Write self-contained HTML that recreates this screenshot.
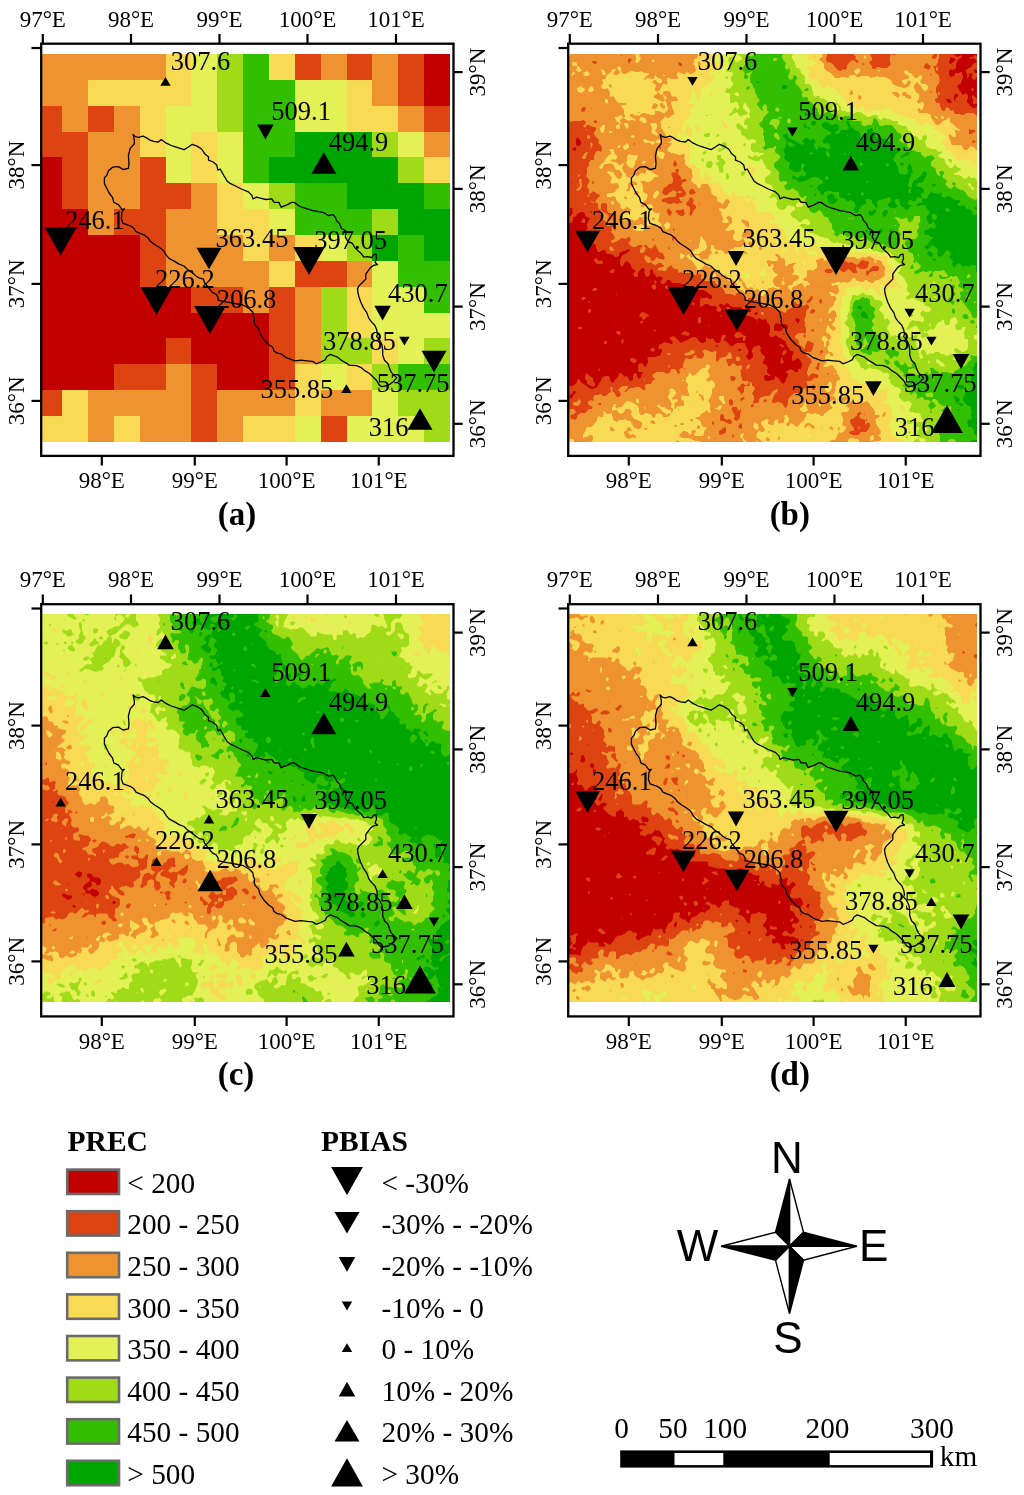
<!DOCTYPE html>
<html><head><meta charset="utf-8"><title>Precipitation maps</title>
<style>
html,body{margin:0;padding:0;background:#fff;}
body{width:1024px;height:1495px;overflow:hidden;position:relative;}
svg{position:absolute;left:0;top:0;display:block;}
.ax{font-family:'Liberation Serif','Times New Roman',serif;font-size:23px;fill:#000;}
.lab{font-family:'Liberation Serif','Times New Roman',serif;font-size:26.5px;fill:#000;}
.pl{font-family:'Liberation Serif','Times New Roman',serif;font-size:33px;font-weight:bold;fill:#000;}
.lh{font-family:'Liberation Serif','Times New Roman',serif;font-size:29.5px;font-weight:bold;fill:#000;}
.lt{font-family:'Liberation Serif','Times New Roman',serif;font-size:29.3px;fill:#000;}
.cp{font-family:'Liberation Sans',Arial,sans-serif;font-size:44px;fill:#000;}
</style></head>
<body>
<svg width="1024" height="1495" viewBox="0 0 1024 1495">
<defs><clipPath id="rclip"><rect x="42" y="54" width="408" height="388"/></clipPath><clipPath id="rcliph"><rect x="42" y="53.5" width="408" height="388"/></clipPath></defs>
<g transform="translate(0,0)">
<g clip-path="url(#rclip)" shape-rendering="crispEdges"><rect x="42.00" y="54.00" width="123.90" height="26.15" fill="#EE9330"/>
<rect x="165.60" y="54.00" width="26.15" height="26.15" fill="#F8DA55"/>
<rect x="191.45" y="54.00" width="26.15" height="26.15" fill="#E3F056"/>
<rect x="217.30" y="54.00" width="26.15" height="26.15" fill="#9FDB17"/>
<rect x="243.15" y="54.00" width="26.15" height="26.15" fill="#31BF00"/>
<rect x="269.00" y="54.00" width="26.15" height="26.15" fill="#F8DA55"/>
<rect x="294.85" y="54.00" width="26.15" height="26.15" fill="#DD4412"/>
<rect x="320.70" y="54.00" width="26.15" height="26.15" fill="#EE9330"/>
<rect x="346.55" y="54.00" width="26.15" height="26.15" fill="#DD4412"/>
<rect x="372.40" y="54.00" width="26.15" height="26.15" fill="#EE9330"/>
<rect x="398.25" y="54.00" width="26.15" height="26.15" fill="#DD4412"/>
<rect x="424.10" y="54.00" width="26.20" height="26.15" fill="#C20000"/>
<rect x="42.00" y="79.85" width="46.35" height="26.15" fill="#EE9330"/>
<rect x="88.05" y="79.85" width="103.70" height="26.15" fill="#F8DA55"/>
<rect x="191.45" y="79.85" width="26.15" height="26.15" fill="#E3F056"/>
<rect x="217.30" y="79.85" width="26.15" height="26.15" fill="#9FDB17"/>
<rect x="243.15" y="79.85" width="52.00" height="26.15" fill="#31BF00"/>
<rect x="294.85" y="79.85" width="52.00" height="26.15" fill="#E3F056"/>
<rect x="346.55" y="79.85" width="26.15" height="26.15" fill="#F8DA55"/>
<rect x="372.40" y="79.85" width="26.15" height="26.15" fill="#EE9330"/>
<rect x="398.25" y="79.85" width="26.15" height="26.15" fill="#DD4412"/>
<rect x="424.10" y="79.85" width="26.20" height="26.15" fill="#C20000"/>
<rect x="42.00" y="105.70" width="20.50" height="26.15" fill="#DD4412"/>
<rect x="62.20" y="105.70" width="26.15" height="26.15" fill="#EE9330"/>
<rect x="88.05" y="105.70" width="26.15" height="26.15" fill="#DD4412"/>
<rect x="113.90" y="105.70" width="26.15" height="26.15" fill="#EE9330"/>
<rect x="139.75" y="105.70" width="26.15" height="26.15" fill="#F8DA55"/>
<rect x="165.60" y="105.70" width="52.00" height="26.15" fill="#E3F056"/>
<rect x="217.30" y="105.70" width="26.15" height="26.15" fill="#9FDB17"/>
<rect x="243.15" y="105.70" width="52.00" height="26.15" fill="#31BF00"/>
<rect x="294.85" y="105.70" width="52.00" height="26.15" fill="#E3F056"/>
<rect x="346.55" y="105.70" width="52.00" height="26.15" fill="#F8DA55"/>
<rect x="398.25" y="105.70" width="26.15" height="26.15" fill="#EE9330"/>
<rect x="424.10" y="105.70" width="26.20" height="26.15" fill="#DD4412"/>
<rect x="42.00" y="131.55" width="46.35" height="26.15" fill="#DD4412"/>
<rect x="88.05" y="131.55" width="52.00" height="26.15" fill="#EE9330"/>
<rect x="139.75" y="131.55" width="26.15" height="26.15" fill="#F8DA55"/>
<rect x="165.60" y="131.55" width="26.15" height="26.15" fill="#E3F056"/>
<rect x="191.45" y="131.55" width="26.15" height="26.15" fill="#F8DA55"/>
<rect x="217.30" y="131.55" width="26.15" height="26.15" fill="#E3F056"/>
<rect x="243.15" y="131.55" width="52.00" height="26.15" fill="#31BF00"/>
<rect x="294.85" y="131.55" width="77.85" height="26.15" fill="#00A600"/>
<rect x="372.40" y="131.55" width="26.15" height="26.15" fill="#9FDB17"/>
<rect x="398.25" y="131.55" width="26.15" height="26.15" fill="#E3F056"/>
<rect x="424.10" y="131.55" width="26.20" height="26.15" fill="#EE9330"/>
<rect x="42.00" y="157.40" width="20.50" height="26.15" fill="#C20000"/>
<rect x="62.20" y="157.40" width="26.15" height="26.15" fill="#DD4412"/>
<rect x="88.05" y="157.40" width="52.00" height="26.15" fill="#EE9330"/>
<rect x="139.75" y="157.40" width="26.15" height="26.15" fill="#DD4412"/>
<rect x="165.60" y="157.40" width="26.15" height="26.15" fill="#E3F056"/>
<rect x="191.45" y="157.40" width="26.15" height="26.15" fill="#F8DA55"/>
<rect x="217.30" y="157.40" width="26.15" height="26.15" fill="#E3F056"/>
<rect x="243.15" y="157.40" width="26.15" height="26.15" fill="#31BF00"/>
<rect x="269.00" y="157.40" width="129.55" height="26.15" fill="#00A600"/>
<rect x="398.25" y="157.40" width="26.15" height="26.15" fill="#9FDB17"/>
<rect x="424.10" y="157.40" width="26.20" height="26.15" fill="#F8DA55"/>
<rect x="42.00" y="183.25" width="20.50" height="26.15" fill="#C20000"/>
<rect x="62.20" y="183.25" width="26.15" height="26.15" fill="#DD4412"/>
<rect x="88.05" y="183.25" width="52.00" height="26.15" fill="#EE9330"/>
<rect x="139.75" y="183.25" width="52.00" height="26.15" fill="#DD4412"/>
<rect x="191.45" y="183.25" width="26.15" height="26.15" fill="#EE9330"/>
<rect x="217.30" y="183.25" width="26.15" height="26.15" fill="#F8DA55"/>
<rect x="243.15" y="183.25" width="26.15" height="26.15" fill="#E3F056"/>
<rect x="269.00" y="183.25" width="26.15" height="26.15" fill="#9FDB17"/>
<rect x="294.85" y="183.25" width="52.00" height="26.15" fill="#31BF00"/>
<rect x="346.55" y="183.25" width="77.85" height="26.15" fill="#00A600"/>
<rect x="424.10" y="183.25" width="26.20" height="26.15" fill="#31BF00"/>
<rect x="42.00" y="209.10" width="46.35" height="26.15" fill="#C20000"/>
<rect x="88.05" y="209.10" width="26.15" height="26.15" fill="#EE9330"/>
<rect x="113.90" y="209.10" width="52.00" height="26.15" fill="#DD4412"/>
<rect x="165.60" y="209.10" width="52.00" height="26.15" fill="#EE9330"/>
<rect x="217.30" y="209.10" width="52.00" height="26.15" fill="#F8DA55"/>
<rect x="269.00" y="209.10" width="26.15" height="26.15" fill="#E3F056"/>
<rect x="294.85" y="209.10" width="77.85" height="26.15" fill="#31BF00"/>
<rect x="372.40" y="209.10" width="26.15" height="26.15" fill="#9FDB17"/>
<rect x="398.25" y="209.10" width="52.05" height="26.15" fill="#00A600"/>
<rect x="42.00" y="234.95" width="98.05" height="26.15" fill="#C20000"/>
<rect x="139.75" y="234.95" width="26.15" height="26.15" fill="#DD4412"/>
<rect x="165.60" y="234.95" width="77.85" height="26.15" fill="#EE9330"/>
<rect x="243.15" y="234.95" width="26.15" height="26.15" fill="#F8DA55"/>
<rect x="269.00" y="234.95" width="26.15" height="26.15" fill="#EE9330"/>
<rect x="294.85" y="234.95" width="26.15" height="26.15" fill="#F8DA55"/>
<rect x="320.70" y="234.95" width="26.15" height="26.15" fill="#E3F056"/>
<rect x="346.55" y="234.95" width="26.15" height="26.15" fill="#9FDB17"/>
<rect x="372.40" y="234.95" width="26.15" height="26.15" fill="#00A600"/>
<rect x="398.25" y="234.95" width="26.15" height="26.15" fill="#31BF00"/>
<rect x="424.10" y="234.95" width="26.20" height="26.15" fill="#00A600"/>
<rect x="42.00" y="260.80" width="98.05" height="26.15" fill="#C20000"/>
<rect x="139.75" y="260.80" width="26.15" height="26.15" fill="#DD4412"/>
<rect x="165.60" y="260.80" width="103.70" height="26.15" fill="#EE9330"/>
<rect x="269.00" y="260.80" width="26.15" height="26.15" fill="#F8DA55"/>
<rect x="294.85" y="260.80" width="52.00" height="26.15" fill="#DD4412"/>
<rect x="346.55" y="260.80" width="26.15" height="26.15" fill="#EE9330"/>
<rect x="372.40" y="260.80" width="26.15" height="26.15" fill="#E3F056"/>
<rect x="398.25" y="260.80" width="52.05" height="26.15" fill="#31BF00"/>
<rect x="42.00" y="286.65" width="149.75" height="26.15" fill="#C20000"/>
<rect x="191.45" y="286.65" width="52.00" height="26.15" fill="#DD4412"/>
<rect x="243.15" y="286.65" width="26.15" height="26.15" fill="#EE9330"/>
<rect x="269.00" y="286.65" width="26.15" height="26.15" fill="#DD4412"/>
<rect x="294.85" y="286.65" width="26.15" height="26.15" fill="#EE9330"/>
<rect x="320.70" y="286.65" width="26.15" height="26.15" fill="#9FDB17"/>
<rect x="346.55" y="286.65" width="26.15" height="26.15" fill="#F8DA55"/>
<rect x="372.40" y="286.65" width="52.00" height="26.15" fill="#E3F056"/>
<rect x="424.10" y="286.65" width="26.20" height="26.15" fill="#31BF00"/>
<rect x="42.00" y="312.50" width="227.30" height="26.15" fill="#C20000"/>
<rect x="269.00" y="312.50" width="26.15" height="26.15" fill="#DD4412"/>
<rect x="294.85" y="312.50" width="26.15" height="26.15" fill="#EE9330"/>
<rect x="320.70" y="312.50" width="26.15" height="26.15" fill="#9FDB17"/>
<rect x="346.55" y="312.50" width="26.15" height="26.15" fill="#F8DA55"/>
<rect x="372.40" y="312.50" width="77.90" height="26.15" fill="#E3F056"/>
<rect x="42.00" y="338.35" width="123.90" height="26.15" fill="#C20000"/>
<rect x="165.60" y="338.35" width="26.15" height="26.15" fill="#DD4412"/>
<rect x="191.45" y="338.35" width="77.85" height="26.15" fill="#C20000"/>
<rect x="269.00" y="338.35" width="26.15" height="26.15" fill="#DD4412"/>
<rect x="294.85" y="338.35" width="26.15" height="26.15" fill="#EE9330"/>
<rect x="320.70" y="338.35" width="52.00" height="26.15" fill="#9FDB17"/>
<rect x="372.40" y="338.35" width="26.15" height="26.15" fill="#F8DA55"/>
<rect x="398.25" y="338.35" width="26.15" height="26.15" fill="#E3F056"/>
<rect x="424.10" y="338.35" width="26.20" height="26.15" fill="#9FDB17"/>
<rect x="42.00" y="364.20" width="72.20" height="26.15" fill="#C20000"/>
<rect x="113.90" y="364.20" width="52.00" height="26.15" fill="#DD4412"/>
<rect x="165.60" y="364.20" width="26.15" height="26.15" fill="#EE9330"/>
<rect x="191.45" y="364.20" width="26.15" height="26.15" fill="#DD4412"/>
<rect x="217.30" y="364.20" width="52.00" height="26.15" fill="#C20000"/>
<rect x="269.00" y="364.20" width="26.15" height="26.15" fill="#DD4412"/>
<rect x="294.85" y="364.20" width="26.15" height="26.15" fill="#F8DA55"/>
<rect x="320.70" y="364.20" width="26.15" height="26.15" fill="#E3F056"/>
<rect x="346.55" y="364.20" width="26.15" height="26.15" fill="#F8DA55"/>
<rect x="372.40" y="364.20" width="26.15" height="26.15" fill="#9FDB17"/>
<rect x="398.25" y="364.20" width="52.05" height="26.15" fill="#31BF00"/>
<rect x="42.00" y="390.05" width="20.50" height="26.15" fill="#DD4412"/>
<rect x="62.20" y="390.05" width="26.15" height="26.15" fill="#F8DA55"/>
<rect x="88.05" y="390.05" width="103.70" height="26.15" fill="#EE9330"/>
<rect x="191.45" y="390.05" width="26.15" height="26.15" fill="#DD4412"/>
<rect x="217.30" y="390.05" width="77.85" height="26.15" fill="#EE9330"/>
<rect x="294.85" y="390.05" width="26.15" height="26.15" fill="#F8DA55"/>
<rect x="320.70" y="390.05" width="52.00" height="26.15" fill="#EE9330"/>
<rect x="372.40" y="390.05" width="26.15" height="26.15" fill="#E3F056"/>
<rect x="398.25" y="390.05" width="52.05" height="26.15" fill="#9FDB17"/>
<rect x="42.00" y="415.90" width="46.35" height="26.15" fill="#F8DA55"/>
<rect x="88.05" y="415.90" width="26.15" height="26.15" fill="#EE9330"/>
<rect x="113.90" y="415.90" width="26.15" height="26.15" fill="#F8DA55"/>
<rect x="139.75" y="415.90" width="52.00" height="26.15" fill="#EE9330"/>
<rect x="191.45" y="415.90" width="26.15" height="26.15" fill="#DD4412"/>
<rect x="217.30" y="415.90" width="26.15" height="26.15" fill="#EE9330"/>
<rect x="243.15" y="415.90" width="52.00" height="26.15" fill="#F8DA55"/>
<rect x="294.85" y="415.90" width="26.15" height="26.15" fill="#E3F056"/>
<rect x="320.70" y="415.90" width="26.15" height="26.15" fill="#DD4412"/>
<rect x="346.55" y="415.90" width="77.85" height="26.15" fill="#E3F056"/>
<rect x="424.10" y="415.90" width="26.20" height="26.15" fill="#9FDB17"/></g>
<path d="M133.1,134.4 L135.4,136.7 L138.4,137.3 L143.0,136.1 L146.6,137.9 L150.1,140.2 L153.6,141.4 L158.3,142.0 L161.2,139.6 L165.3,142.6 L171.2,145.5 L177.0,147.3 L184.1,149.6 L188.8,146.7 L192.3,144.3 L197.0,146.1 L201.6,149.0 L205.2,154.3 L208.5,156.7 L208.5,160.2 L213.2,162.0 L216.7,164.9 L217.9,170.2 L220.2,169.0 L223.8,175.5 L227.3,181.3 L229.6,183.1 L235.5,186.0 L241.3,189.0 L248.4,191.9 L251.9,195.4 L253.0,198.9 L256.6,197.2 L261.3,198.3 L265.9,199.5 L271.8,198.9 L274.1,202.4 L278.8,202.4 L281.2,207.1 L287.0,204.8 L291.7,202.4 L294.1,202.4 L299.9,206.5 L305.8,208.3 L312.8,210.6 L318.9,211.7 L323.8,212.7 L328.7,215.6 L333.1,214.6 L335.5,217.6 L336.5,220.5 L339.4,223.4 L341.4,228.3 L346.3,231.3 L345.3,237.1 L348.2,242.0 L352.1,243.0 L355.0,247.9 L358.0,250.8 L360.9,253.2 L363.8,257.1 L367.7,256.6 L371.6,257.6 L373.6,254.7 L376.0,254.2 L376.5,258.6 L375.1,262.5 L377.5,264.5 L373.6,265.4 L370.7,267.4 L367.7,271.3 L365.8,274.2 L365.8,279.1 L362.9,282.0 L359.0,285.9 L357.5,288.9 L358.1,293.5 L359.0,297.0 L360.8,302.3 L363.4,307.6 L366.9,312.9 L368.7,318.1 L371.3,321.6 L374.8,325.2 L376.6,329.5 L377.5,333.9 L376.6,336.6 L379.2,339.2 L381.9,344.5 L382.7,349.8 L382.7,355.0 L384.5,360.3 L388.0,363.8 L389.8,369.1 L391.5,372.6 L395.0,376.1 L396.8,377.9 L393.0,382.0 L388.0,385.5 L381.9,386.7 L379.2,384.9 L376.6,380.5 L373.1,377.0 L369.5,373.5 L365.2,370.9 L360.8,367.3 L356.4,365.6 L349.3,365.1 L345.8,362.9 L341.4,360.3 L337.0,356.8 L334.8,356.1 L330.2,354.4 L326.6,356.7 L325.5,359.6 L320.8,362.0 L316.1,363.8 L312.6,361.4 L306.7,360.8 L300.9,360.2 L295.0,360.8 L290.3,359.1 L285.6,357.3 L280.9,353.8 L277.4,353.2 L273.9,350.9 L272.7,347.3 L269.2,345.0 L264.5,340.3 L259.8,333.3 L258.7,328.6 L255.2,325.1 L254.0,321.6 L254.6,319.2 L253.4,315.7 L252.8,312.2 L249.3,308.7 L243.4,305.2 L237.6,304.0 L231.7,302.8 L227.0,302.2 L222.0,301.2 L218.1,300.2 L218.1,297.3 L216.2,294.3 L212.3,292.4 L208.4,287.5 L204.5,282.6 L203.5,279.2 L199.6,278.2 L195.7,275.8 L192.7,272.9 L187.9,269.9 L183.9,266.0 L179.1,264.1 L174.2,261.1 L169.3,258.7 L166.4,255.3 L163.4,250.4 L159.5,247.5 L154.6,244.5 L150.7,241.6 L147.8,237.7 L143.9,234.8 L140.0,233.3 L136.0,231.6 L133.7,228.1 L130.2,225.8 L123.1,223.4 L121.4,218.8 L122.0,211.7 L124.3,208.8 L122.0,209.4 L118.4,204.7 L113.8,202.3 L112.6,197.7 L109.1,193.0 L106.7,188.3 L104.4,183.6 L104.4,177.7 L106.7,175.4 L108.5,170.7 L112.6,167.2 L118.4,166.6 L123.1,169.5 L128.4,168.4 L129.0,163.7 L128.4,155.5 L130.2,148.4 L134.3,143.8 L134.3,140.2 Z" fill="none" stroke="#000" stroke-width="1.3" stroke-linejoin="round"/>
<polygon points="165.50,77.00 170.70,85.80 160.30,85.80" fill="#000"/>
<polygon points="257.10,124.60 273.70,124.60 265.40,139.40" fill="#000"/>
<polygon points="323.80,152.25 336.30,173.75 311.30,173.75" fill="#000"/>
<polygon points="44.70,227.40 76.50,227.40 60.60,255.60" fill="#000"/>
<polygon points="196.50,247.75 221.50,247.75 209.00,269.25" fill="#000"/>
<polygon points="293.10,246.90 324.90,246.90 309.00,275.10" fill="#000"/>
<polygon points="140.60,286.90 172.40,286.90 156.50,315.10" fill="#000"/>
<polygon points="194.10,305.90 225.90,305.90 210.00,334.10" fill="#000"/>
<polygon points="374.30,305.80 390.90,305.80 382.60,320.60" fill="#000"/>
<polygon points="399.20,336.80 409.60,336.80 404.40,345.60" fill="#000"/>
<polygon points="421.50,350.75 446.50,350.75 434.00,372.25" fill="#000"/>
<polygon points="346.40,384.30 351.60,393.10 341.20,393.10" fill="#000"/>
<polygon points="420.00,408.25 432.50,429.75 407.50,429.75" fill="#000"/>
<text x="170.7" y="69.5" text-anchor="start" class="lab">307.6</text>
<text x="271.3" y="120.4" text-anchor="start" class="lab">509.1</text>
<text x="328.7" y="150.8" text-anchor="start" class="lab">494.9</text>
<text x="65.1" y="229.3" text-anchor="start" class="lab">246.1</text>
<text x="215.6" y="247.3" text-anchor="start" class="lab">363.45</text>
<text x="314.2" y="248.7" text-anchor="start" class="lab">397.05</text>
<text x="155.0" y="288.4" text-anchor="start" class="lab">226.2</text>
<text x="216.7" y="307.5" text-anchor="start" class="lab">206.8</text>
<text x="388.0" y="301.5" text-anchor="start" class="lab">430.7</text>
<text x="395.8" y="350.3" text-anchor="end" class="lab">378.85</text>
<text x="449.6" y="392.3" text-anchor="end" class="lab">537.75</text>
<text x="333.3" y="398.2" text-anchor="end" class="lab">355.85</text>
<text x="408.5" y="436.3" text-anchor="end" class="lab">316</text>
<rect x="41.2" y="43.7" width="412.3" height="412.2" fill="none" stroke="#000" stroke-width="2.3"/>
<line x1="42.8" y1="34" x2="42.8" y2="43.7" stroke="#000" stroke-width="2.2"/>
<line x1="131" y1="34" x2="131" y2="43.7" stroke="#000" stroke-width="2.2"/>
<line x1="219.5" y1="34" x2="219.5" y2="43.7" stroke="#000" stroke-width="2.2"/>
<line x1="307.5" y1="34" x2="307.5" y2="43.7" stroke="#000" stroke-width="2.2"/>
<line x1="396" y1="34" x2="396" y2="43.7" stroke="#000" stroke-width="2.2"/>
<line x1="101.8" y1="455.9" x2="101.8" y2="465.5" stroke="#000" stroke-width="2.2"/>
<line x1="194.8" y1="455.9" x2="194.8" y2="465.5" stroke="#000" stroke-width="2.2"/>
<line x1="286.6" y1="455.9" x2="286.6" y2="465.5" stroke="#000" stroke-width="2.2"/>
<line x1="378.75" y1="455.9" x2="378.75" y2="465.5" stroke="#000" stroke-width="2.2"/>
<line x1="31.5" y1="48" x2="41.2" y2="48" stroke="#000" stroke-width="2.2"/>
<line x1="31.5" y1="165.1" x2="41.2" y2="165.1" stroke="#000" stroke-width="2.2"/>
<line x1="31.5" y1="283.9" x2="41.2" y2="283.9" stroke="#000" stroke-width="2.2"/>
<line x1="31.5" y1="400.9" x2="41.2" y2="400.9" stroke="#000" stroke-width="2.2"/>
<line x1="453.5" y1="72.1" x2="462.7" y2="72.1" stroke="#000" stroke-width="2.2"/>
<line x1="453.5" y1="188.9" x2="462.7" y2="188.9" stroke="#000" stroke-width="2.2"/>
<line x1="453.5" y1="306.6" x2="462.7" y2="306.6" stroke="#000" stroke-width="2.2"/>
<line x1="453.5" y1="423.8" x2="462.7" y2="423.8" stroke="#000" stroke-width="2.2"/>
<text x="42.8" y="26.9" text-anchor="middle" class="ax">97°E</text>
<text x="131" y="26.9" text-anchor="middle" class="ax">98°E</text>
<text x="219.5" y="26.9" text-anchor="middle" class="ax">99°E</text>
<text x="307.5" y="26.9" text-anchor="middle" class="ax">100°E</text>
<text x="396" y="26.9" text-anchor="middle" class="ax">101°E</text>
<text x="101.8" y="488" text-anchor="middle" class="ax">98°E</text>
<text x="194.8" y="488" text-anchor="middle" class="ax">99°E</text>
<text x="286.6" y="488" text-anchor="middle" class="ax">100°E</text>
<text x="378.75" y="488" text-anchor="middle" class="ax">101°E</text>
<text transform="translate(24.1,165.1) rotate(-90)" text-anchor="middle" class="ax">38°N</text>
<text transform="translate(24.1,283.9) rotate(-90)" text-anchor="middle" class="ax">37°N</text>
<text transform="translate(24.1,400.9) rotate(-90)" text-anchor="middle" class="ax">36°N</text>
<text transform="translate(485.3,72.1) rotate(-90)" text-anchor="middle" class="ax">39°N</text>
<text transform="translate(485.3,188.9) rotate(-90)" text-anchor="middle" class="ax">38°N</text>
<text transform="translate(485.3,306.6) rotate(-90)" text-anchor="middle" class="ax">37°N</text>
<text transform="translate(485.3,423.8) rotate(-90)" text-anchor="middle" class="ax">36°N</text>
<text x="237" y="524.8" text-anchor="middle" class="pl">(a)</text>
</g>
<g transform="translate(527,0)">
<g clip-path="url(#rclip)"><rect x="30" y="42" width="434" height="414" fill="#C20000"/>
<path d="M355 46l0 2 1 1 2 1 0-4 65 0 1 2 2 2 1 2 0 2 3 3 2-1 1 0 1-1 1 1-1 2-2 1-1 1-2 4 0 4-1 1-2 1-2-1-2 2 0 4 2 2 2-1 1 0 1-2 0-1 4 0 2-1 1 0 0 2 1 2 0 2-2 4 0 2-2 0-2 2 1 2 1 1 0 1 2 2 0 1 2 2 1-1 1 0 2-1 0 1 1 2 0 2-1 2 0 2 2 2 1 2 1 0 2 2 2 0 2-1 1-1 1-2-2-1-2 1-2 0 0-4-1-2 0-2 1-1 6 6 2 1 1 2 1 1 2 1 0 344-424 0 0-69 1 1 0 2 1 1 6 0 2 1 2 0 2-2 1 0 1-2 0-2 2-1 1 1 1 2 2 2 4 2 2 2 2 1 2 0 2-1 1 0 2-2 2-4 1-1 0-1 1-2 1-1 2-1 4 0 1 2 0 2 1 2 2 1 1-1 1-2 2-2 2-4 0-1 2 0 4 4 1-1 1 0 1 2 1 1 0 1 2 1 2-1 0-4 1-2 1-1 2 1 0 2 1 2 1 1 2-2 0-1 2-4-4 0-1-2 0-4 1-2 2-1 2 1 1 2 1 1 1-1 2-4 0-2-1-2 2-1 6 0 2-1 2 0 2-2 0-1 1-1 0-2-1-1-2 0-1-1 1-2 0-1 6-3 2 1 2 0 1 1 2 0 1-2-4-4 4-2 2 1 6 6 6-3 1 0 1-1 4-2 2 0 2 1 1 2 3 3 2 0 2-1 1 0 0-4 1-1 0 1 2 1 2 0 2-1 2 4 2 1 2 0 1-1 1-2 0-2 1-2 1-1 2 0 1 1-1 2-2 2 4 2 2 2 1 2 3 0 2-2 2-1 8 0 0 1 2 4 0 1 1 1 0 4-2 2 1 2 2 2 2-1 2-2 0-3-1-2 0-2 1-2 0-1 2 0 1-1 1 0 2-1 1 1 1 2-1 2 2 4 1 1 2 1 0 2-1 2-1 1 0 3 2 0 2 2 0 1 1 1-1 2 0 2 4 4-2 0-2-1-2 0-1 1 0 2 1 2 2 1 2 0 2-1 2 0 2-2 0-2 2 1 3 3 1 2 2 2 2-2 1-2 0-2 2-2 0-2-1-1-2-1 6-3 1 1 1 0 2 2 3 0 0-2 1-1 2 0 0-1 1-2 0-2-2-4-1-1-2-1-2 2-2 1-1-1 0-4 2-4-1-1-2 0-2-2 0-1-2-2 0-1-1-1 0-2-1-1-2-1-2-2-2 0-2-2-2-1-2 2-2 0-1-1-1-2 1-2 0-6-1-2-2-2 0-2-2-1-2 1-4-2-2 2 1 2-1 1 0-3-2-1-2-2-2 0-1-1-6 0-2-2 0-2 1-2-1-2-1-1-8 0-2-1-1 0-1-2-2-1-2 2-2 0-1-1-2 0-2 2 1 0 2 2 0 3-2 1-2-1-1-1 1-2 0-1-1-1-5 0-2-1-1-1-3 0-2 2-2 1-1-1 0-6 1-2 4 0 2-1 2 2 2 0 1-1 0-2-2-2-1 0-2-2-4-2-6 0-2-2-4-2-4 0-4-2-2 0-2-1-6 0-2-1-1-2-3 0-1 2-2 2-2 0-2-2 2-2 1-2-4-2-2 2-1-2-2-2-1-2 0-2-2-1-1 1 0 4-1 2-2 1-2-2 0-1-1-2 1-2-1-2-2 0-4 4 0 4-1 1-2 0-1-1-1-2 2-2 0-2-2-1-1-1-1-2 0-2-2-1-2-2-2 1-2 4-2 0-1-2 0-4 2-4 1-1 4-2 3-3-1-1-2 1-1 0-1 1-2 0-1 1-1 0-2 2 0 2-2 1-2 0-2-2-2-1-4 0-2-4-2 0-2 1-1 1-2 0-1-1 0-1-1-2 0-2-1-2-2 0-4 4-2-1-1-1-1-2 2-2 1 0 1-1 2-1 0-2-1-2-1 0-2-1-1-1-1-2 1-2 2-2-1-1 0-3 3-6-1 0-4-2 0-2-2-2-2 0-4 2-1 2-1 1-2 0 0 3-1 2-1 1-2 0-1-1-1-2 2-4 1 0 2-2 1-2-1-2 1-2-3 0 0 4-1 2-1-2-1-1-2-1-2 4 1 2-1 2-2 2 0-174zM423 58l0 2-1 2 0 1 2 1 2-2 2-1 1-1-2-2-1 0-2-1zM428 94l-1 2 0 4 1 1 0-1 1-2 2-2 0-2zM419 100l1 1 0 1 2 1 2 0 1-1-1-1 0-1-2-1-2 0zM429 102l1 0 0-1zM50 138l-1 2 0 4 1 2 2 0 2-2 0-2-1-2-3-3zM46 148l-1 2 1 0 2 1 1-1 0-2-1-1zM35 164l0 2 1 1 2-1 0-2zM44 182l2 1 0-1zM36 204l-1 2 1 1 2 1 2-2-1-2zM63 212l1 1 1-1-1-1zM219 308l0 2 1 1 2 1 2 0 0-3-1-1-1-2-2 1zM229 312l-2 2 1 1 2 0 1-1-1-2zM270 318l-2 2 2 2 0 1 2 0 0-1 1-2-1-1zM248 324l-1 2 0 4 1 1 6 0 1-1 1-2 2 0 2 1 1-1 0-2-1-1-2-1-6 0-2-1zM256 335l2-1-2-1zM188 346l2 1 1-1-1-1zM211 350l1 1 2 0 0-2-2 0zM46 392l-1 2-1 0-2 2 1 2 1 1 2-2 0-1 1-2 1 0 1-2-1-1-2 0zM434 46l15 0 2 2 0 2-3 3-2-1-2-4-2-1-1 1-3 6-1-2-1-1-2-1-1 0 0-2zM448 55l2 1 4 0 2 2 1 2 0 2-1 0-2 4 2 2 0 1 1 1-1 2 1 2-3 3-4 0-1 1-1 2-1 0-2-2 0-2 1-2-2-1-2 1-1 0 1 1 0 2-2 1 0-4-1-2 0-2 1-1 2-1 1 0 2-2 1-2 4-2-1-2-1-1-2-1-2 1-2-1 2-1 2 0zM447 70l0 2 1 1 2 0 1-1-1-1 0-1-2-1zM446 88l1 2-1 1-2-1 1-2zM456 88l2 0 0 7-2-1 0-2-1-2zM56 218l2 1 0 4-2 0-2-1zM36 226l4 2 2 2-2 4-4-2-1-2 0-2zM54 233l2 1-2 1-1-1zM68 258l2 1 2 2 2-1 2 2 0 1-1 1-5 0-2-2-1-2zM35 266l0 2-1 2 0 1 0-6zM84 270l2-1 2 1-1 2-1 1-2 0-2-1zM128 280l2 2-2 2 1 2 0 2-1 2-2-1-1-1-1-2 4-2-1-2zM138 285l6 3-2 1-2 0-2-1zM70 288l0 2-2 1-2 0-1-1 2-2zM90 293l0 2-1-1zM174 296l0 1-1-1zM56 297l2 0 1 1-1 1-2 1-2 0 1-2zM62 301l1 1-1 1-1-1zM166 302l2 2-2 2-1-2zM200 307l2 0 1 1 0 4-1 1-2 0-1-1 0-4zM62 309l2 0 0 3-2 1-1-1 0-2zM114 313l2-1 6 3 0 1-2 1-2 2-2 1-1-2-1-1-2-1 1-2zM184 315l1 1-1 0zM194 315l1 1-1 1-1-1zM172 317l2 0 0 5-2 2-1-2 0-4zM114 321l2 0 0 1-2 2-1-2zM182 325l1 1-2 0zM52 327l2 0 2 1-2 1-2 0-1-1zM126 330l3 0-1 2zM90 331l2 0 2 1-1 2-1 1-2-1-1-2zM158 331l2 1 1 0 2 2-1 1-2 1-2-1-2 0-2-1 2-2zM212 332l2 1 2 2 2 1 1 0 0 2-1 2 0 1-2 0 0-4-2 0-2 1-3 0-2-2 1-2 2-2zM96 339l1 1-1 2 0 2-2-2 1-2zM78 341l2 0 0 2-1 1-2 0 0-2zM254 344l2 1 1 1-1 2-2-2-2 0 1-2zM127 348l1 2-2 2-2-1-1-1 2-2zM258 349l1 1 1 2-4 4-1-2 1-2 0-1 2-1zM104 358l2 0 4 2-1 2-1 1-2 0-3-3zM256 357l0 2-1 1 1 0 1 2-1 1-2 1-1-2 1-2 0-1zM72 368l1 2-1 1-1-1zM60 373l4 4 2 1 0 2 2 4 0 2-2 1-1-1-1 0-4-2 0-3-1-1-1-2 0-2 1-2z" fill="#DD4412" fill-rule="evenodd"/>
<path d="M83 46l1 1 1-1 61 0 1 2 1 1 2-1 2 0 2-2 150 0-2 1-2 0-2 1-2 2 4 4 0 2-1 2 0 2 1 2 2 0 4 2 1 2 5 5 2 0 2-2 2 1 2-2 0-3 4-4 2-1 2 1 2 2 2-1-4-4 1-2-1 0-2-2-1-2-1-1-2-1-4-4-1 0 9 0 1 2 1 1 4 0 2-1-1-2 12 0 1 1 0 3-2 2-1 2 2 4 0 2-1 1-2 1 1 2 2 2 0 2 1 1 2 0 2-2 2 0 2 1 6 0 4-4-1-2 0-6 1-2 2 1 2 0 2-1 0-1 2-1-4-2-5 0-1-1 0-3 32 0 0 2-2 2-1 0 3 0 4 2 1 0 0 2 1 0 0-2-1-2 1-2 2 0 2 2 2 1 1 1 0 2-2 2 0 2 1 1 2 0 1-1 1-2 0-3 2-2 0 7-1 2 0 2-1 2 0 1-2 1-4 0-2-1-2-2-2 1-1 2 0 2 1 0 4 2 2-4 2 0 2 4 0 2 4 4 0 2 1 2-1 2 0 2-2 1 0 1-1 2 0 4 1 2 0 1 1 1-1 2-2 1 0 1 1 2 1 1 2 0 1 1 0 2 1 2 0 1 2 2 2 0 0-1 1-2 1-1 1 1 1 0 1 2 1 1 2-1 2 4 5 0 1 1 2 0 4-2 6 0 2 1 2 2 4 0 2 1 2 2 0 331-257 0-1-1-4 0-2-1-2-2-1 0-1-1-1 1 0 2 1 2 1 0-157 0 0-32 2-4 7 0-1-2 0-2 2-1 2 0 2 1 0 1 1 1-2 2-1 0-2 1-1 1 1 2 0 1 2 0 2 1 2-2 0-2 2-2 2-1 4 0 4-4 2 0 2-1-2-2-2-1-1-1 0-2 1-1 2-1 2 1 1-1-1-2 1-2 1-1 4 0 1-1 1 0 2 2 2 0 2-1 2-2 2-1 0-2-1-2 1-1 2 1-1 2 1 2 2 1 0 1 1 2 1 1 2 0 1-1 1-2-1-2-2-2 3-3 2-1 5 0 0 2-4 4 2 0 3-3 2-1 2 0 2-1 4 0 2 1 2 2 3 0-1-1 0-4 2-1 4 0 2-4 2 0 0-1-3-3 1-2 4-2 7 0 1 1 2 1 0 1 0-1 2-1 1-1 1-2 0-1 4 0 1 1 2 4 1 0 1-2-1-2 2-2 2 0 0-4 2-4 0-1 2-1 2 1 2 0 2-1 1-2 1-1 2 1-1 2 3 0 2 1 3-3 0-2-1-2-1 0 3-3 0 1 2 0 4 2 2 0 2-1 2 1-1 2 0 6 1 2 2-2 1-2 1 0 2-1 2 0 3-3 1-2 2 1 0 1 1 2 0 2-1 1-4 0-1 1 1 2 0 1 1 1 0 2 2 0 3-3 2 1 2 2 2 0 2-1 1 1 0 2-1 2-1 0 1 2 0 4 1 2 0 2 1 1 4 0 2 1 2 0 1 2 0 2 1 0 2 2 0 1-1 1-2 4 2 2 0 4-1 2 0 2-2 1 0 2 2 0 1-1-1-2 2-1 2 0 2-1 0-2 1-2 1-1 2 0 1-1 5 0 2-2 1-2 1-1 4-2 1 1-1 2-2 2-2 4 0 1-1 1 0 2 1 1 2 0 2-1 2 0 4 2 0 1 1 1 1 2 2-1 0-1 1-2 0-4 1-2 4-4 2-1 2 0 2 1 1 0 2-2 0-2 1-1 2-1 1 0 2-2-1-2 0-1-1-1 1-1 4 0 2-2 2-1 2 0 2-2-2-2-2 0-2-1-2 1-2 2 0 1-1-1-1-2 0-3 1-1 0-2 2-4 2-2-1-2 0-1-1-1-1 0-2-2-1-2 0-2 5 0 2-4 0-2 1-2-1-1-4-2-2 0 0 1-2 4 0 3-2-1-1-2-1 0-2-2 0-2-1-2-1-1-2-1 0-2 2-2 2-1 4 0 2 1-2 2 2 2 1-2-1-2 1-2 0-4-1-2 0-4-1-2 1-2 0-1 1-1 0-4 1-2 2-2 0-2-2-2-4 2-2-1-1-1-3 0-2-2-1 0 0-2-1-2-2 0 2 4 0 4-1 2-1 0-4 2-1 2-1 1-8-4-2 0-4-2-4 0-2-1-1 0-1-1-2 0-2-1-2-4-3 0-2-2-4 0 0 4-2 0-1-2 1-2-1 0-6-6-2 1-1 1-1 2-4-2-5 0-1-1 0-1-1-2-4-4-1 0-2-1-1-1-1-2 0-1-2 0-2 1-2-1-4 0-2-2-2 0 0-2 1-1-1-2-4 0-2 1-2 0-2-2-8 0-2-1-2 1-1-1 0-2-1-1-2 0-2-1-1-2-1-1-2 2-2 1 0 2-2 1-2 0-2-1-2 1-1-1 0-2 1 0 2-1 2 0 1-1-3-3-2 0-4 2-2-1-2-2-2 1-2 0 0-1-2-2 0-1-1-1 1-2 0-1 4 2 1 1 1 2 0 1 2 0 1-1 1 0 1-2 1-1 2 2 2 0 2 1 2-2-2-4 0-1-2 0-1-1-1 0-4-8-1 2-3 3-1-1-1 0-2-2 0-1-2 0-2 1-2-1-2 0-4 2-2 0-1-1-1 0-2-2-1 0 1-1 0-1 2-2-2-4-2 2-2 1-2-1-2 0-2 2-6 3-2-1 0-1 1-1 1 0 2-2-2-4-2-2 1-2-1-2 4-2-2-2-4 2-2 0-1-2 0-2-1-1-2-1 0-2-1-2-2-2 0-2 1-2-2-1-1-1 0-4-1-1-2-1-2 1-2-1 0-1 2 1 2 0 1-2 4-4-1-2-2 0-2-2-1 0-1-1-2 2-2 1 0-4-2-4 3-6-1 0-1-2-2-2 1-2 0-6 2-2 0-4 2-2 3 0 0-4 2-4 1-1 2 0 2 1 1-2 0-2-1-2 0-1-2-1 0-1-1-1 1-1 0-1-4-4-1-2 0-2 2-2 0-2-1-1-2 0-2-1-1 0-1-1-2 0-1 1-1 2-2-2-1 0 1 0 2-2 1-2-1-1-2-1-2 1-8 0-2 1-2-1-2-2-2 2-1-1-1 0 0-2-1-2 0-2 1-2-1-2 0-2-1-1 0-61zM94 54l0 2 1 0zM101 60l0 2 1 2 1-2 2-2-1-1-2-1zM65 62l1 1 2 1 2-1 0-1-2-1-2 0zM152 62l-1 2 2 2 2 0 0-2-1-1zM335 64l1 1 2-1-2-1zM403 74l1 2 1-2zM403 92l1 1 1-1-1-1zM55 108l-1 2 0 1 2 1 2-1 0-1 1-2-1-1-2 0zM64 108l0 1 2-1zM66 122l2 1 2 0 0-2-2-1zM442 134l2 0 4-2 0-2-4 0-2-1zM452 139l-2 1-1 0 1 1 2 0 2-1 1-2-1-1zM446 140l-1 2 1 1 2-1 1 0-1-1zM106 144l2 1 0-2zM132 148l2 1 0-2-2-1zM148 160l-2 4 1 2 1 1 2-2 0-1zM148 170l1 2-1 1-2-1-2 2 2 4 0 4-2 2-2 0-2 2 0 1-2 0-1 1-2 4 1 2 2 1 2 0 3-3 1 0 2-2 4 2 2-1 2 0 1 1-1 1-2 0-2-1-1 2 0 2-1 1-6 0-2 1-2 0-4 2 2 2 2 0 4 2 2 0 2-1 2 0 1 1 2 0 1-1 2 0 2-1-2-1-1-1-1-2 2-1 2 0 2-1 1-2 0-2-3-3 0-1-2-2 2-4 2 0 2-2-2-1-2 0-2 1 0-2-1-2-2-2 0-2 1-1 0-2-2 0zM65 182l1 2 1 0 0-2-1-1zM163 190l-1 2 0 1 2 2 2-1 1 0 1-1 2-1-2 0-1-2-1-1-2 0zM162 199l0 1-2 2-1 2 1 2 2 0 1 2 0 4-1 2 2 2 3-6 2-2 0-2-1-1-2-1 0-2 1-2-3-3zM74 204l0 6 2 2 4 2 2 2-2 4 2 1 2-1 2-4 0-2-2-1-2 0-1-1-1-2 0-6-2-1-2 0zM172 205l1-1-1-2zM140 210l0 2 2 4 2-1 0-1 1-2-2-2-1-2zM149 210l0 2 3 3 2 1 2 0 2-2 0-1-1-1 0-2-1-1-2 1zM146 228l0 3 2-1zM87 230l1 1 1-1-1-1zM145 238l0 2 1 1 1-1 1-2-2-2zM125 240l1 1 1-1-1-2zM141 248l1 2 1-2-1-1zM312 262l2 2-2 1-1 1-1 2 2 1 2 2 2 1 2 0 2-2 2-1 4 4 4 0 0-2-1-1 0-2 1-2 2 2 2 1 4 0 2-1 2-4 0-2-2-1-2 0-2-1-2 1-1 1-1 2-1 0-1 1-6-3-2 1-4-2-2 0-2-2-2 0zM346 266l-4 4 0 1-2-1-1 2 0 2 1 2 2-2 0-1 4-2 4 0 2-1 0-3-2-1zM297 270l1 1 0 1 2 1 4 0 2-1-1-2-1-1-4 0-2 1zM291 288l1 0 0-1zM284 296l-1 2-4 4 1 1 2 0 3-3 1-2-1-2zM292 300l0 2 2 2 1-2 0-2-1-1zM284 310l-1 2 1 2 4-2 0-2-2-1zM284 330l2 2 1-2-1-1zM293 352l1 2 2-2 0-1-2-1zM292 354l0 1 2-1zM292 362l-2 2 0 2-2 2 2 2 2 0 0-4 1-2-1-2 0-1zM156 368l2 1 0-1zM300 374l2 1 0-2zM203 378l1 2 0 1 2 0 2-1 1-2-1-1-2-1-2 0zM215 384l-1 0-1 2-1 1-2 1 1 2 2 2 1 2 0 1 3-3 0-4 1-2 4 0 1-2-1-2-1 2-1 1-2 0-2-2zM285 386l0 4 2 0 1-1 0-3-2-2zM214 398l-1 2 1 1 2-1 2-2-2-1zM286 398l0 1 1 1 1 0 0-2zM202 400l0 4 2 2 2-2 0-3-2-2zM237 400l0 2 2 0 1-2-2-1zM266 402l0 2 1-2zM71 404l1 1 2 0 0-2-2 0zM205 408l0 2 3 6-1 2 0 2 1 0 2 1 3-3 0-4 1-2 0-3-2 2-1-1-1-2 0-1-4 0zM332 412l-2 2 0 2-2 1-2 2-2 0-1 1 0 2 2 4 2 2 0 2-1 1-2 0-2 1 1 2 1 0 2 1 6 0 0-1 2-2 5 0 2-2 2-4 0-2-1-1-2 0-2 2 0-5 2 1 0-2-2 1-2-1-2 0-1-1-1-2 2-2 2 0 2 1 0-1-2 0-2-1-1-1zM193 416l0 4 1 1 2 0 6 3 2 0 1-2-1-2-2-1-2 1-2-1-1-1 0-2-1-2-2 0zM185 422l0 2 1 1 1-1 0-2-1-1zM211 426l1 2 2 1 1-1 0-4-1-1zM196 428l-2 2-2 1 0 3 2 1 2-1 1 0 2-2 0-4-1-1zM206 434l-1 2 1 2 1-2zM187 438l1 1 1-1zM410 46l5 0-1 2-2 2-2-2zM302 51l2 0 1 1-1 1-2 0zM410 66l1 2 0 2-1 1-1-1 0-2zM412 92l1 2-1 1-1-1 0-2zM40 122l2 1 1 1-1 2-2 1-1-1-1-2zM35 124l1 2-2 0 0-3zM60 129l0 2-1-1zM62 135l1 1 0 2-1 1-2-1 0-2zM35 142l0 2-1 2 0-6zM64 142l2 2-2 4 0 1-1-1 1-2-1-2zM60 152l1 0-1 2 0 1-1 1 0 2-1 1-2 0-1-1 2-4 1-1zM35 172l-1 1 0-2zM52 174l1 2-1 1-1-1zM52 179l2 0 1 1-1 2 1 2 0 2-2 4-1 0-2 1-1-1 4-4 0-2-1-1zM60 196l2-2 0 3-2-1-1 0zM58 203l1 1-1 1-1-1zM84 246l2 2 1 2-1 1-2 0-1-1-1-2zM116 246l2 1 1 1-1 2 0 1-2 2-2 0-1-1 0-2 1-2zM234 312l2 0 1 2-1 1-2-1zM167 350l1 2-1 2-1 0-2 1-2 0-2 1-2-1-1-1 1-1 2 0 1-1 1 0 2-2zM142 353l2 1-2 1-2-1zM210 356l2 1 1 1 0 2-1 1-2 0-1-1 0-2zM142 365l1 1-1 2-1-2zM222 364l1 2-1 2-2 1-1-1 1-2zM118 379l0 2-1-1zM52 399l2 2 0 1-1 2-2 2-3 0-2-2 0-1 1-1 3 0 1-2zM38 401l1 1-1 1zM36 408l1 2-1 2-2-1 0-3zM332 426l1 2-1 1-1-1z" fill="#EE9330" fill-rule="evenodd"/>
<path d="M52 46l5 0-2 2-1 2-2 1-1-1 1-2zM117 46l-3 0-1 2 2 2 0 2-2 2-1 2 2 2-2 4-2 1-2-1 1-2 0-4-1-1 0-1-1-2 2-4 0-2zM126 46l-2 2-4-2zM292 46l0 3-1 1 0 2 1 0 2 2 1 0 1 2-2 2-1 0-1 2 2 1 3 3 0 4 3 3 4 2 1 1 1 2 1 0 1 2 5 0 1-1 4 0 2 1 2-1 0-1 2-1 4 0 2 2 2 0 2-1 8 0 2 2 2-1 2 0 2-1 2 1 6 0 6 3 1 2 0 2 1 0 2 1 1 1 1 0 2 1 2 0 2 1 2 0 4-2 2-4-2-2-2 2 0 1-2 2-3-3 0-2 1 0 2-1 2 0 2-1 0-2-4-2-1-2 1-2 0-2 0 2 4 2 0 1 2 0 1 1 1 2 2 2 2 0 2-2 2-1 1 1 0 2-1 2 0 1-1 1 1 1 2 1 2 0 2 1 1 1 0 2-1 2-2 1-2-1-2-4-4-4-2 2-1 2 0 2 2 4 1 1 2 1 0 5-2 2 0 1 2 2 2-2 2 0 1 2 0 2-1 2 0 1-2 1-2-2-2 2 2 2 0 1 8 0 2 1 1 0 1 2 0 2 2 2 2 4 2 1 2 0 4-4 2-1 1 0 3-3 1 1 0 4 1 1 2 1 4 4 2 1 1 1-1 1-2-1-2 0 0 2 1 2 0 2-1 1-2 0-2-2-2-1 0-1 0 5 2 4 0 2 2 1 8 0 1 1 1 2 0 1 2 1 2 0 4-4 4 2 0 1 4 4 2-1 2-2 1-2 1-1 0 7-1 2 1 1 0 293-109 0 1-2-2-2-1 0-1 2 2 2-7 0-1-2 1-2 3-3 4-2 4 0 2-1 0-2-2-2-2 0 2-1 1-1 1-2-2-4-2-2 0-1-1-1 0-2-1-2 2-2 2-1 1-1-1-1-4 0 0-3-2-4-2-2-1 0 0-2-3-3-2 1-1 0-1 1-2-1-4 0-2 2-1-2-1 0-2-1-4 4-2 1 4 2 0 2-2 2-5 0-1 2 2 4 0 4-1 2 1 2 2 0 1 2-1 2-2 2-1 0-1 1-2-1-4 8-4 0-2 2 0 4 2 1 4-2 1 1 0 4-52 0-1-1-2 1-23 0-1-2-2 2-2-2-2 2-4 0-2-2 0-1 0 3-10 0 1-2 1 0 4-2 3 0 1-2-1-2-1-1 0-1-1-2-1 0-1-2 1-2 2-1 1 1-1 2 0 2 4 4 2 0 4 2 1-2 1 0 2-1 2 1 1 2 2 0 1-1 0-1-2-1 0-1-4-2-1-2 1-2 0-1 1-1 1-2 2 2 2 0 2-2-2-4-2-2 0-2 2-1 1-1 1 0 2-1 2 1-1 2 0 2 1 0 2 1 2 0 1-1 0-2 1-2 1 0 1-1 1 1 0 2 1 2 2-1 2 0 1-1 0-2 1-2-1-2 1-1 2 0 0 1 2 2 0 3-3 3 1 2 2 0 1-2 1-1 1 1 1 0 2 2 2 1 3-3 1-2 2-1 1-1 2-4 0-2 1-1 2 0 2 1 2 0 2-1 2 1 2 0 2 2 2 0 1-2 1-1 2-1 2-2 4-2-2-2-1-2 0-2 1-1 2-1 2 1 1-1 0-2-1-1-2-1-3 0 1-1 2 0 0-1 2-2 1-2-1-2 1-2 0-4 1-1 2-1 1 0 0-2-1-2-2-2 0-2-1-2-2-2-1-2-2-1-4 2-2 0-2-1 4-4-2-2 0-4 2-2 2-1 1 1 0 2 3 0 0-2-2-2-2 0-2-4 1-2 2-2-1-2 0-2 2-2 0-2-2-2-2-1-1-1 0-2 1-2 0-3 2 1 1 2 3 3 2-1 1-2-1-1-2-1-1-2 2-2 1-2 0-2 2-2-1-2 0-2-1-1-2-1-4 4-1-2 1-2 0-1 2-2 2-1 1-2 0-2 2-2 0-2-1-2-4 0-1-2-1-1 0-1 2 0 4 2 0 1 2-1 2-2 0-2-1-2 0-2-1-1-2 0-2 1-1 0-1-2 2-1 2 0 1-1 4 0 1 1 2-1 2 0 2 1 4-2 0-1 2-2 2 0 1 2 1 1 2 0 2 1 2 0 2-2 2 0 1 2 1 0 2 1 2 0 3-3 3 0 2-2 2-1 1-1 1-2-1-2 1-2 0-3-3-3 0-2-1-1-2-1-4 0-2-2-4-2-4 2-2-1-2 1-1 0-1 1-2 0-2-2-8 0-6-3-4 2-1 2-1 1-4 0-2-1-2 0 0 2-2 1-1-1-1-2-2 0-4 2-1 0 0 2 1 1 0 5-2 1-2 2-2-1-2 0-2 1 0 5-2 2-1 0-1 2 2 1 2 0 3 3-1 1-2 0-1 1-1 2-1-2-1-1 0-1-2-1-4 2-1 1-1 0-2 1-1 1 0 2-1 1-3-3 0-2 1-1 2 0 2-1 0-2 4-2 2-2 0-1-2-2-4 0-1-1 2-2 0-2-1-2 0-2 2-2 1 0-1-1-2 0-2 1-2 0-2 2-2 0 0-6-2-2-2 0-1-2-2-2-3 0 1 2 2 2 0 2-1 1-6 0-2-1-2 1 0 2 1 1 0 2 1 1 2-1 0-2 2 0 1 2-1 2-1 0 2 4 1 1 2 1 4 0-2 0-2 1 0 1-2 1-1 1-1 2 0 2 2 4 1 0 1 1 2 0 1 1-1 1-2 0-4-2-2 1-2 0-2 2-1 2 0 2-1 0-2 2-2 0-2-2 1-2 0-2-1 0-2-1-2 1-2 0 0-2-2-1-2 1-2 0-2-4 0-1-2-1 0-1-1-1-1-2-2 0 0 3 2 1 1 0 0 2 2 4 1 1 0 4-2-2-4-2-1-1-1-2 0-2-4-4-1 0-1-2-1 2-1 1-2-1 1-2-1-1 0-1-2-1-4 0-2-1-2-2 0-1-2 1-1-2-1-1 0-1-2-1-2 0-2-1-2-2-1 2-3 3-2 1-3 0 1-2-1-2-2-2-1-2-2-2-1 0-4-4 1-1 2-1 2 4 2-1 2-2 4 0 0 1 1 2 1 1 2 1 2-1 2 0 2-1 0-3 2-1 1-2-2-2 1-2 0-3 2 0 1 1 0 2 1 1 2 1 4 0 2 1 1 1 1 2 2 0 2-1 0-1 1-2 1-1 2 0 2-2 6 0 2-2 2 0 2-1-2-2-2-4-2 2-2 1-2 0-2-1-1 0-1-1 0-4 1-1 1-2-1-2-3 0-2 1-2 0-2-1 4-4 0-1 1-1 1 0 1-2 0-4-1-1-2-1 0-1-3 3 2 2 1 2-2 1-4 0-1-1 1-2 0-2-2-4 1-2-1 0-2-2 0-1 1-1 1 0 2 1 2 0 3-3 0-2 2-2-1-2-2-1-2 1 0 1-1 1-1 2-4-2-1 0-1-2 0-3-4-2-1-1-1-2 0-2-2-4 0-1-2-1-5 0-1 1 0 1-1 2-2 0-2-4-1 0-2-1-1-1-1-2 2-4-1-2 0-4-2-2-1 0-4-4 0-4-1-2 1-2-1-2-1 0-2 1-2 0-2-1-2 0-2-1-2 0-1-1-1 0-2-2 1-2 4-4-1-1-2 0-1-1 1 0 2-1 0-3-2 0-2-1-1-1-2-4-1-1 0-1-2-2 0-4-1-2 4-4 1-2 2 2 2 0 2-2 2-1 1-1 0-2-1-2 0-1-1-1 0-2-1-2 0-2 2-1 4 0 1-1-1-2-2-2-2 1-2-2 0-1-1-2-1-1-4 0-2 1 0 2-2 1-2-2-2-1 0 2-2 1-1 1 0 2 1 0 8 4 2-2-2-4 0-2 4 4-2 2 2 4 0 2 1 2 0 2-1 1-2 1 0 1-2 0-4-2-4 0 0 3-2 1-2 0-2-1-2 0-2-1-2 0-2 1-2 2-2-1-2 1-2-2-3 0 0 2 1 1 4 2 1 1-1 1-2-1-2 0-2 1-6-3-2 1-1 1 0 2 2 2-2 0-2-2-1 0-2-4 0-1 2 0 4-2 1 1 1 2 2-1 0-2-1-1 0-4-2-2-1-2 2-1 2 0 2-1-2-1-6 0-2-1-1-2-1-1 0-1-2-2-2 1-1-1 0-4-1-1 0-1-2-2-2 1-2 0-1-1-1-2 2-2 0-2-1-2 1-1 2 0 1-1 0-2 1-1 2-1 2-2 1-2 1-1 2 0 1 1-2 2-1 2 2 1 2 0 2-1 1-2-1-2-1 0-1-2 2-2 2 2 0 4 2 2 2 0 6-3 2 0 2 1 4 0 2-1 1 1 1 0 2 1 4 0 0 1-2 2-2 1 0 1-1 2 1 0 2-2 2 0 2 1 2 0 1-1 1-2 0-2 1 2 2 2 1 0 2 1 1 1 0 2-1 1-2 0-2-1 0-1-2-1-2 1-1 1 1 1 2 1 1 2-1 2 0 2 2 2 2-1 1-1 3-6 2 0 2 1 0-1 1-2-1-1 0-3 3 0 1 1 6 0 2-1-2-2 0-3 2-1 4 2 2 0 2-2 2 1 1 1 1 0 4-2 1-2-1-2 0-2-2-2 1-2 0-2 1-1 2-1 1-2 0-2 2-2 0-2-1-1 0-1-1-2zM288 48l0 3 1-1zM287 56l1 2 0-3zM171 62l0 4 1 1 1-1 1-2-1-2-1-1zM174 74l0 2 1-2zM164 80l-1 2 2 0zM82 84l0 2 2 2 1-2-1-1zM324 90l-2 4 2 1 2-1 0-2-1-2zM364 92l2 1 0 1 2 2 4 2 0-2 1-2-1 0-2-2zM376 92l-1 2 1 2 2 0 1 2 1 0 2 1 2-1 0-2-4-2 0-1-1-1zM331 96l0 2 1 2 2-1 1-1-1-2-2-1zM126 104l0 1-1 1 0 2 1 1 2 0 3-3 0-2-1 0-2-1zM133 104l0 2 3 3 2-1 0-2-2-2 0-1-2 0zM110 112l2 1 1-1zM141 128l3 0-2-1zM214 220l1 2 5 5 2 0 0-5-4-2-1 0-1-1zM221 230l-1 0-2 1-1 1-1 0-1 2 0 2 1 2 2 0 2-1 2 1 2 0 2-4-2-4-1 0-1-1zM227 240l0 2 1 0 1-2-1-1zM222 242l-1 2 2 2 1 2 1 0 1-2-1-2 0-2-1 0-2-1zM232 249l1 1 1 0 2-2-2-1-2 0zM187 252l2 2 2 0 0-2-1-1-2 1zM208 254l2 2 2-2-1-2-1-1-2 0zM216 252l2 2 3 0-3-3zM204 256l0 3 1-1zM203 276l1 1 1-1-1-1zM235 282l1 2 1-2-1-1zM228 284l-1 2 1 0zM311 392l1 1 2 0 0-1-2-1zM314 398l-1 2 0 2 1 1 1-1 1 0 2-1 3-3-1-1-2-1-2 1-2 0zM357 412l-2 4 1 1 2-1 1-2-1-2zM277 426l1 2 2-2 2-1 4 4 2-1-1-2-1-1-4-2-2 0zM294 428l1 0-1-2zM302 428l2 2 2 0 0-2-2-2zM311 428l0 2 1 1 0-1 1-2-1-1zM241 432l1 1 1-1-1-1zM252 436l-1 2 0 2 1 0 1-2zM239 438l0 2 1 1 2 0 1-1-1-2-2-1zM384 46l2 0 0 1zM42 49l1 1-1 2 1 2 0 2-2 2-3 0 0-2 1-2 1-1 2-1zM338 55l1 1 0 2-1 1-1-1 0-2zM126 59l1 1 1 2-3 0 0-2zM49 62l1 2 0 2 2 1 3 3-1 1-2 1-2-1-1-1 1-2 0-2-4 0-1-2 1-2zM74 69l4 2 0 1 1 2-1 1-2 0-1-1 0-2-1-2zM328 70l4-2 1 2 0 2-1 1-2 1 0 1-3-3zM353 70l-1 2-1-2zM46 72l1 0 1 1 0 1-4 2zM58 72l2-1 3 3-2 2-3 0-2-2 1-2zM136 74l2 1 1 1-2 0-1-1zM64 86l2 1 0 1 1 2-2 2-3 0-1-2 1-2zM54 86l2 2 1 0 1 2-2 2-2 1-2-1-1 0-1-2 0-2zM35 100l0 2-1 1 0-4zM78 99l2 0 1 1 0 2-1 2 0 1 0-1-2-2zM409 116l2 2-1 1-3-3zM416 116l1 2-1 1-2-1 0-1 1-1zM114 117l2 0 1 1 1 0 2 4-2 1-2 0-2-2-2-1 1-2zM98 123l2 0 1 1 1 2-1 2-1 1-1-1-2-4zM124 123l4 0 2 1 0 4-2 2 1 2 2 2-1 2-4-2-2-2 1-2 0-2-2-4zM76 125l2 0 0 3-1 2 0 2-1 1-2-1-1-2 0-2zM90 125l2-1 1 2 0 2-1 1-2 0-1-1 0-2zM458 125l0 4-1-1 0-2zM82 131l2 0 2 1-2 1-2 0zM94 136l0 1-1-1zM104 136l2-1 2 1-1 2-2 0-1-1zM116 140l2-1 2 1 1 0 1 1 4 0 2 1 2-2 2-1 2 1 0 2-2 1-2 0-2-1-1 2-1 1-2-1-2-2-2 1-2 0-1-1zM100 143l2 2 0 3-1 0-1 1-2 1-2-2 0-2 2-1zM138 144l1 0-1 1zM92 145l2 1 1 0-1 0-2 2-2 0 1-2zM82 150l2-1 2 0 1 1 0 2 1 2 2 2 0 2-2 2-2-1-2 1-1 0 1 1 2 1 2 0 2 1 2 2 2 0 2-2 1 1-2 4 2 4 2 2 0 2 1 1 2 1 2-2 2-1 2 0 2 1 2-1 2-2 2 0 2 1 1-2 0-2 1 0 2 1 2 0 2 2 6 3-2 1-2 0-4 4-2 1-2 0-2-1-4 0-1 1 1 0 2 4 0 6 4 2 1 2-1 1 0 1-1 2-1 1-2 1-1 2-1 1 0 2 2 0 2-1 1 0 1-1 2-1 2 0 2 2 0 2-2 2 2 1 2 2 4 0 1 1-1 2 0 2-1 2 1 2 2 2 1 2-3 0-4-2-2 0-4 2-2 0-2-2 0-4-2 0 0-2-2-1-2 0 0 1-2 2-1 0-1 1-4-2-4 0-2 2-2 0-1-1 1-2-1-2 1-2 4-2 3 0 1-2-2-2-2-1-2 1-2 2-2-2-1 0 1-2-1-2-4-4 0-2-1-1-2-1-2 1-4 0 0-3 2-1 4 0 1-1 1 0 1-2 1-1 2-1 0-2-1-2-1-1-2 0-2 1-2-1-1-1 2-4-1-1 0-1-2-2-1 0-1-2 2-1 2 1 2 0 1 2 2 2 1 2 2 1 2-1 1-2 0-2-1-2-2-2-3 0-1-1 0-1-2-4-1 0-1-1-2 1-4 0-2 2 0 2-2 1-2-1 2-4 2-1 1-1 2-4 3-3 2-1 0-2zM103 182l-2 2 0 4-2 2 1 1 2 0 1-1 0-2 3-3 4 0 0-2-1-1-1 0-2-1-2 1zM107 192l0 2 1 1 2 0 1-1 1-2-2-1-2 0zM97 198l1 1 2 0 0-1-2-2zM117 214l0 2-1 2 2 2 1-2 0-4-1-1zM125 218l0 2 2 0 1-2-2-1zM130 151l2 0 2 1 2 0 2 2-1 2 0 2-1 1-2 0-3-3-1-2 0-1-1-1zM100 156l2-2 2 1 6 0 1 1-1 2 0 1-1 1-1 2 0 2-2 4-2 0-2-1-1-1-1-2-1 0 0-2 1-1zM124 156l0 2-1-2zM116 161l2 0 1 1-1 1-2 1-1-2zM128 162l2 2-1 2-1 1-1-1 0-2zM130 190l2 2 0 2-2 2-1 2-1 1-2-2 0-2 1-1 1-2zM84 201l2 0 1 1 0 2-1 1-2-2zM114 224l4 2 0 2-1 2-1 1-6 0-4-2 0-2 2-2 4 0zM138 224l2-2 2 1 1 1 0 2-1 2-2 2-2-2 0-1-1-1 0-2zM174 236l2 2 1 2 2 2 0 2 1 2 0 2-2 2-4 2-2 2-6 0-1-2 3-3 2 0 2-2 0-3 1-2 0-4zM162 240l2 0 0 1zM154 253l1 1 1 0 2 2-2 2-2 1-1-1 0-4zM348 260l2 2-2 1-1-1zM188 272l1 2 0 2-1 1-2 0-1-1 2-2zM349 274l-1 1-1-1zM256 277l1 1-1 2 2 4-2 1-2-1 2-4zM248 291l1 1-1 2-1-2zM302 318l2 1 1 1-1 1-2 0zM294 319l1 1-1 1-1-1zM296 336l2 0 2 2 0 1 2 1-2 1-1 1 0 4-1 1-1-1 0-4-2-2 0-2zM180 364l2 1 1 1 0 2-2 2 0 2 2 4-4 4 1 1 2 1 2-2 2 1 1 1 1 2 0 3-2 1-1 2 0 4-1 1 0 1-1 2-2 2 2 4 0 6 1 2-2 1-1-1-1-2-2 1 0 1-4 2-1 2-1 1-2 0-2 1 4 2 2 2 0 2 1 2 1 1 2 0 2 1-2 2-1 2 0 2-1 2-8 0-1-2 2-2-1-2-2 0-2 2 1 2-1 0-2 1 0-1-1-2-1 0-2-1-2 0-3 3-1 2 4 2 6 0 4 2 1 0 1 1 4 0 2 1 1 2-1 1-2 1-2-1-2 0-2 1 2 4-94 0-2-1-2-2-4 0-2 1-2 2-3 0 1-1 2-1-1-2 0-4 3 0 2-2 0-4-2-1-2 0 0 1-2 1-2 0-2 2 0-5 2-2 1-2 0-2 1-1 4 0 5-5 1-2 0-2 2-2 2 1 2 0 0-1 1-2-1-1 0-2 2 1 2 2 3 0 1-1 1 1 0 2 1 2 0 2 4 2 2-2 4 0 2-1 1 1 1 0 2 1 2 0 0 1 2 4 2 2 1 0 1 1 2 0 2-1 1-2 0-4-1 0-2-1-1-1-1 0-4-2 0-1-1-1-1-2 0-1 1-1-1-2-2-1-4 0 0 1-1 2-1 1-2 1-2-1-1-1-1-2-2 0-2 1-1-1 0-2 2-4 5 0-2 0-2 2 1 2 1 1 0-1 2-1 2 0 2-1 1-2 3-3 2 0 8 4 1 1 1 2 0 4 1 2 1 1 2 0 2-2 2 0 2 1 2 0 2 4 2-1 0-1 1-2 1 0 2-1 2 1 2 2 0 1 4 0 2-1 2-2-2-1-2 2-2-2-2-1-2-2 0-1-2-1-2-2-2 0 2 0 2-2 0-1 0 1 1 2 1 1 4 0 0 1 4 2 2 0 0 3 2-2 0-2-2-2 0-2 1-1-1-1 0-1-1-2-2-2 0-2 1-1 0-1 1-2-1-2 2-2 4 2 1 2 0 2-4 4 1 2 2-1 2 0 1 1-1 2-1 0-2 2 1 2-1 2 1 1 1-1 1-2 7 0 0-4-1-2-1 0-1-1 0-2 2-2 2 1 4 0 0-2-1-2 0-2-1-2 1-2 0-2-2-2 0-4 2-2 1-2 0-2 4 4 2-1 6-6 2-1 2 0zM169 392l1 1 1-1-1-1zM172 396l2 1 0 1 1 2 1 1 1-1 0-2-1-2 0-1-2 0-2-2zM165 406l1 0 0-1zM150 410l2 0 0-1zM163 420l1 1 2 0 0-2-2 0zM123 422l1 1 2 1 2 0 0-2-2-2-2 1zM153 424l1 1 2 0 1-1-1-1-2 0zM147 426l1 1 2-1 0-1-2 0zM170 426l0 3 2 0 1-1 0-2-1-1zM83 428l0 2 1 1 2 0 2-1-4-4zM100 428l0 2-2 1-1 1 0 2 1 1 0 1 2 2 2 1 2-1 1 0 1-1 1 1 2 0 0-2-1-1-2-1-2 1-2-1-1-2 1-1 2 0 1-1-1-1 0-1-2-1zM117 428l1 2 1 0 1-1 0-1zM150 440l-1 2 1 1 2 1 1-2-1-1zM154 444l2 1 0 1 1 2 1 1 2 1 2-1 0-1 1-2 0-2-1-1-4 0-2 1zM308 373l1 1-2 0zM154 380l3 0-1 1zM304 382l1 2 0 4-1 2-2 2-2 0-2-2-1 0 1-1 0-1 2-2 2-4zM197 396l0 4 1 1 0 3-2 0-1-2-3-3 0-2 1-1zM110 398l2 2 0 3-2 0-1-1 0-2zM298 398l0 2-1-2zM278 402l3 0-2 4 2 4-1 1-2 1-2 0-2-1-1-1 0-2 1 0 2-2 0-1 1-1zM292 403l2 0 0 3-2 1 0-1-1-2zM192 406l2-1 1 1-1 2 0 1-2 1-2-1-2 0 0-1 2 0zM118 407l1 1-1 1-1-1zM36 424l1 2 0 2-1 0-2 1 0-5zM228 422l2 2 1 0 0 2 1 2-2 2-2-1-1-1-1-2zM182 436l1 2-1 2-1-2 0-2zM346 435l1 1 0 2-1 2-2 1-1-1 0-2 1-2zM40 437l4 2 2 0 1 1 0 2-1 2 4 2 2 2 0 2-2-1-2 1-4-2 0-2 1-2-1 0-2-2 0-2-2-2zM326 438l2 1 2 0 2 1 0 3-6 0-2 1-2-1-1-1 0-2 1-1 2-1zM314 442l2 1 2 2 2 1-1 2-1 0-1 2-6 0 1 0 1-2 0-2-1-1-2 0-1-1 1 0 2-1 1-1zM334 444l2 2-2 1-1-1zM178 447l2 0 2 1 1 2-8 0zM36 449l1 1-2 0z" fill="#F8DA55" fill-rule="evenodd"/>
<path d="M180 46l0 2-2 2-2-1-1-1-1-2zM196 46l83 0-1 2 2 4-1 2 1 1 0 1 1 2-1 2 2 1 2-1 4 2 1 0 0 2-1 0-4 2-2-1-2 2 0 1 2 1 0 1 1 2-2 2 0 2 1 2 4 2 2-1 2 0 1 1 0 2 1 2 2 2 0 1 2 2 2-1 2-2 2 0 2 2 3 0 3 3 0 1 2 2 4 2 5 10 1 1 2 0 2-1 2 1 2 2 2 0 2-1 0-2 2 0 1 2 0 2 3 3 6-3 11 0 1-1 2-1 2 0 2 1 0 1 2 2 6 3 2 0 2 1 2 0 2 2 2 1 2-1 2 0 2 1 1 1 0 2 1 1 6 3 2-2 2-1 2 1 1 0-1 1 0 2 2-1 2 0 1 2 3 3 6 3 2 2 1 2-1 2-2 0-1 2 1 2 2 2 0 2 1 2 1 1 4 0 1 1 0 2 1 0 2 1 1 1 0 4 1 1 2-1 1 0 1-2 2 2 2 1 2-2 2 0 2 1 1 0-1 0-1 2 1 1 4 0 2 2 2 0 2-2 2-1 2 0 0 288-81 0-1-2 0-2-1-2 1-2-1-2-1 0-4-2-2 0-4-4 0-2 1-2-2-2-1-2 0-2 4-8-1-2 0-4-1-2-1 0 0-2-1-1-2-1-4 0 0-2 2-1 1-1 1-2-1-2 1-2 0-3 1-1 0-2-1 0-2 1-2 0-4 2-2 0-2-1 0-2 1-2 1-1 0-1 1-2 0-2-1-2-1 0 0 2-1 1 0 1-2 2-6 0-2-1-2 0-2 1-2-1-1-1-2-4-3 0-2 1-1-1 1-2 0-3-3-3-1-2-2-1-2 0 0-3 2 0 2-1 0-1 1-2-1-2-4-2-1-2 1-2 0-4-2-4-2-2 0-3 2-1 0-16-1-2 0-12 2-2 0-4-1-2 0-2 1-2 1-1 2 0 2-1-1-2-1-1 0-3 4 0 2-1 4 0 4-2 1 1 1 0 4 4 2 1 1-1 1-2 2-1 1 1 1 0 2 2 1 2 3 3 2 0 2 2 2-1-2-2-2-1-1-1-1-2 0-4 2-1 2 0 1 1 0 2 1 2 0 1 2 1 1-2 1-1 2-1 1 0 1-1 2 0 2-1 1 2 1 0 2 1 1-1 0-2-1 0-2-1-1-1-3-6 0-2-1-2 1-2-1-2-1-1-2-1 0-2-4-4 0-2 1-2-1-2-8 0-2-2-6 0-2-1-20 0-2-2 0-1-2-2-2 1-2 2-2 1-2 0-2-2-2-1-2 0-1 1-1 2-2 2-1 0-2-2 0-2-1-1 0-1-2-1-2 0-2-1-2-2-2-1-1 1 0 2-1 0-2 1-1 1-1 2 2 1 4 0 2-1-1-2 1-1 1 1-1 2 1 2 1 1 0 2-8 0-2-1 0-4-4-2-2-4-2 1-1 1-1 2 1 2 1 1 0 2-2 0-1-1 0-2-1-2 0-5 0 1-5 0-1-2-2-2-1-2 0-2-2-4 0-2-1-2-2-1-2 0-1-1-1-2-2-1-2 0-1 1-2 0-1-1 0-3 2-1 2 2 3-3-5-5-2-1-2 0-2-1-4 2-2 0-2-1-1-2 0-4-2-2-1-2 1-2 1-1 2 0 0-2-2 0-2 1 0 1-1 1-1 0-1 2-1 1-2-1-2-2-2-4-6 0-1-2-3-3-1 1 0 2-1 2-3 0-1-2-2-1-1-1-3-6 0-1-2-2-2-1-2 1-2 2-2-2 0-3 1-2-1-1-4-2-2-2-2 1 2 2 0 2-3 0-2-2 0-6-1-1-2-1-1-2-1-1-2-1-4 0 0-7 1-1 0-2-1-2 2-2-2-4 2-2 0-2-2-1-2 1-1 0 0 2-1 0-2-2-2-1 0-1-4-4 0-2 2-1 2 1 1 0 1 1 2-1 2 2 2 1 2 0 1-1 0-6-2-2-1-2-1 0-1-1-1 1-1 2 0 6-2-1 0-1-1-2 0-2 1-2 0-4 2-2 2-1 2-2 2-1 0-2-2-2 0-1-1-1 1-1 2 0 2-2 2-1-2-2-4 0-1-2 2-4 2-2 0-8 2 0-1 2 1 2 2 2 1 2 0 3 2 0 1-1 0-2 1-2 0-2-1-2 3-3 2-1 2-2 1 0 1-1 2 0 1-1 3-6-2-2 0-2 2 0 1-2 3-3 2 0 2 1 1-2 0-2-1-1-2 0-2-1-2 2-2 0-2-2 2-2 0-2 3-6 4-4zM197 48l1 0 0-1zM189 90l0 2 1 0 1-2-1-1zM183 94l0 2 1 1 1-1 0-2-1-2zM194 123l3 3 1 2 2 1 2-1 0-1-2-2-2-1-1-2-1-1-2-1zM167 126l5 5 2-1-4-4-2-1zM393 132l1 1 2-1-2-2zM405 136l1 1 2 0 2-1-2-1-2 0zM220 166l1 2 1 1 0 1 2 4 2 0 2-2 0-4-4-2-1 0-1-1-2 0zM218 196l0 2 2 1 2 0 2-1 1 0-1 0-1-2-1-1-2 0zM264 239l1-1-1-1zM383 308l1 1 0-1zM373 406l2 4 1 1 1-1 0-2-1-2-2-1zM372 422l1 2 1 1 1-1 0-2-1-2zM184 51l0 1-1 0zM184 70l2 2 0 2-2 1-2-1zM98 78l2-1 1 1-3 3-2-1 1-2zM176 79l2 0 1 1-1 1-2 0-1-1zM154 87l1 1-1 2-1-2zM116 92l0 3-1-1zM366 102l2 0-2 1zM440 156l0 1-1-1zM250 239l4 0 2 1 1 0-1 1-2 1-2 2-2-1-1-1 0-2zM242 243l1 1 1 2 0 1-2-1-1-2zM260 247l1 1-1 2-2 2-2 1-1-1 1-2 2-1zM276 261l2 1 1 2-1 1-3-3zM196 265l1 1-1 1-1-1zM230 267l2 1 1 0-1 1-2 0zM236 269l2 0 0 3 2 4-2 1-2-1-2 0-2-1 0-1 2-2 0-2zM216 272l4 2 2 0 2 2-2 2-2 1-2-2-2-1-1-2zM326 386l2 0 1 2-1 1-2 0-1-1zM308 418l2-1 0 1zM146 430l2 2-2 2-2-2zM280 435l2-1 2 2-1 2-1 1-2-1zM368 447l1 1 1 2-4 0 2-2zM134 448l2 0 2 2-5 0z" fill="#E3F056" fill-rule="evenodd"/>
<path d="M266 46l0 4-1 2 1 2-1 2 0 2 1 2 2 2 0 2 1 2 0 2 3 0 2 4 0 1 2 2 2 1 0 8 4 0 2 1 0 1 1 2 0 2 1 2 0 2 1 2 1 1 2-1 2 0 1 2 1 1 2-1 2 1 2 2 2 1 6 0 2 1 3 3 1 2 0 2 2 1 2 0 2 1 2 0 4 2 4-2 4 0 2 2 2 1 2 2 2 0 2-1 1 0 1-1 4 0 1 1 0 2 1 1 2 1 2-2 2 0 2 1 2 0 4 2 4 0 1 1 0 2 1 1 2 0 1 1 3 0 2 1 0 1 1 2 1 1 2 1 1 2 2 2 1 0 2 1 1 1 1 2 3 0 0-2 1-2 2-1 2 1 0 3-2 2 0 2 1 1 0 2 1 1 4 2 4 0 2 1 0 1 2 1 2-1 1 1-1 2-2 0-1 2 1 1 2 1 2 0 2 2 0 2 1 2 4 4 2 0 2-2 1-2 1 2 1 1 2 1 1 0 1 2-8 4 2 1 4 0 1 1 1 0 2 2 2 1 2-1 2-2 2 2 3 0 1-1 0 1 4 4 2-1 2 1 2 2 0 266-60 0-2-2-2-1-2 0 0-1-2-1-1-1-1 0-1-2 0-2 1 0 4-2 0 2 2 2 2 1 2 0 0-1 1-2-1-1-2-1-4 0-1-2-1-1 0-3 1-2 1-1 0-2-2 0-2-1 2-4 6 0 0-2-2-2 0-2-1-2-1-1-4 0-2-1-3 0-1-2 3-6-3-3-2 0-2 1-2-1-4-4 0-3 2-2 0-2-2-2-2-1-2 0-2-2-2-1-1-2 0-2-2-2 1-1 0-1 1-2-1 0-2-1-4 0-2-2-2-1-1 0-1-1-4 0-4-2 0 1-4 2-2-2-2 0-1-2 0-2-4-4-1-2-1 0-2-2-1 0-1-2-1-1 0-3-3-6 0-4 1-2 2-1 0-1 1-2-1-2 0-4-4-4 0-2 2-2 1-2-1-2 3-6-1-2 1-2 0-4 1-2 0-1 1-1 0-2 1-1 2 0 2 1 4-2 0-1 2 0 4 2 4 0 3 3 1 2 4 0 2 1 2 2 0 2-2 1-2 4 4 4 1 2 0 2 1 2 2-2 2 2 1 2-3 6 0 1 2 2 0 1 1 2 0 2 1 1 1-1 1 0 2-1 2 1 5 0 1 1 8 0 6-3 1 2-1 2 0 2-1 2 0 4 2 2 0 2 1 2 0 1 1 1-1 2 1 2 1 1 2-1 0-2-2-2 0-2 1-2 3 0 1 2 0 2 1 1 4-2 2 1 2-2 4 0 2 2 3 0 1 1 2 1 4-2 2 0 1 2 0 2-1 1 0 1 10 0 1-2-1-1-6-3-2-2-1-2 1-2 2 0 2 2 2 1 1 1 1 0 4-2 0-1 1-1 0-8-1-1-2 0-1-1 1-2-1-2 0-2 1-2 0-1 1-1-1-1-2 0-1 1-1 2-4 0-2-2 0-2 1-2 2-2-2-4-1-1-2 1-1 0-2 2 0 2-1 2 0 1-4 0 0-1-1-2 0-2-1-1 0 1-2 1-1 1-1 0-2 2-2 4-2 2-2-1-2 1-2 2-2-1-2 1 2 1 2-1 2 4-2 0-2 1-1 1-2 0-1-2 0-2 1-2-1 0-2-1 0-1-2-4-3 0-1 1-6 3-1-2 1 0 2-4 0-1 2-2 2-1 2 1 6 0 2 2 0-1 1-2 0-2-1-1-2-1 0-1-1-1 1-2 2-2 2 2 4 0 2-2 0-2-4-2-2 0 0-1-1-1-1-2-2 0-8-4-2 0-4 2-1-2 1-2 2-1 1-1-1-2-1 0-1-1 0-4 1-1-4-8-3-3-2-1-1 0 0-2 1 0 4-8-2 0-4-2-2-2-1-2 0-2-1-1-2-1 0-1-1-1-5 0-2 1-2 0-1-1-1 0-2-1-4 0-1-1-1-2-2 0-2 1-4 0-2-1-2 1-2 0-2-2-4-2-4 0-1-1-3 0-2-1-2 0-2-1-2 1-2 0-2-2-2-1 0-1-2-1-2 0-2-1-2 0-8-4-2 0-2-1-1 0-3-3-6-3 2-2 4 0 2 1 2 0 1-1 0-2-3-3-2 0-2 1-2 2-2 0-4-4-2 0-1-2-2-2 3-3 2-1 0-3-2-1-2 0-2-1-2 1-1 2-1 1-2 1-2 0-2-1-2-2 0-1-1-2 1-2 0-2-1-2-1-1-2 0-1 1-3 0 1-2 4-4 0-2-1-1 0-1-1-2-1-1-2-1-2 0-2-2 0-4 2-2 2-1 1-1 1-2-1-2-1 0-2-1-1-1 0-2-2-2-1-2 0-2-2-1-2 2-4 0-2-1-1 0-1-1-2 0 0-1-1-2 1-1 2 2 2 0 2-2 4 2 2-2 2 0 1-1-1-1-4 0-1-1-2 0-1 1-1-1-1 0-2-2 0-6 2-1 2 0 1-1 0-2-1 0-2-1-2 0-2 1-2-1-3-3-1 0-2-2 0-2-1-2-1 0-2-2-1-2 1-2 2-1 6 6 2 0 0-1 1-2-1-1-2 0-1-1 0-2 1-2 2-2 3 0 0-2-1-2 1-2 0-2-1-2-2-2-2-4-1 2-1 1 0 3 2 2 0 1 2 1 1 0-1 2-2 1-2 0-2 2-3-3-1-2 0-2 2-2 0-2-2-4-3 0-1 1-2 0-1-1 0-8-1-1-2 0-2-1 2-4 2 1 5-5-2-2-1-2 0-2 2-4-1-2-5 0-1-2 1-1 2-1 0-6-1-2 1-2 0-1 4 0 1 1 1 2 0 1 1 1 1 0 4-2 1 0 0-2-3-3-2 0-5-5 0-4zM211 70l1 1 0-2zM207 94l1 1 2 1 2 0 0-2-2-2-2 1zM306 106l-1 2 2 2 1 2 2 0 2-2 0-2-1-2-1-1-2 0zM441 184l1 2 2 2 1 2 2 0 0-2-1-1-2-1 0-2-2-1zM451 194l1 0 0-1zM253 198l1 1 0-1zM272 202l-2 1-1 1 0 2 1 1 4 0 2-1 0-2-2-2zM406 283l0 2 2 0 0-4zM398 292l2 1 0-3zM408 296l-1 2 3 0-1-2zM402 324l0 1 2 2 0-2-1-1zM441 336l1 1 1-1zM447 336l0 2 1 2 2-1 1-1 0-2-1-1-2 0zM369 338l1 2 0-3zM409 360l0 2 1 1 2 1 1 2 1 0 2 1 2-1-1-2-1-1-2-1-2-2-2-1zM340 362l-1 2 1 0 2 1 2-2 0-1-2-1zM401 362l1 2 1-2-1-2zM397 428l0 2 1 1 2 0 1-1-1-2-2-1zM200 76l1 2-1 1-2-1zM208 107l1 1 1 2 0 2-4 2-2 2-1 0-1-2 2-1 1-1 2-4zM185 114l-1 1-1-1zM178 116l2-1 2 1zM178 134l2-1 2 0 1 1 0 2-1 1-4 0-1-1 0-2zM192 134l0 2-2 1-1-1 2-2zM196 142l2 0 2 2-1 2 0 2-1 1-6 3-1-2 1-2 2 1 1-1 0-4zM182 143l2 1-2 1-1-1zM216 144l2-1 1 1-1 2 0 1-1-1zM178 151l2 1-2 2-2 1 0-3zM190 155l4 0 0 3 2 1 3 3-1 1 0 1-2 2 0 3 1 1-1 2-2 1-2-2 0-3-1-2-2-2 1-2 2 0 0-2-1 0-1-1zM176 158l1 2-1 2-2-2zM422 159l2 0 1 1 0 2-1 1-3-3zM182 161l2 0 1 1 1 2-2 4-3 0-2-2 0-2 1-2zM216 171l2 1 1 0-1 2-2 2 0 1-1-1-1-2 0-2zM453 172l0 2-1 1-1-1 0-2zM200 172l2 4 0 2-2 2-1-2 0-4zM382 314l4 0 0 2-2 1-2 0-1-1zM374 328l2-1 2 1-2 1zM404 337l4 0 1 1-1 2-4 0-2-2zM380 420l4 0 2 2-2 2-2 0-2-1zM382 431l2 1-2 2-1-2zM380 435l1 1 0 2-1 1-1-1 0-2z" fill="#9FDB17" fill-rule="evenodd"/>
<path d="M241 46l1 1 2-1 8 0 0 2 4 2 1 2-1 1 0 1-1 2 0 2 1 1 0 1 2 2 1 2-1 2 0 2 2 2 2-2 1 2 0 2-2 4 1 2 0 1 2 1 2-2 0-2 2-1 2 2 0 2-1 1-1 2 1 2 4 4 1 2 2 2-1 2 0 2 1 2 2-1 2 0 1 1 0 2 1 1 2 1 2 2 0 1 2 2 2 1 1 2 0 2 1 1 0 1 2 2 2-1 2-2 2-1 2 0 2 1 1 1 1 0 2 1 2 0 2 1-1 2 0 2 1 0 2 1 0-1 2-2 1-2 5 0 2 1 0 1 1 2 1 1 8 0 1 1-1 2 2 2 3 0 1-1 4 0 1-1 1-2 0-2 1-2 1 0 2 2 2 4 0 1 2 1 2 0 2-1 6 0 2 1 1 2 2 2 1 2 4 2 1 2-1 2-2 2 2 2 2 1 2 0 2 1 0 2 2 2 2 1 1 1 1 0 4 2 2 0 0 2 0-2 2 0 0 2 4 4 2-2 2 0 2-1 2 1 2 2-4 4 0 4 4 2 1 2 0 2 1 2 2 2 1 0 0-2-1-2 2-1 2 0 1 1 0 2-2 2 1 1 0 1 2 1 1 1 1 2-2 2 4 4 2 1 2-2 2-1-2-1-1-1 1-2 2 1 1 1-1 2 2 2 4 2 2 0 2 2 1 0 0 2 3 3 6 3 2-1 2 0 2-1 4-4 0-2 0 126-1 0-1 2-3 0-1-2-2-1-2 1-2 0-2-4 0-1-1-1-1-2-2-2-1-2-2-2-1-2-2-2-1 0 0-2 1-2-1-2 0-2 1 0 2-1 1-1-2-2-1 0-2-1-1-1 2-4-3-6-2 0-2 1-1-1-1 0-2 1 0 1-2 0-2 1-4 0-2-2 0-2 2 0 2 2 4 0 1-1-1-2-2-2 0-1-2-1-2 1-6 0-2 1-2-1-2 0-2 1-2 0-2-1-6 3-2 0-1-2 1-1 4-2 1-1 1-2-4-4 0-2-1 2-1 1-2-1 1-2 0-2-1-2 0-2-4-2-4-8-1 0 1-1 0-1 2-2 1 0 1-1 6 0 3-3 0-2-1-2 0-2 2-2 0-2-1-2 2-2 0-6-6 0 0 2-1 1 0 1-2 2-3 0 0-2-1-2 0-1-1 1-1 0-2 1-2 0-4-2-2 0 0 1 2 2 2 4 1 0 0 2-1 1 0 1-1 2 1 2 2 2-3 6 1 2 0 1 1 1-1 0-2 1-3 3-5 0-2-1-2-2-2-1-2 1-2-1-2 1-2 0-1-1-1 0-2-2-2-1-1-1-1-2-2 0-2-1-1 1-1 0-2 1-2 0-2-1-2-4-2 0-1 2-1 1-2 0-1-1-1 0-1-2-4 0-3 3-3-3 1-2-2-2-1-2 0-4-3-3 0-1-1-2-1-1-2 0-2-2 0-1-2-2 0-1-2-1-2 2-2 1-2 0-2-1-2-2 0-2-2-2 0-2-2-4 2-4 1 0-3 0-2 2-2-1-1-1-2-4-1-1-2-1-2-2 0-1 0 1-4 2 0 1-1-1-1 0-2-1 0-1-1-2 1-1 2-1 0-2-2-1-2 0-2 1-2-2 0-8-4-4-1-2 0-2 1-2 2-1 3-3 0-2-2-2-1 0-2-2 0-2 1-2 0-2-1 0-2 2-4 0-2 1-1 1-1 0-2-2-1 0 1-1 2-1 0-4-1-2 0-4-1-1 0-2 1-1-1-2 0-2-2-1-1-1-1-2 4-4 0-2 6-6-2-2 0-4-2-2-2 2-1 2 1 1 0 2-2-1-1-2-3-3 0-2 2-1 0-1 1-1-3-3 0-1-2-4 0-3-2-1 0-2-1-2-2-2 0-6 2-4-1-1 0 1-2 1-2 0-1 1 2 2 0 2-1 1-2 0-1-1 0-2 1-2-1-2-1-1 0-3 1-2 4-4 0-6 2 0 1 1 2-1 2-2-1-2-1-1-4-2-3-3zM247 58l-1 2 0 1 2 0 2-1 0-2zM249 108l-1 2 2 2 2-1 1-1-3-3zM251 118l1 1 2-1 1 0-1-1-2 0zM244 120l-2 4 2 1 2 0 0 1 2 2 0 1 2 0 0-1 1-2 1-1 0-1 1-2-1-2-2-1-4 0zM260 120l0 2 2 2 2-2 0-2-2-2zM358 132l1 0-1-1zM247 134l0 2 4 4 1 0 1-2-2-4-1-1-2 0zM367 212l1 1 1-1zM312 215l1-1-1-1zM321 218l1 1 2-1 2 1 0-1zM367 226l3 0-2-1zM346 230l0 2 1 0 0-2zM392 254l-1 2 1 1zM440 276l0 2 2 0 2-2-2-2zM439 290l1 1 2-1zM439 296l0 2 1 0 2 1 1-1-1-2 0-1-2 0zM446 302l2 1 1-1-1-1zM220 87l2-1 1 2-1 1-2 1-1-2zM280 88l1 0 1 2-2 1-2 0-1-1 1-1zM295 106l-1 1-1-1zM385 232l-1 1-1-1zM384 266l2-2 0 2 1 2-1 1-2 0-1-1zM404 273l2-1 0 4-2 1-2 0 0-2zM424 279l1 1-1 2-1-2zM418 285l1 1 0 2-1 2-1-2 0-2zM426 284l2 2 0 2-2 1-1-1 0-2zM426 293l2 0 1 1-4 4 0 2 1 1 2 1-1 2-1 1-2-2-2-1-1-2 1-2 2-1 1-1 0-2zM334 298l2-1 2 1 2 0 2 1 1 1 0 4 1 2 4 2 0 2-1 2 0 2 1 2 0 1-3 3 0 2 2 2-1 2-2 2 2 2 0 1 2 1 1 2 1 1 2 0 1 1 1 2-1 2 0 4-1 2 1 2 0 2-1 1-2 1-2 0-2-1-1 1 0 2-1 1-2 0-4-2-2 0-3-3 1-1 2 0 4-4 2-1 1 0-1 0-2-2 0-1-1-1 0-2-1-1 0 1-2 4 1 2-1 1-2 0-2 1-2-1-1-1 0-2-1-2 0-4 1-2 0-2-1-1 0-4 1-1-1-2 0-2-4-8 2-4-1-2 1-2 0-2 1-2 2-2 3 0zM426 308l2 2 0 3-2 1-1-2 0-2zM440 314l2 4-2 1-2 0-2-1 0-1-1-1 2-2zM444 320l2 0 2 2-2 2-2-1-1-1zM454 326l-2 2-3 0 0-2zM458 331l0 6-2-1 0-2 1-2zM454 347l4 0 0 103-33 0-1-2 0-1-1-1 1-1 0-1 2-1 2 0 1-1-1-2-2-1-2 0-2 1-2 2 0 1-2 0 0 1 2 2 0 4-8 0-2-1-2-2-4 0-1-1 0-2 1-1 2 0 2 2 2 0 1-1 1 0 1-2 0-6-1-2 0-2-1-2-1-1-2-1-1 0 0-2 1-1 2-1 3 0 1-1 0-4-1-1 1-1 2 0 1-1 1-2-4-4 2-1 1-1 1-2 0 2 2 2 0 1 1 1 0 2 1 2 2-4 0-5-2-1-6 0-2-1-3-3-1-2-2-1-2 0-1 1 0 2 1 0 2 2 1 2-1 1-2 1-2 2-1-2-2-2 1-2 2-2-2-2-4 0-2-2 0-1-2 0-1 1-1 0-2 1-1-1 1-1 0-3-2-2-2 1-2 2-1-1 0-2 1-1 2-1 0-2-2-1-2 1-2 0-4-2-1 0 1-1 2-1 2 0 2-4-2-2-1 0-1-1-2-1 1-2-1-2-2-1-1-1-1-2-2-1-3-3 0-2 1-1 2-1 2 2 0 1 2 2 2 0 1-1 1-2 1 2 1 1 0 1 2 1 2 0 1-1 0-2 1-2 2 0 0 2 1 2 0 2-1 1-2-1-2 1-2 0-1 1 0 2 1 1 4 0 2 2 2 0 2-1 2 0 2 1 2-1 0-1 2-1 1 2 1 1 2-2 0-2-1-1 0-2 3 0 2 2 4 2 0 2 2-1 1-1 6 0 1 1 2 0 2 1 1-2 1-1 4-2 1-1 0-2 5 0 2-2 0-1 2-2 2-1 0-2-1-2 1-1 2 1 4 0 2-2 0-4 1-2zM424 376l1 2 1 1 0-5zM436 376l0 1 1-1zM406 382l1-2-1-1zM404 392l-2 1-2 0-2 1 1 2 1 1 6 0 0-3zM360 349l2 0 2 1 2-2 2 1 0 1 4 2 0 2-1 2-1 1-2-1-2 1-2 2-2-2 0-1-4-4 1-2zM442 353l1 1-1 1zM358 359l2 1 1 0 2 2-1 2-2 1-1-1-2-4zM404 410l1 2-1 1-1-1zM406 440l1 0-1 1z" fill="#31BF00" fill-rule="evenodd"/>
<path d="M246 51l1 1 0 2-1 1-1-1-1-2zM252 77l0 2-1-1zM230 81l2 1 0 1-2 0zM256 85l2 0 2 1 0 2-2 1-2 0-1-1 0-2zM278 112l2 1 6 0 1 1-1 1-2 0-2 1-3 0-2-2zM286 121l2 0 1 1 0 2-1 1-2 1-2-2 0-2zM298 122l2 0 2 2 1 0 1 1 2 0 2-1 2 0 2 2 0 4-4 2 1 2 2 0 2-2 1-2 6 0 2-2-3-6 1-1 2 0 0 1 1 2 0 2 2 2 1 0 2 2 4 2 1 2 0 2 1 2 2-2 2-1 1-1 1-2 0-2 4-2 1 0 1 2 0 2 2 2 0 1 1 1 1 2 4 0 2 1 2 0 2 1 4 4 0 2-1 2 1 2 2 1 0-1 2-2 3 0 2 2-1 2-2 1-1 1-3 6 2 2 1 0 0 2 2 4 0 2 1 2 0 2 4 0 2 1 2-1 1-2 0-2-1-2 2-4 0-1 2 2 0 1 1 2 0 2 1 2-2 2 0 2-1 2-1 1 0 3-1 2 0 2 1 1 2 1-2 1 0 1-1 2 1 1 2 0 0-5 1-2 0-2 1-2 0-1 4-2 5-5 1-2 2-1 1 1 1 2-4 8-2 1-2 0-2 1-1 2 1 0 2 1 2 0 3 3 0 2-1 1-2 1 0 1 1 1 0 2-2 0-1-1-2 1-1 2-1 1-2 0-2-1-2 0-1 2 0 2 1 1 2 0 1 1-1 0-4 4-2-1-2-2-2-1-1-2 0-2-1-2 0-1-2 0-2 1 0 2 1 2 2 2-1 1-2 1-4 0-2-1-1-1 0-2 2-2 1-2 0-2-2-1-4 2-2 0-2 1-2 0-2 2 0 2 1 2-1 2 0 1-2-2 0-1-2-2-1-2 0-2-1 0-2-1-2 0-2 1 1 2 0 2-1 0-4 2-3 6-1 1-2-1-1-2 0-2 2-2-1-2 0-1-2-2-2-1 0-2 0 2-2 1-2 0-2-2-2-1-2 0-2-2 0-4-6 0-2-1-4 0-2 1-1 0 0 2-1 1-2-1-1 0 1-2-2-1-3-3 1 0 1-2 1-1 2-1 1 0 1-2-1-2-1 0-2-2-2-1-4 0-8 4-2 0-2 1-1 0-1 1 0-1-2-2-2-1-2 0-1-1 0-2 1-1 2 1 2 2 2-1 2-2 2 1 2 0 1-2 0-2-1 0-2-2-1 0 1 0 0-2 2-2-1-2-1-1-2 1 0 4 1 0-1 1 0 1-2 2-5 0-1-1-2-1-2-2 0-2 1-2 0-2-1 0-4-2-1-2 1-2 0-2-2-4 2-2 1-2 0-2 1-2-2-4-2-1 0-2 1-1 4 0-1 2 2 1 0 1 4 2 1 0 1 1 2 1 1 0 1 1 4 2 1-1-1-2-1 0 1-2 2-2 1 0 1-1 1 1 1 2 2 0 2-1 2 1 1 2-2 2 0 2 1 2 0 1 2 1 2-4 1 0 1 2 2-1 2 1 1 0 1 2-1 2 0 2 1 2 0 1 2 0 1-1 0-2-2-2-1-2 2-1 1-1 0-2-1-2-2-1-2 1-2-1 0-3 2-2 1-2 1-1 2 0 2-1 0-2-2-1-1-1-1 0-4-2-1-2 0-2 1-1zM320 136l1 0-1-2zM261 142l0 4 1 0 2 1 2-1 2 0 0-2-2 1 0-1-2-2zM283 152l0 2 1 1 2-1 1 0-1-1-2-1zM317 154l1 1 1-1-1-1zM322 158l0 2-1 2 0 4 3 3 0-1 1-2 0-4 2-2 0-2-1-1-2 0zM332 164l1 2 1 0 2-1 1-1-1 0-2-2zM359 164l0 2 3 0 0-2-2-1zM300 176l-2 1 0 2 2 1 2-2zM339 182l1 1 2-1-2-1zM320 194l2 1 2-1-2-1zM334 195l2 1 1-2-1-2-2 1zM278 123l0 1 2 4 2-1 1 1-1 2-2-2-2 0-1-2 0-2zM268 127l2 0 0 1-2 1-1-1zM254 149l1 1-2 0zM378 154l2-2 2 0 1 2-1 0-2 2-2 0-2 1-1 1-1 0 0-2zM374 162l2 1 1 1-1 2-2-1-1-1zM409 184l-1 2-2 1-1-1 0-2zM284 185l2 1-2 1-1-1zM288 189l1 1-1 1zM404 191l2 2 2 0 2 1 2 0 2-2 1 2-1 1 0 1 4 2 2-2 2 0 2 1 2 2 2 1 5 0 0 2-1 1-2 1 2 2 3 0 1-1 1 1 1 0 1 2 1 1 2 0 2 1 2 4 0 1 2 0 2-1 2 0 4-2 0-2 1-2 1 0 0 54-1 0-1 1-2 1-2 2 1 2 1 1 2 1 1-2 1-1 0 5-2-2-2 2 0 1-2 1-2-2-1 0 0-6-1-1-4 0-2 2-1-1-3 0-2 1-4-4-1 1-1 0-2 2 0 1-2 0 0-1-1-2 1-2-1-2-1-1-2-1 2-4-1-2-1-1-2-1-2 2-1 2-2 2-1 0-2 1-1-1-1-2 1-2 0-2-1-2-2-1-2-2-2 1-2 2 0 1-2 0-2-1 0-2 2-1 1-1 1-2 4-4 0-1-2 0-2-2-4 0 0-1-1-2 1-2 2 0 2-1 2-2 1 1 1 0 2 1 0-1 1-2-3-6 2 0 2-2 0-2-2-2-3 0 0 4 1 2 0 2-2 2-2 0-3-6 1-2 2-2 1-2-4-4 0-2-1-1-4 0-1 1-3 0 0-2 2-1 2 0 1-1 0-2 1-2 2 1 2-1 2-4 2-2zM419 208l-1 2 2 2 2 0 1-2-2-2zM288 193l1 1 0 2-2 0 1-2zM304 193l1 1 1 0 2 4 2 1 1 1-3 3-2 1-2 0-2-1-1-1 0-2-1-2 0-2 2-2 1 0zM448 207l2 0 1 1-1 1-2 0-1-1zM342 210l1 0 1 2 2-2 2-1 1 1 0 2-3 3-2 1-2-1-1-1 1-2zM360 210l1 2-2 4-1 1-2-1-1-2 1-2 2-2zM354 228l2 2-1 2-2 2-2 0 0-2 1-2zM340 229l1 1 0 2-1 1-1-1-1-2zM362 230l2-1 1 1-1 2-2 0zM402 251l2 1 2 2 0 2-2 1-2-1-2-2 0-1zM406 259l2-1 1 2-1 1-2-1-1 0zM330 306l4 0 1 2-1 2-2-1-1-1zM336 311l2 1 2 2 1 2 0 2-1 1-2-1-2 0-2-2 0-2 1-2zM330 315l1 1-1 1zM456 351l2 1 0 3-2 0-1-1 0-2zM458 358l0 83-1 1-1 2 0 2 2-1 0 5-14 0 0-1 2 0 1-1-1-1-2-1-2-2 1-2 1-1 2-1 4 0 1-2 0-2-1 0-2-2-1 0 0-4-3-3-2 0-1-1 0-2-1-2 1-2 1 0 2-1 1-1-1-2 0-2 1-2-1-2 0-2-1-2-1 0-2-1-3-3-1-2 0-2 2-4 0-5 2 2 2 1 2 0 2-2-1-2 2-4-2-2-1-2 0-4 2 0 1-2 0-2-1-2 0-2 2-4 0-1 2-1 6 0zM450 382l0 2 2 1 2-1 2-2-2-2-2 0zM452 402l-1 2 1 1 2 1 1-2 0-2-1-1zM444 367l1 1-1 1-1-1zM428 386l2-2 2 1 4 0 1 1 0 2-1 1-2 0-2-1-2 1-2-1zM429 396l4 4-2 2 1 1 2 0 2 1 0 2-2 0-2-2-1 0-2-2-2-4 0-2zM428 409l1 1-1 0zM432 409l1 1-1 1-2-1z" fill="#00A600" fill-rule="evenodd"/></g>
<path d="M133.1,134.4 L135.4,136.7 L138.4,137.3 L143.0,136.1 L146.6,137.9 L150.1,140.2 L153.6,141.4 L158.3,142.0 L161.2,139.6 L165.3,142.6 L171.2,145.5 L177.0,147.3 L184.1,149.6 L188.8,146.7 L192.3,144.3 L197.0,146.1 L201.6,149.0 L205.2,154.3 L208.5,156.7 L208.5,160.2 L213.2,162.0 L216.7,164.9 L217.9,170.2 L220.2,169.0 L223.8,175.5 L227.3,181.3 L229.6,183.1 L235.5,186.0 L241.3,189.0 L248.4,191.9 L251.9,195.4 L253.0,198.9 L256.6,197.2 L261.3,198.3 L265.9,199.5 L271.8,198.9 L274.1,202.4 L278.8,202.4 L281.2,207.1 L287.0,204.8 L291.7,202.4 L294.1,202.4 L299.9,206.5 L305.8,208.3 L312.8,210.6 L318.9,211.7 L323.8,212.7 L328.7,215.6 L333.1,214.6 L335.5,217.6 L336.5,220.5 L339.4,223.4 L341.4,228.3 L346.3,231.3 L345.3,237.1 L348.2,242.0 L352.1,243.0 L355.0,247.9 L358.0,250.8 L360.9,253.2 L363.8,257.1 L367.7,256.6 L371.6,257.6 L373.6,254.7 L376.0,254.2 L376.5,258.6 L375.1,262.5 L377.5,264.5 L373.6,265.4 L370.7,267.4 L367.7,271.3 L365.8,274.2 L365.8,279.1 L362.9,282.0 L359.0,285.9 L357.5,288.9 L358.1,293.5 L359.0,297.0 L360.8,302.3 L363.4,307.6 L366.9,312.9 L368.7,318.1 L371.3,321.6 L374.8,325.2 L376.6,329.5 L377.5,333.9 L376.6,336.6 L379.2,339.2 L381.9,344.5 L382.7,349.8 L382.7,355.0 L384.5,360.3 L388.0,363.8 L389.8,369.1 L391.5,372.6 L395.0,376.1 L396.8,377.9 L393.0,382.0 L388.0,385.5 L381.9,386.7 L379.2,384.9 L376.6,380.5 L373.1,377.0 L369.5,373.5 L365.2,370.9 L360.8,367.3 L356.4,365.6 L349.3,365.1 L345.8,362.9 L341.4,360.3 L337.0,356.8 L334.8,356.1 L330.2,354.4 L326.6,356.7 L325.5,359.6 L320.8,362.0 L316.1,363.8 L312.6,361.4 L306.7,360.8 L300.9,360.2 L295.0,360.8 L290.3,359.1 L285.6,357.3 L280.9,353.8 L277.4,353.2 L273.9,350.9 L272.7,347.3 L269.2,345.0 L264.5,340.3 L259.8,333.3 L258.7,328.6 L255.2,325.1 L254.0,321.6 L254.6,319.2 L253.4,315.7 L252.8,312.2 L249.3,308.7 L243.4,305.2 L237.6,304.0 L231.7,302.8 L227.0,302.2 L222.0,301.2 L218.1,300.2 L218.1,297.3 L216.2,294.3 L212.3,292.4 L208.4,287.5 L204.5,282.6 L203.5,279.2 L199.6,278.2 L195.7,275.8 L192.7,272.9 L187.9,269.9 L183.9,266.0 L179.1,264.1 L174.2,261.1 L169.3,258.7 L166.4,255.3 L163.4,250.4 L159.5,247.5 L154.6,244.5 L150.7,241.6 L147.8,237.7 L143.9,234.8 L140.0,233.3 L136.0,231.6 L133.7,228.1 L130.2,225.8 L123.1,223.4 L121.4,218.8 L122.0,211.7 L124.3,208.8 L122.0,209.4 L118.4,204.7 L113.8,202.3 L112.6,197.7 L109.1,193.0 L106.7,188.3 L104.4,183.6 L104.4,177.7 L106.7,175.4 L108.5,170.7 L112.6,167.2 L118.4,166.6 L123.1,169.5 L128.4,168.4 L129.0,163.7 L128.4,155.5 L130.2,148.4 L134.3,143.8 L134.3,140.2 Z" fill="none" stroke="#000" stroke-width="1.3" stroke-linejoin="round"/>
<polygon points="160.30,77.00 170.70,77.00 165.50,85.80" fill="#000"/>
<polygon points="260.20,127.60 270.60,127.60 265.40,136.40" fill="#000"/>
<polygon points="323.80,155.60 332.10,170.40 315.50,170.40" fill="#000"/>
<polygon points="48.10,230.75 73.10,230.75 60.60,252.25" fill="#000"/>
<polygon points="200.70,251.10 217.30,251.10 209.00,265.90" fill="#000"/>
<polygon points="293.10,246.90 324.90,246.90 309.00,275.10" fill="#000"/>
<polygon points="140.60,286.90 172.40,286.90 156.50,315.10" fill="#000"/>
<polygon points="197.50,309.25 222.50,309.25 210.00,330.75" fill="#000"/>
<polygon points="377.40,308.80 387.80,308.80 382.60,317.60" fill="#000"/>
<polygon points="399.20,336.80 409.60,336.80 404.40,345.60" fill="#000"/>
<polygon points="425.70,354.10 442.30,354.10 434.00,368.90" fill="#000"/>
<polygon points="338.10,381.30 354.70,381.30 346.40,396.10" fill="#000"/>
<polygon points="420.00,404.90 435.90,433.10 404.10,433.10" fill="#000"/>
<text x="170.7" y="69.5" text-anchor="start" class="lab">307.6</text>
<text x="271.3" y="120.4" text-anchor="start" class="lab">509.1</text>
<text x="328.7" y="150.8" text-anchor="start" class="lab">494.9</text>
<text x="65.1" y="229.3" text-anchor="start" class="lab">246.1</text>
<text x="215.6" y="247.3" text-anchor="start" class="lab">363.45</text>
<text x="314.2" y="248.7" text-anchor="start" class="lab">397.05</text>
<text x="155.0" y="288.4" text-anchor="start" class="lab">226.2</text>
<text x="216.7" y="307.5" text-anchor="start" class="lab">206.8</text>
<text x="388.0" y="301.5" text-anchor="start" class="lab">430.7</text>
<text x="395.8" y="350.3" text-anchor="end" class="lab">378.85</text>
<text x="449.6" y="392.3" text-anchor="end" class="lab">537.75</text>
<text x="337.2" y="404.0" text-anchor="end" class="lab">355.85</text>
<text x="407.5" y="436.3" text-anchor="end" class="lab">316</text>
<rect x="41.2" y="43.7" width="412.3" height="412.2" fill="none" stroke="#000" stroke-width="2.3"/>
<line x1="42.8" y1="34" x2="42.8" y2="43.7" stroke="#000" stroke-width="2.2"/>
<line x1="131" y1="34" x2="131" y2="43.7" stroke="#000" stroke-width="2.2"/>
<line x1="219.5" y1="34" x2="219.5" y2="43.7" stroke="#000" stroke-width="2.2"/>
<line x1="307.5" y1="34" x2="307.5" y2="43.7" stroke="#000" stroke-width="2.2"/>
<line x1="396" y1="34" x2="396" y2="43.7" stroke="#000" stroke-width="2.2"/>
<line x1="101.8" y1="455.9" x2="101.8" y2="465.5" stroke="#000" stroke-width="2.2"/>
<line x1="194.8" y1="455.9" x2="194.8" y2="465.5" stroke="#000" stroke-width="2.2"/>
<line x1="286.6" y1="455.9" x2="286.6" y2="465.5" stroke="#000" stroke-width="2.2"/>
<line x1="378.75" y1="455.9" x2="378.75" y2="465.5" stroke="#000" stroke-width="2.2"/>
<line x1="31.5" y1="48" x2="41.2" y2="48" stroke="#000" stroke-width="2.2"/>
<line x1="31.5" y1="165.1" x2="41.2" y2="165.1" stroke="#000" stroke-width="2.2"/>
<line x1="31.5" y1="283.9" x2="41.2" y2="283.9" stroke="#000" stroke-width="2.2"/>
<line x1="31.5" y1="400.9" x2="41.2" y2="400.9" stroke="#000" stroke-width="2.2"/>
<line x1="453.5" y1="72.1" x2="462.7" y2="72.1" stroke="#000" stroke-width="2.2"/>
<line x1="453.5" y1="188.9" x2="462.7" y2="188.9" stroke="#000" stroke-width="2.2"/>
<line x1="453.5" y1="306.6" x2="462.7" y2="306.6" stroke="#000" stroke-width="2.2"/>
<line x1="453.5" y1="423.8" x2="462.7" y2="423.8" stroke="#000" stroke-width="2.2"/>
<text x="42.8" y="26.9" text-anchor="middle" class="ax">97°E</text>
<text x="131" y="26.9" text-anchor="middle" class="ax">98°E</text>
<text x="219.5" y="26.9" text-anchor="middle" class="ax">99°E</text>
<text x="307.5" y="26.9" text-anchor="middle" class="ax">100°E</text>
<text x="396" y="26.9" text-anchor="middle" class="ax">101°E</text>
<text x="101.8" y="488" text-anchor="middle" class="ax">98°E</text>
<text x="194.8" y="488" text-anchor="middle" class="ax">99°E</text>
<text x="286.6" y="488" text-anchor="middle" class="ax">100°E</text>
<text x="378.75" y="488" text-anchor="middle" class="ax">101°E</text>
<text transform="translate(24.1,165.1) rotate(-90)" text-anchor="middle" class="ax">38°N</text>
<text transform="translate(24.1,283.9) rotate(-90)" text-anchor="middle" class="ax">37°N</text>
<text transform="translate(24.1,400.9) rotate(-90)" text-anchor="middle" class="ax">36°N</text>
<text transform="translate(485.3,72.1) rotate(-90)" text-anchor="middle" class="ax">39°N</text>
<text transform="translate(485.3,188.9) rotate(-90)" text-anchor="middle" class="ax">38°N</text>
<text transform="translate(485.3,306.6) rotate(-90)" text-anchor="middle" class="ax">37°N</text>
<text transform="translate(485.3,423.8) rotate(-90)" text-anchor="middle" class="ax">36°N</text>
<text x="262.8" y="524.8" text-anchor="middle" class="pl">(b)</text>
</g>
<g transform="translate(0,560.5)">
<g clip-path="url(#rcliph)"><rect x="30" y="42" width="434" height="414" fill="#C20000"/>
<path d="M458 46l0 404-424 0 0-404zM52 242l2 0-2-1zM77 312l-1 0-1 2 3 3 2 0 1-1 1-2 0-2-2-1-2 0zM87 314l0 2 1 1 2 1 0 2-2 2-1 0-4 4 0 2 1 1 2 1-1 2 1 1 4 0 2 2 2 1 0 2 1-2 1 0 2-1 1-1 0-2-3-3-2 0-2-1-2 2-2 0-1-2 1-1 2 0 1-1 1-2-1-2 1-1 2 1 2 0 0 2 2 1 2-1 1-2 0-2-1-2-2-1-4 0-1-1-1-2-2-1-2 0zM67 324l2 0-1-1zM62 334l1 2 1 1 2 1 2 2 2-2 2 0 0-3-4 0-1-1-1 0-2-1zM83 334l1 1 1-1-1-1zM114 340l-2 2 2 2 2-2zM72 346l2 1 2-1-2-2z" fill="#DD4412" fill-rule="evenodd"/>
<path d="M458 46l0 404-424 0 0-78 1-2-1-2 0-1 2-1 2 0 2-2 1 0 1-1 2 0 1-1 0-4 1-1 4 0 2-1 2 1 2 2 2-1 2 0 2 1 2-1 1 0 2-2 1-2 2-2 3 0 1 1 2 0 6-6 2 2 2 1 2-1 1 1-1 2-2 0-2 1 0 1-2 2-1 0 1 1 2 0 2-1 2-2 4 0 2 1 2 2 0-3 2-1 8 0 2 1 0 2 2 2 1 0 1 2 2 1 2 0 1-1-1-2-2-2 1-2 0-6 1 0 2-1 1-1 1-2 0-5-2-2-2 0-1-1-1 0-2-1-3-3 0-2 2-2 0-2 1-1 1 1 1 2 4 4 0 1 4 2 2 0 1-1-1-2-2-2-2-1-1-1 1-1 2-1 2 0 2-1 4 2 2 0 2-1 0-2-1-2 1-1 2-1 2-2 1 0 1-2 0-1 1-1-1-2 0-2 2 0 4-2 1-2 0-6 1-2 0-4-2 0-1 2-2 2-3 0-2-1 0-3 1-2 0-4-1-2-1 0-1-1-2 2 0 3 2 2 0 1 2 1-2 1-4 0-1 1 1 2 2 1 2 0 2 1 0 2 1 2-1 2-2 0-2 1-2-1-1 0-3-3-2 1-2 0-2-2-4 0-4 2-2 0-2-2-1-2 1-2 4 0 2-1 2 0 1-1 0-2 1-2 4-2 0-1 2-1 2 0 1-2-1 0-4-4-2 2-2 0-2-1-2 1-2 2-2 0-2-1-2-2-4-2-2 0-3 3-1 2-4 2-2 0 0 2 1 2 1 1 2 0 0 3-4-2-4 0-2-4-2 0-2-2 4-2 1 0 2-2 0-2 2-2 0-2-3-3-4 0-2-1-4 0 2 4 0 2-4 0-2-1-1-1 0-4 1-1 2-1 1 0 2-2 0-2-1-1-4 0-2-1-1-2 0-2 1-2-3-6 1-1 2-1 1 0-3-3-2 1 0 2-2 1-1-1 0-4 1-1 0-1 2-2 1-2-2-2-1-2 0-1-1-1-1 0-2-1-2 0-2-1-1-2 1-2 0-1-4 2-2-1-1 0 1 0 2-1 1-1 0-4 1-2-2-2-4 2-1-2 0-2-1-1-4 2-2 0-2-1-2 2 1 2 1 1 2 1 2 0 2 1 2 0 1 1 1 2-2 2-2 0-2-1-2 0-1-1-1-2-2 2-3 0-1-1 0-16 1-1-1-1 0-11 2 1 2-1-4-2 0-150zM38 196l2 2 1-2-1-1zM46 202l-1 2 1 1 1-1 0-2-1-1zM75 252l1 1 2-1-2-1zM129 274l-1 1-2 0-1 1 1 2 2-1 2 0 2 1 2 0 2-4-2-1-2 0-2 1zM92 280l2 2 1 0 2-2-1-1-2 0zM125 296l1 2 2 0 1-2-1-1-2 0zM168 298l-2 4-2 0-1 2-1 1-2 1-1-2 0-2-1-2-4-2-2 2 0 2-1 2 0 4 1 2 2 1 1 1-3 3-2-2-2-1-4 2-2 4 0 4-2 4 2 2 2-2 2-1 1-1 0-2 1-2 2-1 2 0 2 1 0 6 2 4 3 0 2-4-1-2 0-2-4-2 0-1-1-1 1-1 0-1 2-4 2-1 2-2 2 1-2 1-1 1-1 2 2 2 2 0 4 2 1 0 2 2-2 2 0 2 1 0 4 4 1-2-1-2 1-2 2-2 0-4 1-2 0-1 4 2 2 0 3-3 0-2 1-1 0-6 0 1-2 1-2 2-2 1-2 2-4 2-2-1-2 1-2 0-2-2 4-4 2 1 2-1-1-2 0-6-1-1-2 0-2 1zM230 316l-2 1-4 0-2 1-2 2-2 0-2 2 4 2 1 2-1 2 2 4-4 2-2 0-2-2-2-1-3 3-1 2 4 4-4 4 0 2-1 2 0 4 1 2 2-1 1-1 0-4 3-3 2 2 2 1 2 0 2-1 1-1 1-2 0-3 2 0 2-1 2 0 2-1 1-1 1-2 0-1 2 0 1-1 0-4-3-3-2-1 0-1 0 1-4 2-2 0 1-2 1-1 2-1 2 0 2-2 4-2-2-4-2 0-2 1-1-1zM184 318l-2 4 2 1 2-1 1-2-1-2zM189 328l1 1 1-1zM243 328l-1 1 0 1 4 4 2 0 1-2-1-2-2-2zM160 333l2 0 2-1-2-1-2 0zM164 332l1 2 1 1 0 3 2 2 2-1 1-1-1-2 0-2 1-2-1-1-2-1zM200 336l0 4 2 1 1 1 0 2 1 1 2 0 2-1 0-2-2-1-3-3-1-2zM252 336l0 2 2 1 2-1 0-2-2-1zM184 342l2 1 1-1-1-1zM126 345l0 2 2 1 2-1 0-1 1-2-1-1-2 0zM165 344l1 1 1-1-1-2zM104 360l-2 1-1 1 1 2 2 1 2-2 0-2-1-1zM49 364l1 2 1-2zM55 368l-1 1-2 1 2 1 2-1 1-2zM257 372l1 1 0-1zM87 376l1 1 0-1zM54 254l2-1 2 1-1 2 0 2 1 2-2 2-2-1-2 0-1-1 0-2 2-2 0-2zM35 256l-1 2 0-2zM49 258l-1 2-2 1-1-1 2-2zM68 258l0 2-2 4 0 3 0-1-2-1-2-2 0-2 3-3zM38 266l2 1 0 7-2 0-1-2 0-4zM62 267l0 1-1 0zM66 276l1 2-1 2 0 1 0-1-1-2zM50 279l2 1-2 2zM64 288l2 2-1 2-1 1-1-1 0-2zM104 289l1 1-1 2 0 1-1-1 0-2zM56 290l0 2 2 1 1 1 0 2 1 2 2 2 0 2-2 1-1-1-2-4-1-1-2-1 0-2 2-2zM88 298l2-1 0 2-1 1-1 0zM40 306l2 0 0 1-1 1-1 2 0 1 0-1-1-2zM35 310l-1 1 0-3zM40 313l1 1-1 0zM38 319l1 1-1 2-2-2zM56 320l2 2 2 1 1 1-1 1-4 0-2-1-1-2 1-2zM66 328l2 1 0 1-2 1-1-1zM224 330l2-1 0 5-2 1-1-1-1-2 1-2zM106 334l2 1 1 1 0 2-1 1-2-1-1-2zM220 337l2 1 1 2-1 1-2 0-2 1 0-4zM88 341l0 1-1 0zM216 341l2 1-2 2 0 1-1-1-1-2zM98 343l1 1 0 2-1 2-1 0-1-1 0-3zM104 345l1 1-2 0zM50 352l2-1 2 0 2 1-2 1-2 0zM40 356l2-1 1 1-4 0zM35 358l0 2 1 2-1 2-1 1 0-8z" fill="#EE9330" fill-rule="evenodd"/>
<path d="M458 46l0 404-424 0 0-51 1-1-1-1 0-5 2 2-1 2 1 0 4 2 4 0 4 2 2 0 2 1 1-1 0-2-1-2 0-2-2 1-2 0-2-1 2-1 2-2 2 1 0 2 0-2 2-1 2 0 2 1 1 2 0 2 1 1 2 1 2-1 2-2 4 2 2 0 2-1 1 0 2-2 1-2 2 1 1-1 1-2-1-2 1-1 6 0 1-1 1-2 2 0 0 3-2 0-1 1-1 2 1 2 1 1 2 1 2-2 1-2 1 0 2-2 1-2 0-4 1-1 2 0 2 1 2-4 2 2 2 1 2 0 1-1 1 0 2-1 2 0 1-1 0-4 1 0 2-1 6 3 1-2 0-2 1-1 2-1-2-4 0-6 2 0 2 2 4 2 2 2-2 2-4 2-1 0 0 2-2 2-1 2 2 0 2 2 2 0 0-2 2-2 2-1 1-1 3 0 2-2 1-2 0-2-1-1-2-1-2-4 0-2 2-1 2 0 2 2 0 1 1 2 1 1 2 1 2 0-1 2-1 1-2 1 2 4 0 2-2 2 2 2 2-1 1-1 1 0 2-1 1-1-1-2-2-2-1-2 0-2-1-2 1-2 1-1 2 0 4-2 2 0 2-1 2 0 2-2 0-2 2-2 2 0 2 1 2 0 1-1 3 0 1 2 1 1 2 1 2 0 1-2-1-2 0-1 1 1 1 0 2 1 1 1 0 2 1 2 0 1 2 1 2 4 7 0 2 2 1 2-1 2-2 2 0 6 1 0 1-2 0-2 1-2 2-2 1 0 2-2 3 0 3-6 0-2-1-2-1 0 1-1 0-1 2-2 2 1 0 1 1 2-1 2 1 2 1 0 2 1 2-1 1-2 1-1 2 0 1 1 0 4-1 2-2-2-2 0-1 2 0 2 1 2 2-1 1-1 1-2 2 0 1 2 1 1 0 1 2 1 4 0 2 2 0 3-2 1-6 0 0-1-2-2-2 0-2 1-3 3 0 4-2 2 0 4-1 2 2 1 2 0 1-1 1-2-1-2 1-2 0-1 4-2 2 1 1 2 0 6 1 2 2 2 0 2 2 1 2 0 1-1 1-2 2 0 2 2 2-2 0-6 2-1 4-4 2 0 0 3 2 2 2-1 5-5 0-2-1-2 2-1 4 2 2 0 1-1 1 0 1-2 0-2-1-1-2 2-2-1 2-2 0-2 1-2 3-3 2 0 1-1 1-2 0-1 1-1 1 0 1-2 0-2-1-2-2-1-1-1 2-4 0-2-3-3-4-2-1-1 1-2 4-2 1 0 0-2-1 0-2-1-2 1-1 0 0 2-1 1 0-1-1-2-2-2-1-2 2-4 4 2 1-2-2-2-7 0-1 2 0 2-2 2-1 0-2 1-2-1-1 0 0-2-1-2 0-1-2-1-2 0 0-2 4 0 0-3-2-2-2 0-4 4-2 1-2-4 0-6-2 1-1 1-2 0-2-2 0-2-1 0-4-2-2 1 0 1-2 1-2 0-4-4-2 1-1 0-1 1-4 2-4 0-2-1-2 2-2 0-4-2 2-2-1-2-1-1 0-1-1-2 0-2-3 0-2 1-6-3 0-1-1-1 0-4-3-3-2 0-4 4-4-2-6 0-2-1-2 0-2-1-2 0-2 1-1 2 0 2-1 1-2 0-1-1 0-2 1-1 2-1 2 0-1-2 0-2-1-2-2 1-2 0-2-1 2-2 0-2-2-2-4-2-2-2-1-2 2-2 0-2-1-2-2 4-1 0-1 1-3-3-1-2-2 0-2 2-2 0-2-2-2-1-2 0-2 1-1 0-2 2-1 0-2 1 0-5 2-1 0-1 2-2 1 0 0-2-1-1-2-1-1 2 0 2-1 1-2 0-2 1-1 2-1 0-2 1-2-1-1-2 1-2 2-1 0-1-2-2-1 0-1-2 2 0 4-2 0-6-2-1-2 0-1-1-1-2 0-3-1-1-1-2-5 0-1 2 0 2-2 2-1 0-3 3-2-2-2 0-2 1-1 0-1 1-3-3-1-2 0-2-1-2-2-2 0-2 1-2 0-2-1-2-1-1-6 0-2 1-2-2 0-2 2-4-2-2 0-2 1-2 0-2-1-1-2-1-4 0-1-2 0-2 1-1 4 0 1 1 2 0 1-1 0-2-2-1-1 0-1-1-2-1 0-2 1-2-1-2 0-1 2-1-2-2-2-1-4 0-1-1 1-1 2 0 0-1 2-2 2-1 1-1-4-4 1-1 2-1 2-2 0-2-2-1-2 0-2-1-4 0 2-1 0-2-4 0 0-1-1-2-1-1-2 0-2-1 0-2-1-2-4 0-1 1-2 0 0-1-2-2-4-2 0-106zM49 146l-1 2 2 4 0 1 2-1 1-2-1-2 0-2-2-1zM67 156l1 1 1-1-1-2zM63 160l-1 2 2 0 2 1 2 0 1-1-1-1-2-1zM67 186l-1 2 2 1 2 0 2-1 0-2-2-2-2 1zM73 220l1 1 2-1 4 0-2-2-2 1-2 0zM133 254l1 2 0-2zM267 314l1 1 1-1-1-1zM171 360l3 3 2-1-1-2-1-1-2 0zM184 362l2 2 2 1 1-1 0-2-1-1-2-1zM192 366l-1 2 1 0zM286 372l2 2 2 1 1-1-1-2 0-2-2 0zM217 378l0 2 1 2 0 3 2 1 1-2-3-6 0-1zM162 380l2 0 0-2zM34 158l1 2-1 1zM46 170l2 0 2 1 3 3-3 3-2-1-2-4zM54 189l1 1-2 0zM58 191l3 3 0 2 1 2-2 2-4-2 0-6zM106 252l2 2-1 2-1 0-2 2-3 0 0-2 1 0 2-1 1-1zM92 256l2 1 0 4-2 1-2-2 0-2zM146 278l2 1 1 1-1 1-2-1zM138 279l2 0 1 1-1 1-2 0zM186 293l2 1 1 0 1 2-1 2-1 0-2 1-1-1-1-2 0-2zM196 320l1 0 1 1 0 1 2 2 1 2-1 2-2 0 0-2-1-2-2-2zM154 344l2 0 0 2-2 0zM190 344l2 2-2 2-2-2zM242 344l2-1 1 1-1 1-2-1-1 0zM123 352l1 2-2 2-2-2 1-2zM202 355l2 1-2 1-2-1zM212 356l2-1 2 1 0 2-2 2-2 0zM240 357l2 0 2 1 2 2 0 2-2 1-4 0-1-1-1-2 1-2zM250 358l4 4 1 0 0 2-1 1-2 0-2-1-2-4zM120 363l2 0 1 1-1 2-2 1-2-1 0-2zM104 373l2-1 2 0 4 2-2 1-2 0-1 1-1 2-2 0-2-2 1-2zM250 373l0 1 1 2 1 1 0 1-2 0-1-2 1-2zM72 376l1 0 0 2-1 0-2 1-1-1 1-1zM98 376l2-1 1 1-1 1 0 1-1 2-1 1-2-1 0-2zM42 378l2 0-2 1zM246 381l0 1-1 0zM44 386l2 1 1 1-1 2 0 1-2 1 2 2-2 0-2-1 0-1-1-2 0-4zM55 386l0 2-1 1-2-1 0-2zM74 390l1 2-1 1-4 0-1-1 1 0 2-2z" fill="#F8DA55" fill-rule="evenodd"/>
<path d="M151 46l1 1 2 0 0-1 188 0 0 2 2 2 2 1 1-1 0-4 74 0 0 2 2 2-1 1-2-2-2 0-1 1-1 2 1 2 1 0 2 1 1 1 0 2 1 1 0 1 2 2 0 3-2 1-2 0-2 1 0 2 2 1 2 2 1 2-1 0-2 2-1 0-2 2 1 2 2 0 2 1 1 1 1 2-1 2 1 2 2 1 1 1 0 2 1 1 2 1 0-4 1-2-1-2 2-1 2 1 2 2 4 2 1 0 1 1 2 1 3 0 1-2 0-1 2 1 4-2 2 0 2 1 0 38-2 0-1 1 1 1 2 1 0 320-424 0 0-33 3-3 2-4 1-1 2 0 2 1 0 2 2 1 6 0 2 1 0 3-2 1-2-1-2 0 0 1-1 2 0 2 1 0 2 1 2-1 2-2 2-1 2 0 2-1 1-2-1-2 0-1 6-6 2 0 4-2 2 0 2 1 0 3 2 0 2-1 2 1 2 2 2 0 2-2 6-3 0-1 0 1 2 2 2 1 1 1 1 2 2-2 1-2 3-3 2 0 2-1 0-4 2-1 4 0 1-1 1-2-1-2 1-1 2-1 2 0 2-2-4-4-3 0 0-2 4-4 1 0 1 2 0 2 1 2 2 2 1 2 3 3 2 1 2 0 2-1 0-1 2-2 2-1 2 1 4 4 0 1 1-1 0-2-1 0-1-2-1-1 0-1-1-2 1-2 2 0 2 1 4-2 2 1-2 2-2 4 0 2 6 0 2 1 1-1-1-1-2 0 0-1 2-4 2 1 2 0 2 1 2-1 1-1 1-2 0-2 2-1 0 1 2 2 1 2 1 1 2 0 3-3 0-2-1-2 0-2 2-1 2 1 2 0 2-1 4 0 2-1 1 2 2 2 2 4-1 2-2 2-1 2 0 2 1 1 2 0 2-2 1 1 1 0 2 2 3 0 1-2-2-2-1-2 0-4 1-1 2 1 1 0 1 2-1 2 1 2 2 1 2 2 2 0 2-2 1 1 0 2 1 1 2 0 1 1-1 1 0 2 2 2 2 0 2 1 0 2 2 1 2-1 2-2-2-2 2-2 2 1 2 2 2 0 2 1-2 4-2 2 2 1 2 0 4-2 2 0 2-1 4 4 2 0 2-2 2 1 2 0 2-2 0-1 1-2 0-4-1-2 1-2 1 0 2-1 1-1 1-2 4 2 1 0 1 1 0 3 2 1 1-1 0-2 1-2 2-1 4 0 0 3 1 2 1 1 2 1 4-4 0-4 4-4 0-4-2-2 2-4 2 1 2 0 1 1 1 2 0 2 2 0 2-2-1-2-1-1-2-1-2-4-2-2 0-2 1-2 0-2-1-2 2-1 3-3-3-6 2-1 1-1 0-2-1 0-2-1-4-4-2-1-1-2-2-2-1-2 1-2 2 0 1 2-1 2 1 1 2 0 2 2 2 0 1-1 1-2-1-2-5-5-2 2-1-1 0-2-1-2-2-1-2 2-2 0-1-1-1-2 0-4 2-2 0-2 1-2 1-1 2-1 2 0 2-1 2-2 0-1 2-2 0-2-1-2 1-1 0-1 2-2-2-1-4 0-2-1-2 0-1 2-1 1-2 1-2 0-2 1-2 0-2 1-1 2-1 1-6 0-3-3-1-2-2-2-2 1-2 0-2-1-2-2-2-1-2 0-2-2-2-1-1 2 1 2-1 2-1 1-2 1-4 0-1-2-1-1-2 0-2 1-2 0-2-1-2 0-2-1-2-2-2 0-2 1-1 1-1 2-2 2-4-4-2 1-2 0-1-1-2-4 1-2 0-1 1-1-2-2-1-2-2 1-1 1-1 0-2 1-1-1 0-4-1-1-2-1-1-2-3-3-2 0-2 1-2-1-1-1-1 0-2-2-2 0-2-1-4 0-6 3-2 2-1-2 1-2 0-2-1-2 2-4 0-6-1-1-4-2-1-1-1-2 0-1-2-1-2-4-2-2-1 0 1-2 2-1 0-2-2 1-2 2-1 0-1 1-6-3-2 2-2 1-2-1-1 0-1-1-1 1-2 0-1-2 0-2 1-2-1-2-2 0-4-2-1 0-2-2 0-2 1 0 2-1 4 4 2-2 2-1 0-2 2-1 1 1 0 2 1 2 2 0 2-2 2 1 2 0 0-1 2-1 2 1 2-1 2 0 1-1 1 0 1-2 0-4 3-3 2 0 2-1-1-2-1 0-2-1-1-1-1-2 1-2 1-1 2 1 2 2 1 0 1 1 4-2 1-1-1 0-2-2-2-4 2-2 2 1 2-1-2-4-4-2-2 1-2 0-1-1-1-2 1-2 0-4-1-2 0-3 2-1-4 0-2 2-1 0-1 1-2-1-4 0-1-2 3-3 2 0 2 1 2-1 2 1 1-2-2-2-1 0-2-1-2 0-2 2 0-1-2-1-1-1 2-2 0-4 1-2 0-4 1 2 1 1 0 1 2 1 2 0 1-1 1-2-2-1-1-1 0-2-1-2 0-1-2 0-4 4 0-1-1-2-1-1-2 1-2-1-2 0-2-1-2 1 0 1-2 2-1 2 0 4-7 0-2 2-1 2 1 2 2 1 6-3 2-2 0-2 4 0 1 2-1 1 0 5-2 4-2-1-2 0-2 1-1-2-1-1-2 1-2 0-2 1-1 1 0 2 1 2 2-1 2 0 1 1 0 2 1 2 4 0 2 2 2 1 1 1 1 2-2 2-1 0-2 2 0 2-1 1-4 0-1 1 2 4 1 1 0 1 1 2 0 6-1 2-2 1 0 1-1 2-1 1-2 1-2 0-2 1-4 0-2-1-2-2-2-1-2 0-2 2-1-1-1-2 0-1-1-1-1-2 0-2-2-1 0 1-1 2-1 1-2 1-2-1-1-1 1-2 0-2-1-2 4-4 1-2-2-2-2 1-2 0-1-1-1-2 1-2 0-2-1 0-2-1-1-1 1-2 2-1 2-2 2-1-4-4-2 0-2 1-2 0-2-2-2-1 4-2 1-2 1-1 2 0 2-1 0-1-1-1-4 0-1 1 0-1-2-2-1-2-1-1 0-5 2-2 2-1 3-3-1-2-2-1-2 0-2-1-2 4-1-2 1-2-1-2 2-4-1-2 0-2-2 0-4 2-4 0-1-2 0-4 1-1 2-1 1 0 1-1 0 1 4 2 1 0 0 2 1 2 2-2-2-2 0-4 2-2-2-1-2 2-2 1-2 0-2-1-2 0-1-1-1-2-2-1-2 0-1-1-1 0-2-1-2-2-2 0-1 1 0 2-1 1-1-1-1-2 2-2-2-2-4 4 0-2-1-2-1-1-4 0-2 1 0 2-1 2-1 1 0-83zM146 52l-1 2 1 2 2-2 1-2-1-2zM324 54l0 1 2 1 1 0 1-2-2-1zM292 56l2 2 2 0 1-2-1-1-2 0zM305 56l0 2 1 1 1-1-1-2 0-1zM311 58l-1 2 2 1 2 0 2-1 0-2-2-1-2 0zM348 62l0 2 2 0 1-2-1-1zM52 70l2 1 2 0 1-1-1-1-2-1zM148 76l0 6 2 1 1-1 2-4-1-2-2-2zM137 84l1 2 0-2zM135 92l1 1 2 0 0-2-2 0zM414 92l0 2 2 1 2 0 2-1-2-2zM448 92l1 2 2 2 1 0 2 1 1-1 1-2-2-2-4-2zM62 96l2 1 1-1-1-1zM52 105l1-1-1-2zM53 106l1 1 2-1-2-1zM450 106l0 1 2-1zM45 110l-1 2 1 2 1 1 2 0 1 1 1 2 0 1 2 1 2-2 2 0 1-2-1-1-4 0-2-1-4-4zM66 112l1 2 1 1 1-1 0-2-1-2zM120 116l0 4 2 0 0-4zM83 120l0 2 1 1 2 0 1-1 0-2-1-1-2 1zM442 122l2 1 0-1zM61 126l1 1 2 1 0 1 1-1 0-2-1-1-2 0zM72 126l0 1 1-1zM102 132l-2 2 2 2 2-1 1-1-1-2zM84 138l-1 2-2 2 0 2 1 2 4 4 2 0 0-4-1-2 0-2-1-2zM136 144l-2 1-6 0-2 1 4 2 2-1 2 1 2 0 1-2zM140 150l2 2 2 1 1-1 1-2-2-2zM90 158l-2 2 0 1-2 0-2 2-2 1 0 1-1 1-1 2-1 0 1 0 1 2 3 0 2-4 4-4 2 1 1-1 1-2-2-2zM108 170l4 4 1-2 0-2-1-1-2 0zM95 182l1 0 0-1zM107 192l-1 2 2 1 2 0 1-1 1-2-2-2-2 1zM105 206l0 2 1 1 1-1 0-2-1-2zM178 213l2 2 2-1-1-2-1-1-2 0zM123 214l0 2 1 1 2-1 0-1 1-1-1-1-2-1zM196 218l2 1 0-2zM182 224l0 2 1 0 1-2zM167 228l0 2 1 1 2 1 2-1 0-2-2-2-2 0zM156 232l0 3 1 1 0 2 2 0 0-2 1-1 0-1-1-2zM185 232l0 2-2 2 0 2 1 1 2-1 2-4-1-2-1-1zM146 236l0 2 2 2 2 0 1-2 0-4-1-2zM143 236l0 2 1 1 2-1 0-2-2-1zM165 256l1 0 0-1zM310 262l-2 1-1 1-1 2 0 5 1 1 1 2 0 3 2 0 0 1-1 2 0 2 1 1 2 0 2-1 0-1 1-1-1-1 0-2 2 0 2 1 0 1 2 1 4-4 4 0 2 1 2 0 2-1 2-2 8-4 0-4-2 0-2-1-2-2-2 0-2-2-2 0-2-1-4 4-2-1-4 0-2-1zM344 264l0 2 2 1 3 3 1 2 2 2 2-2 0-2-2-2 0-1-2-2-2-1-2-2zM295 274l-1 1 0 1-2 2-1 0 1 1 2-1 1 0 1-1 2-1-2-2zM302 283l-2-1-2 0-2 2-1 2 1 1 2 1 2 0 2-1 2 0 2 1 2-2 1-2-1-2-2-1zM280 296l-2 0-2 2-2 0 0 2 2 2 2 0 2-1 1-1 1-2zM271 298l1 1 2-1-2-2zM269 300l0 2 2 0 0-2zM298 320l0 2 2 2 0 1 2-2 0-3-2-1zM120 398l2 2 1 0 0-2-1-1zM266 402l2 1 2 0 2-1-2-1-2 0zM213 404l-1 2-2 1-1 1 1 1 2 1 2-1 1-1 1 0 2-2-2-1-1-1zM69 412l0 2 1 1 2 0 0-1 1-2-1-1-2 0zM216 414l0 2 2 1 2 0 2 1 0 1 1-1 1 0 4-2-1-2-1-1-2 0-2 1-4-2zM250 416l2 2 2 0 2-2 0-2-2-2zM210 416l0 3 2 0 0-1 2-2-2-1zM236 416l0 2 1 2 0 2 1 2 2 1 2 0 1-1 0-2-1-1 0-5-4-2zM96 421l-2 1 0 1 2 0 2-1 2 0 2-2-2-2-2 1zM203 422l-2 2 0 2 1 2 2 0 2-2 2 1 2 0 2 1-2 2 0 2 4 2 2 2 2 1 2 2 2 1 2 0 2-2-1-2 0-2-1-1-2 1-2-1 0-1-2-4 0-1 2 1 4 0 2-1 1-1 1-2 2 1 0 1 2 2 1-2 0-4-1-1-2 0-1 1-1 2-1-2-1 0-2-2-4 0-2 1-1 1 1 1 0 3-2 1-2 0-1-1 1-2 0-2-2-2-2 0-2 2zM209 442l1 2 4 0 0-1 1-1-1 0-2-1-2 0zM428 46l0 2-1-2zM430 50l2 1 1-1 1 0 2 2 0 4-1 0-1-1-2-1-2-2zM448 74l1 2-2 0zM458 74l0 4-1-2zM430 77l1 1-1 1-1-1zM40 131l2 1-2 1-1-1zM48 135l4 2 1-1 1 0 2-2 1 2 0 2-1 2-3 0-1-1-4 0-1-1 0-2zM140 170l2-1 0 1-3 0zM128 180l4 2 0 2-2 2-2-2-1 0-1-2zM136 182l2 1 1 1-1 2 0 2-2-2zM138 197l2 0 1 1-1 2-2 2-2 1-2-1 1-2zM154 197l2 1 0 4-2-1 0-1-1-2zM82 200l2 2 0 2-2 1-1-1-1-2zM146 215l2 1 1 2-1 2-2 1-1-1 0-2 1-2zM118 232l0 2-2 2-2 0-1-2 1 0 2-2zM124 249l2-1 1 2-1 1-2 0zM148 256l-2 1-1-1zM314 262l2 0 2 2 1 2 2 2 0 4-1 1-2 0-2-1 0-4-4-4zM312 273l2 1 0 1-1 1-2 0 0-2zM296 365l1 1-1 1-1-1zM166 374l2-1 2 1 0 3-2-1zM288 379l2 1 1 0 1 1 2 1-2 1-2 0-2-1-1-2zM136 384l1 2 0 2-1 1-2 0-2-1 0-2 1-2zM259 394l-1 1-1-1zM104 400l2 0-1 2-1 1zM50 405l1 1-1 1-1-1z" fill="#E3F056" fill-rule="evenodd"/>
<path d="M55 46l-1 1-4 0-2 1 0 1-1 1-1 2-2 1-1-1 0-2-1-2 1-2zM118 46l18 0 0 3-2 0-2 1-1 0-1 1-2 0-2 2 0 1-1 2 1 1 2 0 1-1 1-2 1 0 1-1 4 0 0 7 2 2 1 2-2 2-1 0-2 1-2-1-2-2-3 0-1-1 0 1-2 2-1 0-7 7-2 1-1 0-1 1-2 1-2-2-1-2 0-2 1 0 2-2 2 0 2-2 4 0 2-1 0-1 4-4 0-1 1-1-3-3-2-1-2 0-2 2-1-2 1-1 0-1 2-1 2-2 2 1 2-2-2-1-2 1zM281 46l1 1 2 1 2 0 2 1 2 2 2 1-4 2-4 8 0 2-1 2 1 1 2 0 2 1 1 0 1 1 2 0 2-1 2 1 4-2 2 0 1 1 1 0 1 2 3 3 2 1 0 2 6 0 1-2 0-2 1-1 2 2 2 0 2 1 8 0 1 2 0 2 1 2 2-1 1-1-1-2 2-2 2 0 2 1 1-1 0-4 5 0 2 4 2 0 2-2 2 2 0 3 2 1 2-1 4 0 4-4 2-1 0-1 1-1 0-4 1-2 2 0 2 1 2 2 1-1 1 0 2-1 2 2 2 1 0 1 0-1 1-2 0-2-1-1 0-1-2-4 0-3-1-1-1-2-2-1 0 1-1 2 0 2-1 1-1-1-1 0-2-2 0-3 2-2 6 0 2 1 2-1 1-1 0-2 25 0-2 2-2 1-2 0-2-1-1 2 0 2-1 2 0 1-1 1-1 2-4 0-2 1-3 3 0 8-1 1-2 0-2 1 0 2 2 1 2 0 5-5 0-6 1-2 4 0 2 2 1 2 0 2 2 4 1 0 2 1 1 1 0 10-3 3-2 0-2-1-1 2 1 2-3 6 1 1 2 0 3 3 1 2 3 0 1 1 0 1 2 2 1 0-1 2 0 1-1 1 0 2-1 1-2 1 0 3 2 1 2-1 2 0 2-1 0-1 1-1 0-2 1-2 1 0 3 3 2 1 2-1 6 0 1 1-3 3-4 2-2 0-2-2-2-1-1 2 0 2-1 2 0 1-2 1 2 1 1 1 3 0 1-2 1-1 2 0 1 1 1 2-2 2-1 2 0 2 1 0 2 1 2 2 1-1 0-2-1-1 0-2 2 1 2 2 2 1 6 0 1-1 1-2 2-1 1-1 0-2 1-1 1 1 0 2-3 6 1 2 0 2 1 1 2 0 2 1 1 0 1 1 4 2 0 15-1 0 1 2 0 4-2 2-1 2 1 1 2 0 0 281-106 0 0-2 1-2 0-2-1-2 2-2 1-2 2-2 1 0 1-2 0-2-1-2 0-4 2-1 4 0 1-1 1 0 2-2 1 0 1-1 0-3-4-2 1-2 0-4-1-1-2 1-4 4-1 0-1 1-2-1-1 0-1-1-2-1-2 0-1 2 1 1 0 1 1 2-1 1-2 0-1-1-1-2 0-1-2-2-4-2-1-1-1-2-2-1-2 0-1-1 0-2 2-4-1-2-2 1-2 2-2 0-2-2-2 2 0 1-1 2 0 2-1 0-4-2-6 3-2-1-2-2 2-4 0-2 2-2 2 0 4 2 2 0 1-2-2-4-2-2 1-2-2-1 0-1-1-2 0-2-1-1-4 2-1-1-1-2 2-2 2 0 2-2 2 1 2 2 2 0 1-1 0-2-1-1-2 0-1-1-2 0-1 1-1-1-1-2 0-2-1-2-2-2 1-2 4-2 1-2 1-1 2 0 1-1 0-2-2-2-1-2-4-2 0-2-2-4 0-3 2-1-1-2-1-1 0-3 2-1 0-3-1-2 1-2 0-12-2-4 0-1-2 0-1-1 1-1 2 0 2-1 2 0 2-2-2-2-2-1-1-1-1-2 2-1 2 2 2 0 1-1-1-2 0-2 2-1 2 1 2 0 2-1 1-1-1-2 0-4 2-2 1 0 1-1 2 1 2 0 2-1 0-1 1-2 1-1 2 0 4 4 2 0 2 1 2-1 2-2 0 1 4 2 2 0 2 1 2 0 2-1 2 1 2 0 2-1 2-2 0-1 2-1 0-1 1-1-5-5-2-1 2-1 2 0 2-1 1-2 0-2-1-1-2 0-2-1-1-2-1-1-2 0-2-1-2 0-2-2-2 1-6 0-4-2-4 0-2 1-2 0-2-1-4 0-1-1-6 0-1-1-4 2-4-4-2-1-4 2-2 0-2 2 0 2-2 2-2 0-2-1-2-2-2 2-2 1-1-2-3 0-4 4 0 4 1 2 0 2-1 0-2 2-2 1-4 0 0 3 2 2-2 4 0 2-2-2-1-2-1-1-2 0-4 4-2 0-1-1 0-2 1-2 2-2 2 0 0-1 1-1 2-4-1-2-2-1-1-1-1-2-2-2-2 1-2-1-2-4-2 0-2 2-2 4-2 0 2 0 2 1 2 2 2 1 2 2-2 2-2 0-2-2-2-1-1 1-1 2-2 2 0 1-4 0-3 3 0 4-1 2-4 0-4 2 3 6-1 1-8-4-2 0-4 2-2 0-2-2 0-3-2-4-3 0-1 2-2 2-4-2-2-2-2 0-2 1-2-1-1-2 1-1 2-1 2-2 1-2-3-3-2 2 0 1-2 2 0 2-2 1-1-1 0-2-1-2 3-6-1 0-2-2-2-1-2 0-1-1 0-2 1-1 2-1 4 0 1-2 1-1 2 0 2 1 1-2 1-1 2-1 1 0 1-2-2-4-2-2 2-1 1 1 1 0 2 2 2 0 2 2 2 0 4-2 2 1 2 0 1 1-1 2-2 1-1 1 1 1 2-1 2 1 2 0 2-1 1-2 1-1 6 0 1-1 0-2 3-6-1-2-2-2-1-2-1 2 0 2-1 2-2 2-2 0-1-2 0-2-1-2 1-2 2-2 0-2-3-3-2-1 0-2-1-2 0-2 1-1 2 0 0 1 2 2 1 0 0-2-1-2-2 0-2-1-2 1-4 4-2 0-2 1 0 1-1 2-1 1-2 0-2-1 0-2 2-2 1 0 1-2-2-2 0-1-1-1 1 0 2-4 0-1 1-1-1-2 0-1-1-1-1-2-2 2-2-2-2-1-4 0-2 1 0 1-2 0-2-1-2 1 0-1-2-2 0-4-2-4 1-2-1-2-2-1-2 1-2-2-2-1-2 0-1-1-1-2 1-2 0-6 1-2 0-1-5-5-1 0-2-1-2 0-2 1-2-2 2-4-2-4 1-2-1-2-2 2-3 0 0 2-1 1-2 0-1-1-2-4-3-3-2-1 0-2 1-2 0-4 1 0 2-2 2-4-2-4-4 0-2-1 0-1-2-1-2-2 0-1-2-4 0-2-4-2 0-3 2-1 1 2 1 1 2 0 4-2 6 0 4-2 2 0 2-1 0-4 2-1 1-1 3 0 2-1 1-1 1-2-2-1-2 0-2-1-2-2-4-2 0-3 6 0 1-1-1-1-4-2-1-1 0-2-1-1-2-1-2 0 0-2 1-2 3-3 2-1 2 1 2 0 0-4-2-1-2-4-1 2-3 3-2-1 1-2 0-2 2-2 1-2-1-2 0-2 1-2 0-2-2-4 0-1 1-1 1-2 0-2-2-1-1-1zM278 54l-2 1-1 1 2 2 0 2-1 0-1 2 1 2 0 1 2 1 0 1 1-1-1-2 1-2-1-2 1-2 0-2zM398 75l1 1 1 2 2 1 1-1 1-2 0-1-2-2-2 1-2-2zM174 94l-2 2-1 0 0 2 1 1 2-1 1 0 1-1 0-3-2-1zM381 100l1 0 0-1zM159 136l-1 2 2 2 1-2 0-2-1-1zM439 144l1 0 2 1 2 2 2-1 1 0-1-2-2 0-2-1-2 0zM449 144l2 2 3 0 0-2-2-2-2 1zM157 146l-1 2-1 0 0 2 2 4 2 0 0-2 1-2 2 0 2 1 2-1-1-2-1-1-2 1-2-2zM236 230l-1 2 1 1 2-1 1 0 0-2zM241 242l0 2 1 0 0-2zM241 252l1 2 2 1 2 0 1-1 0-2-1-2-2 1-2 0zM270 256l0 2 1 2 1 1 2-1 0-2-1-2-1-1zM245 258l0 2 1 1 1-1 0-2-1-1zM211 262l3 0-2-1zM274 264l2 1 2 2 2 1 0 1 1-1 1-2-2-2-1 0-1-1-2 0zM206 276l0 2 2 0 0-2zM368 302l-2 2 2 1 2-1 0-2zM375 304l-1 0-2 1-2 2-2 1 0 2 1 2 0 2 1 2-1 2 1 2 2 0 0-4 4-2 2 0 2 1 2 0 2-1-1-2 0-2-1-2-1 0-1-1-2-1 0-1-2-2zM418 344l-1 2 0 2-4 4 1 1 2 0 1-1 1-2 1 0-1-2 1-2zM316 364l-1 2 1 2 2 1 2 0 2-1 1 0 1-1 0-2-2-2-2 0-2 1-2-1zM371 422l-1 1 0 3 2 0 2-1 0-2-2-1zM367 428l-1 2 2 1 0-3zM310 46l-2 1-2 0-1-1zM68 49l2 0 1 1 0 2 6 6-1 1-2 0-2-1-2-2-2 0-1-2 0-2 1-2zM84 50l2-1 2 1 1 2 0 2-1 1-2 0-2-1zM42 53l1 1-1 1-1-1zM344 55l2 0 1 1-1 2-2-2zM84 58l1 2-1 1-2-1zM114 58l2-2 0 4zM64 60l1 0-1 1zM80 61l1 1 1 2 0 6 1 2 0 2 2 2 1 2-2 2-1 2-1 1-2 1-4-2 0-2 2-1 1-1 0-4 1-1 0-1 1-2-1-1 0-1-1-2 0-4zM292 61l2 0 1 1-1 2-2 1-2-1 0-2zM34 64l4 0 2-1 2 1 0 6 1 2-5 5-2-1-1-2 1-2 2 0-4 0zM50 63l1 1-1 2-1-2zM70 68l2 2 0 2 2 2-4 2-2 0-2-2-2-1-1-1-1-2 2-1 2 1 2 0zM94 68l3 0 1 1 0 1-1 2-1 1-2 0-1-1 0-2zM124 70l2 0 4 2 0 2-1 2-1 1 0 1-2 1-2 0-2-1-2 0-1-2 1-2 2-1 1-1zM100 76l2 0 1 2-1 1-2 0-1-1zM94 77l2 2 0 1 2 1 1 1-1 2 2 1 2-1 2-4 2 0 2-4 2 0 2 2 0 5 1-1 1-2 0-2-1 0 3 0 2 1 1 1 2 4-1 1-2 1-2 2 0 2-1 2 0 2-1 2-2 1-1 1-1 2-2 2-1 0-1 1-2 1-2 2 2 2-2 2-2 0-2 1-4 0-2-1-1 0-1-1-2 0-2-1-2 1-2 2-2 0-1-1 2-2 1 0 4-4 1 0 1-1 1 1 2 0 1-1 0-2-2-1 0-2 4-2 0-1-1-1-1-2 2 0 4-8-2 0-4 2-2 0-1-2 4-4 1-2zM44 82l2-1 2 1 0 1-1 1-2 0zM58 82l0 2-2 0 0-1zM64 81l2 0 1 1-1 2-2-1zM72 81l2 1-2 2 1 2 2 2 0 2-1 1-2 0-2-1-2-2-1 0 1-1 0-1 4-2-1-2zM122 85l2 0 1 1 0 2-1 1-2 1 2 4 6 6 0 1 2 1-4 4-1 0-1 2-1-2-1 0-1-2 0-4-4-4 1-2 0-4 1-2 0-2zM36 90l-2 1 0-2zM64 89l1 1-1 1-1-1zM40 96l2 0 1 2-1 1-2-1-1 0zM86 96l2 0 2 2-2 1-1 1-3 0-1-2 1-1zM134 104l2 0 1 2-1 0zM118 104l2 2-2 1-1-1zM144 107l1 1-1 0zM124 110l2-1 0 1-2 1zM437 120l-1 2-2 0-2 1 0-1 2-1 1-1zM438 125l2 0 1 1 1 2-2 1-2-1 0-1-1-1zM136 134l2-1 2 1 0 4-1 2-4 0-2-4 2-2zM456 134l2-1 0 1-3 0zM144 139l0 1-1 0zM124 159l0 1 2 4-2 1 0-1-1-2 0-2zM106 183l1 1 1 2-2 2 0 1-2 0 0-3 1-2zM209 212l0 2-3 3 0-1-1-2 1-2zM205 218l2 2-3 3-2 1-3 0 1-2 0-1 3-3zM221 230l1 1 0 1 1 2-1 0-2 2-2 1-1-1 1-1 2-1-2-1 0-1-1-2zM224 236l2-1 1 1-1 1zM212 236l1 2-1 1zM216 243l1 1-1 1zM232 245l2 1 1 0 0 2-3 0zM256 276l0 2-1 0 0-2zM284 278l2-1 0 2-2 0-2-1-1 0zM358 277l2 1 1 2-1 1-2-1-1-2zM254 282l4 2-2 4 0 2-2 2-2-2 0-2 2-2-1-2zM262 284l2 0 1 2-1 2zM280 285l2-1 2 2-2 1-2-1zM260 290l2-2 2 0 0 4-2 2-2-1zM306 393l1 1 1 2-1 2-1 0-2 1-2-1 1-2zM178 395l2 0 1 1-1 1-2-1-1 0zM136 398l1 2-1 1-2 0-2-1 0-2zM170 398l2-1 2 0 1 1 1 2 0 1 3 3 0 2 1 1 2-1-1-2 0-6 1-1 2 1 2 0 2 1 4 0 0 5-1 2 0 2 1 2 0 1 2 1 0 1 1-1 3 0-2 2 0 2 2 4 0 2-1 2 0 2-1 1 0 1-3 6-1 1-4 0-2 1 0 1-2 0-2 1 0 4 1 2 1 0 2 1 4-4 2 0 2 1 1-2-1-2 2-1 2 1 2-1 2 0 1 1 1 2 0 2-1 2-1 1-2 1-4 0-1 2 0 2-37 0 1-2-1-2 0-1-1-1 3-3 2-1-2-2 0-1-2 1-2 0-2 1-1 1 0 4-2 2 0 2 1 1 1-1 3 0 2 2-10 0 0-2 0 2-26 0 1-2 2-2-1-2-2-2-4 0-2-1-2 0-1 1-1 0-2 2-1 0-1 1-1-1-1-2 2-4 2 0 2 1 2-1 0-2-2-2-1-2 1-1 4 2 1-1 0-2 1-1 2 0 2-2 2 0 1 1 1 0 2 1 1-1 0-4 1-2 2-1 1-1-1-2 0-1-1-1 1-2 2-1 4 0 2-1 0-2-2-2-3 0-1-2 2-2 2 0 2-2 2-1 4 2 1 1 1 2 1 0 0-2 1-2 2 0 2-1 1-1 7 0 2-2 2 1 2 0 1-1zM161 404l2 0-1-1zM150 412l2 1 1-1 0-2-1-1-2 0zM166 418l-2 1-1 1 1 1 2 0 1-1zM186 422l-1 2 1 2 2-1 1-1-1-2zM140 428l2 4 2 0 0-2-1-2-1-1zM160 430l-1 2 1 2 0 1 2 0 5-5-1-1-2-1zM137 432l1 2 0-3zM141 440l-1 2 2 1 2-1 0-2zM144 400l2 0-2 1zM202 399l2 1-1 2-1 1 0 1-2 2-2-2 2-2 1-2zM122 405l2 0 1 1-1 2-2 0-1-2zM278 406l1 2 1 1 4 2 1-1 2 0 0 2-1 1-6 0-2-1 0 2-2 2 2 4 0 2-2 2-2 1-1 1 1 1 2 1 2 0 4-4 0-1 0 1 2 1 2-1 0-4 1-2 0-2 1-2 2-1 2-2 2 0 2-1 2 0 1 2-1 2-2 0-2-1-2 1 0 4 2 1 2-1 0-1 2-1 0-1 0 1 2 1 1 1 0 2-1 2 2 1 2 0 2 1 2 2 1 0 1 1 2 0 2 1 1 2 1 1 2 0 2-1 2 2 0 2 2 4-2 2-1 2 0 2 1 2 2-1 1-1 0-4 1-1 2 0 2-1 2 4 2 1 2 0 1 1 0 2 1 2 2 0 1 2-90 0 2-4-1-1-2 0-1-1 1-2 2-1 1 1 0 2 1 0 2-1 6 0 2-2 0-2-2-1-4-4 0-2-1-2-2-2-1-2 1-2 1-1 6-3 2 0 2-1 2 0 0 1 1 2 1 1 2-2 0-1 1-2 1-1 2-1-2-1-2-2-4 4-1-1 1-2 0-2 1 0 0-2 1-1 2 1 2-1 2-2zM259 426l1 1 1-1-1-1zM328 408l0 1-1-1zM126 412l1 0 0 2 1 2-1 2-1 0-2 1-4 0-1-1 1-1 2 0 1-1 1-2zM312 414l1 2 1 1 2 0 1 1-1 1-2 0-2 2-2 0-1-1-2-4 1 0zM326 413l2 0 1 1-1 0-1 2-1 1-2 1-2-1-1-1 1-1zM205 416l-1 2-1-2zM364 415l2 1-2 2-2 1-1-1zM80 417l2 1-4 8 0 2 1 2 2 2-1 1 0 1-2 2-3-6-1-1-2 1-1-2-1-1 0-1-1-2 1-2 2 0 2 1 2-1 1 0 2-2 0-2zM84 422l2 0 1 2-1 1-2-1zM56 424l2-1 2 0 2 1 2 0 1 2-1 1-2 0-2-1-1 0-1-1zM250 428l2 1 1 1 0 2-1 2-6 0 0-4 2-2zM92 430l1 0 2 2 0 4-3 0-1-2 0-2zM46 431l2 0 2 1 1 2-1 1-2 0-1 1 0 2 3 0 2-2 0-1 1 1 1 2 0 2 1 2 1 1 0 1 2 1 2 0 1-1 0-2 1-2 0-4-2-1-1-1 1-1 2-1 2 0 2-1 4 0 0 1 4 8 4-2 2 2 0 4-2 2-4 0-2 1-2-1-1 2 1 1 2 0 2 1-9 0-1-1-2 0-1 1-6 0-1-2-2-1-2 1-1 0-1 2-14 0 0-16 2-1 2 0 2 1 2 0 2-2zM43 442l-1 2 2 2 0 1 2 1 1-2 0-4-1-1-2 0zM70 443l2 1 1-2-1-1-2 0zM328 432l2 1 1 1-4 0zM86 434l2 0 1 2-3 0zM106 435l1 1-1 1-1-1zM94 441l0 2-1-1zM228 443l2-1 2 1 1 1-1 1-2 0-2 2-1-1 0-2zM100 448l2-1 4 0 4 2 1 1-11 0zM78 448l2 2-6 0zM198 450l2-1 2 1z" fill="#9FDB17" fill-rule="evenodd"/>
<path d="M168 46l3 0-1 2 0 1-2-1zM274 46l0 1-1 1-1 2 0 2-2 2 0 2-1 2-1 1-2 1 1 2 1 0 2 2 2 0 1 2 0 2-2 2 1 1 0 1 2 2 2 0 4 2 2 2 1 0 1 1 2-2 2-1 2 2 1 2 1 1 0 1 1 2-2 2 0 2 3 3 2 1 2 2 2 4 2 2 4-4 2-1 2 0 0-1 2-2 2-1 1-1 1-2 3 0 1 1 2-1 2 0 2-1 2 0 1 1 0 2 2 2 0 2 1 1 2 0 2-1 2 1 1 1-1 1 0 1-2 2 0 3 1 1 1 0 1-2 0-2 1-1 2 0 4-4 4 0 2 1-3 6 1 2 1 0 0 2-1 2 1 2 0 2 1 2 2 1 2 0 2-1 4 4 1 2 0 2 1 2 4 4 4 0-2-2 0-1-1-1 1-1 2 0 2-1 6 0 2-4 2 2-2 2 1 2 1 0 2 1 4 0 2 1 1 2 1 1 2-1 0-1-1-1-3 0 0-4 1-2 3 0 0 4 1 2 5 0 0 2-2 2 0 2 2 2 2 0 2-2 2 0 4 8 0 2 2 2 0 1 2-2 2 2 0 4-1 1-1 2-1 0-1 2 2 1 2-1 2 0 2 2 0 2-1 2 1 2 2-1 2-2 0-5 6-3 2-2 2 0 1 1-1 1-2 1 0 1-1 1 0 4 1 2 2 0 2 2 4-2 2 2 1 0-1 0-2 4 0 2 4 2 2 0 2 1 2 2 2 1 2 2 1 0 0 2 1 1 0 271-56 0 0-3-2 0 0 1-1 2-13 0-2-1-1 1-9 0 0-3-1-1 1-2-2 0-2-1 0-1-2-1-3-3 1-1 2 0 2-1 2 0 2 2 1 2-1 1 0 3 2 0 2-1 1-1-1-2 0-1 2-1 2 0 1-2-1-1-2 0-1-1 0-2 1-2 0-4 2-2 2 0 1 2 1 1 2 0 1-1 1 0 2 1 2 0 2-1 4 2 2-1 0-2-3-3 0-2 1 0 4-2 2 0 1-2 0-2 1-2 0-2-2-2-1 2 0 2-1 2-4 2-1 0-1 1-2-2-2-1-3-6 0-4-1-1-2-1-2 0-2-2 0-4 1-2-1-1-2-1-2 0 0 2 1 2-1 2-8 0-2-2-1-2 0-2 1 0 2-1 6 0 0-1 2-2 1-2 0-2-3 0-2 1-2-2-2-1-2 1-1-1 2-4-2-2 0-2-1-2 0-2 1-2-1-1-2 0-1 1 0 2-1 2-2 1-2 0-1 1 0 2-1 1-6-3-2 1-4 0-2-1 0-2 2-1 1-1-3-3-4-2-2 0-2-1-2-2-1-2-2-2-1 0-2-4-2 1-1-1-1-2 0-2-1-2-1 0-2-2-1-2 0-4-1-2 0-1-2 0-2-1 1-2 1-1 1 1 1 2 2 1 2-1 1-2-1-1-2-1 2-4 0-2-2-2-2-1-1-1-1-2 0-2 4-2 2 0 0-2-2-1 0-5 2-2 1-2-1-2-2-2 4-2 2 0 0-2 2-1 2 0 2-1 0-2-2-2 0-2 4 0 2 2 4 2 2-1 1 1 1 0 6 3 1 1 2 4 0 2 1 1 2 1 1 2 0 2 1 1 0-1 2-2 1 2-4 4 0 2 1 1 0 1 1 2 0 2-1 1-2 1-2 4 1 2 0 4 1 1 2 1 2 0 1-2-1-1 0-3 2 2 2 1 2 0 2 1 4 0 2 2 2 0 2-4 2-1 2 0 2 2 2 1 2 4 0 1 1 1 1 2 0 1 4 0 2 1 2-2 1-2-1-2-2 0-1-2 1-2-1-2-1-1-4 0-2-1-2-2 2-4 2-1 2-2 4 2 4 0 2-1 2 1 1 1 0 2-1 1 0 3 2 1 1 1-1 2-2 2-1 2-1 1-2 1 0 6-1 2 1 2 4 0 2 4 0 3-2-1-1 0-3-3-2-1-1-2-2-2-2 0-1 2 2 4 1 0-1 2-2 2-2 0-2 2 2 2 2 1 2-1 0-2 2-2 2 2 1 0 1 1 2 1 1 0 1 2 2-1 4 0 2 1 1 2 1 1 2-1 2-2 4 0 2-2 1-2 1-1 2 0 2-1-1-2 6-6-4-4 0-2 1 0 1-2 0-4 1-2 0-2-2-4 0-2 1-2 0-2-1-2 0-1-2 1 0 2-2 1-2 0-1-1-1-2 0-2 2-2 4-2 2 0 2-4 1 2 1 1 0 1 2 2 2-2 0-2-1-2-7 0-4-2-4 4-2-2-2 0-2 2-2 4 2 2 1 0 2 2-1 2 0 1-2 2-2 0-2-2-2 1-2 0 0-1 2-1 0-2-2 0-2-1-5-5 1-1 2 0 1-1 1-2 2 0 2 2 1 0 1 1 1-1 0-2 1-2 0-2-2-1-1-1 0-2-1-1-2-1-4 2-2-1 0-3 2-1 4 0 2-1 2-2-8-4-4 2-2 2-2-1-2 1-4 0-1-2 0-4-4-4 0-2 1-1 2 1 1-2 0-2-1-1 0-1-2-1-1-1-1-2 1-2-1-2-2-2-1-2 0-4-1-2-2 0-2-1-10 0-2-2-10 0-1-1-1 0-2-1-2 1-2-1-2 0-4-2-2 0-2-1-2 0-1 2-1 1-4-2-1-1-1-2 0-1-2 0-2 2-2 0-1-1-1 0-2-2-3 0-3 3-2 1-2 0-2-2-2 0-4 4-2-1-2 0-2 1-1-2 0-2-1-2-1 0-1-1-2 1-2 2-1 2-3 0-1-2 0-2 2-2 0-6 2-2 0-2-1-1-1 1-1 2-2 0-1 2-1 1-2 1-1 0-2 2-1 2-2 0-2-1 0-1-2-1-1 1-1 2-1 0-1 1-3-3 0-2-1-1-2-1-2 1 0-1-1-2-4-4 1-2 2-2 0-2-2-1-2 0-2-1-2 2-2 1-1-1 0-2 1 0 2-1 0-1 1-2-4-4-6 0 3-6 0-2 2-2 1 0 0-2-4-4 0-2-3-3 0-1-1-2-1-1-2-1-2 2 0 1 0-1-2-2 2-4 2-1 1-1 0-2 1-2 2 2 1-2 0-6-1-2-4-2-2 0-1 2-1 0-4 2-1 0-1 1-2 0-1-1-1-2 0-1-2-1 0-1-1 1-1 0-2 1-2 0-1 1-1 2-2 2 2 2 0 1 1 1 1 2 0 1 1 1 0 2-1 1-2-1-4 2-1-2 0-2-1-2-2-1-1-1-1-2 0-4 2-4 0-1-2 1-1 2-1 1-4 0-2 2-2 0-2-1-1-2 0-2 1-2-2-2 1-2 2-2-1-1-4 0-1-1 0-6-2-2 0-2 1-1 2-1 2-2 2-1 2 0 2-1 1-2 1-1 0-3-1-2-1 0-2-2 2-2 1-2 1-1 0-1 2-2 2 0 4 2 3 0 1 1 2-1 2-2 0-6-2-2-6 3-2-1-1-2 2-2 2-4 0-2 2-2 0-2 1-2 0-2 1-2 0-2-1-1-2 1-2 4-2 1-2 0-1-1-1-2-2 0-2-1-1-1 1-1 0-3 1-2 0-6-1-2-3 0 0 4 1 2 0 2-2 1-2 0-2-1 0-2-2-2 0-4 1-2 0-2-1 0-2-1-1 1-1 2-2 0 0-4-2-4 2-2 2 1 6 0 1-1-1-2-4 0-4-2-1-2 2-2-2-2-1-2 0-6 2-1 4 2 2 0 1-1 0-2-2-2-1 0-1-2 0-2zM262 56l1 2 1 1 1-1-1-2zM268 76l0 1 2-1zM324 90l-1 2 1 1 2 0 1-1 0-2-1-1-2 0zM316 94l-1 2 1 1 2-2 2-1-2-1zM311 104l1 1 1-1-1-1zM385 128l1 2 1-2-1-1zM202 134l2 2 2-2-1-2-1-1-2 0zM194 136l2 2 1 2 0 2 1 2 2 0 2-2 0-2 2 4 0 1 1 1 1 2 2 2 4 8 1 0 2 2 0 6 1 2 2-1 1-1 1-2-2-4-1 0 1 0 2-1 1-1 0-2-2-2-1-2-1 0 1 0 1-2-1-2 0-1-1 1-1 0-1 2-1 1-2-1-1 0-1-1 0-1-1-2 2-2 1 0 1-2 0-2-1-2-1 0-1-1 0 1-2 1-4 0-2 1-4-2-2-2zM411 148l1 2 2-1 0-2-2-1zM205 156l-1 0-1 2 1 1 2 0 0-4zM222 164l0 2 2 2 1-2 1-1 2-1-1-2-1-1-2-1zM205 166l-1 1 0 2 2 0 1-1 0-2zM256 214l-1 2 1 2 2-2 0-3-2 0zM247 216l1 1 2 0 1-1-1-1-2 0zM254 220l0 2 1 0zM268 220l0 2 2 2 1-2-1-2zM267 230l-1 2 2 1 0-1 1-2zM264 239l2-1 0-3-2 0zM299 246l1 1 1-1-1-1zM395 286l1 1 2-1-2-1zM378 336l0 2 2 1 0-1zM368 342l2 1 1-1 0-2-1-1-2 0zM380 357l1-1-1-1zM412 368l-1 2 4 0-1-2zM402 403l1-1 0-2-1-1zM403 406l1 0 0-1zM398 408l-2 1-1 1 1 1 2-1zM409 418l1 1 2-1-2-1zM422 424l2 1 0-2-2 0zM387 430l0 2 1 2 2 2 2-1 1-1-2-2 0-2-1-1-2 0zM391 440l-1 2 5 0 0-2-1-1-2 0zM397 442l1 1 1-1-1-1zM381 446l1 2 1-2-1-1zM164 62l1 2-1 1-1-1zM386 79l1 1-1 0zM344 85l0 1-2 0zM342 86l1 2-1 1zM392 91l4 0 1 1 0 2-1 1-2 1-2-2 0-1-1-1zM106 97l0 2-1-1zM182 102l2-1 2 0 0 1 2 2-2 1-2-1-1 0zM356 102l2-1 2 0 2 1 1 2 0 4-1 1-1-1 0-2-4 0 0 4-1 1-2 0-1-1 0-4-1-2 2-1 1-1zM400 107l1 1-1 0zM160 120l0 1-1-1zM183 122l1 2 0 2 1 2-1 1-2-1-1-2-1-1 0-2 1-1zM182 133l2 1 1 0 1 2-2 2 0 1-4 2-1-1 0-4zM426 143l2 0 1 1-1 0-2 2 0 2-1 2 0 2-1 1-1-1 0-6zM216 178l-2 1-2-1zM222 178l2 0 1 2-1 2-2-1zM220 188l4 2-1 2-1 1-2 0-1 1 0 4-1 1-6-3-1 0 1-2 2 0zM196 194l2 0 4 2 0 2-2 2-2 0-2-2-1-2zM228 194l2 1 1 1-1 2-1 0-1-1zM254 242l2 1 1 1 0 2-1 2-2 1-1-1-1-2zM236 257l2 0 1 1 0 2-1 2 0 1-2 2-2 1-2 2-1-2 2-2 1-2 0-1 1-1 1-2zM224 265l2 1 1 0 0 2-1 2-4 0-2 1-1-1 1-2 2-2zM380 276l2 2 1 2 0 4-1 1-2 0-2 1-4 0-1-2 1-1 2 0 2-2 2-1-2-2 0-1-1-1zM352 290l0 2-1-2zM358 298l2 2 0 1 1 1-1 1-2 0-2-2 0-2 1-1zM400 310l1 0 1 2-2 1-1-1zM392 313l2 1-2 0zM426 333l1 1 0 2-1 1zM406 341l1 1-1 2-2-2zM394 417l2 1-2 1-2-1zM295 430l0 2-2 0 0-2zM298 432l0 2-1-2zM302 436l2 0 1 2 4 4 0 2-1 2-4-2-1 0 0-4-1-2zM292 443l2 0 2 1 3 0-1 1-2-1-1 2-3 0-2-2zM298 447l4 0 0 3-5 0 1-2zM368 446l2 1 1 1 1 2-6 0 0-2zM170 449l2 1-4 0zM360 449l1 1-3 0z" fill="#31BF00" fill-rule="evenodd"/>
<path d="M198 47l1 1 1 2-2 1-2 0-1-1 1-2zM214 46l3 0 1 1 2 0 1-1 31 0-1 2 1 1 2 0 1-1-1-2 2 0 1 2 2 2 0 4-1 2 0 2 1 2-1 1-2 1-2 2 2 2 1 0 1 1 2 1 2 2 5 0 0 2-2 0-1-2-2 0-2 2-1 2 1 2 2 2 2 1 3 3-1 2 2 2 1 2 1 1 2 1 2 0 2 2 0 2 2 0 2-1 1 1 0 4 1 1 0 1 1 2 0 2 1 0 2 1 1 1 1 2-1 2-1 1-2 0-1-1-1-2 0-2-2-1-2 2 0 1-1 2 0 2-1 2-2 2-2 0 0 1 3 3 0 2 1 1 2-1 4-4 0-1 1-1 1-2 2 1 4-2 1 1 0 2-1 2-2-1-1 1-1 2 0 4 2 2 4-2 0-1 2-2 3 3 1 0 4 4 2 0 4-2 0-1 2-1 2 2 2 0 2-2 0-1 2-1 0-4 1 2-1 2 2 2 2 1 0-1 2-1 1-1 0-2 3-3 2 2 2 1 2-2 2 0 0 2-4 2-1 2 0 2-2 2-1 2 2 1 6 0 2 1 4 0 2-2 0-1 2-1 2 2 1 2 0 4 1 2 3 0 0-2-1-2 2-2 1 2 1 0 4 2 2 0 1 2 0 2 1 2 0 1 2 1 4-2 1 2 1 1 0-1 2-1 0 1 1 2 0 4 1 0 4 4 0 4 2 1 2-1 0-1 3-3 2-4 0-2-1 0-4-2 1-2 1-1 2 1 2 2 0 2 1 2 1 1 2 1 2 4 2 1 1 1 1 2-1 2 2 2 2 0 1-1 2 0 0 5 4 2 1 0 1 2 2-4 5 0 1 1 2 1-4 2 2 4 0 2 4 4 1 0 0 2 1 2 2 0 2-4 2-1 2 0 2 2 4 0 2 1 2 0-2 0-1 2 0 6 1 2 2 2 2 0 4-2 2-2 0-2 2-1 2 1 0 3-1 1 1 2 0 1 2 0 0 29-2 2 0 2 1 2 1 1 0 27-2 2 2 2 0 37-4-2-1 1-1 2 2 2 0 2-1 2 1 1 2 0 2 2 0 2-1 1-3 0-2-2-1 0-1-1-2-1 1-2 0-4-1-1-2-1-2 1-1-1 1-2 0-2-1-2 0-2-1-2 1-2 2-2-1-2-2-1-1 1 0 4 1 2-2 2 0 2-4 2-1-2 0-8-2-4 1-1 2 1 4 0 1-2 2-2-3 0-2-2-1 0-3-3-4 0-2-1-4 2-1 0-2 2 0 2 1 1 0 4-2 0-2-1-1 0-1-2-5 0-2-2 1-1 2-1-2-2-2-1-2-2-2 0-2 1-2 0-2-2 1-2 0-2-4-4-1 0-4-2-1-2 0-6-1-2-2 0-2 1-2 2-4 0-2-1 0-4-2-4-2-1-2 1-4-2 0 2 2 1 1 1 1 2-2 1-2 0-2 1-2-2-2-1-2 0-2 1-3 0-1-1-2 0-4-2-6 0-2-1-2 0-6-3-4 0-2-1-1-2 0-2 2-2 0-2 1-2 2-2-4-2-2 1-2 0-3-3 0-2 1-1 1 1 1 0 4 2 2 0 2-2 0-1 1-1-1-1-2-1-2-2 0-2-2-1-2 0-2 1-2 2 0 4-2 1-2 0-2-2-4-2-2-2 0-4 2-1 1 0-3 0-6-3-1-1-1-2-2 1-4-2-2 1-2-1-2 0-1 1-1 2 0 1-3-3 0-4-1-2-4-2 0-1-1-1-1 0-2-1-4-4-2 1 1 2 0 2-1 1-2-1-2 0-4 4 0-2-2-4 1-2 1-1 0-1 2-4 0-2-2-2-2 0-1-2 1-2-6 0-2-1-1-1 0-2 1-2 2 0 0-2-4 0-2-1-1-1 1-2-2-1-2 0-1-1-1-2 0-4 2-1 2 0 2-1 2 0-2-4-1 0-1-2-1 0-1-1-2 0-2 1-2 0-2-1-1-1-1-2 1-2 1-1 2-1 2 0 1-2 0-6-1-1-2-1-2 0-1 2 0 2 1 2 0 3-2-1-2-2-1 0-1-1-2-1-2-4 2-2 2 0 0-2 1-2 2-2-1-2-2 0-2-2 2-2-1-2-2-2 0-4-1-1-2-1-2 2-2 1-2-1 0-3-2-1-1 0 0-2 1-1 2-1 1 2-1 2 2 1 2 0 2-2 2-1 2 0 1-2-1-1-1 1-1 2-2-1-1-1-1-2 0-1-2-1-2 1-2-1-1-2 1-1 4 0 2-1 0-2 2-2 1 0-1 0-4-4 0-3 3-3-1-1-2-1-2-2 0-6 2-1 1-1 0-2-1-2-2-1-2 1 0 2 1 2-1 1-2 0-2-1-3 0-1-2-2-2-2 0-4 2-2-4 2-2 2-1 2-2 2 1 0 2 2 4 2-1 0-1 1-2-1-2 3-6 3 0 2 1 1-1-1-2 0-2zM232 52l2 0 1 2-1 1 0 1-2 1-1 1 1 2 2 0 2-2 1-2-1-2 0-2zM213 56l-1 1-2 1 1 2 1 1 2 1 2 0 2-2 2-4-2-1-2 1zM246 66l-1 2 1 1 2 0 1-1 1-2 0-1-2 0zM218 68l-1 2 1 1 2 0 1-1-1-2zM232 74l2 2 2-2-2-2-2 1zM251 84l1 1 1-1-1-1zM244 86l-1 2 1 2 2 1 1-1 0-2-1-2zM217 94l0 2 1 1 0-3zM251 104l1 2 2 0 2 2 0 1 0-3-1-2-1-1-2 0zM233 110l1 1 2-1-2-1zM251 120l1 1 2 0 4 2 1-1-1-2-1 0-1 1 0-1-2-1-2 0zM232 126l-1 2 1 1 2-1-1-2zM239 130l0 2 3 0 1-2-1-1-2 1zM307 132l1 1 0-1zM304 136l-2 1-2 0-1 1-1 2 0 1-2 1-2 0 6 0 2-2 0-1 2 0 2-1 0-1zM293 140l1 2 0-2zM239 142l1 1 2 0 1-1-1-1-2 0zM337 142l1 1 0-2zM372 149l1-1-1-2zM344 150l2 1 0-1zM316 152l2 1 2-1-2-2zM340 158l0 2 2 2 2-2 0-2-2-1zM354 160l2 2 2-1 1-1-1-1-2 1zM303 172l-1 2 2 1 1-1-1-2zM412 174l-2 4 0 2 1 2 1 1 1-1 1 0 1-2 2-2 0-2-1-1-2-1zM266 178l0 3 2 2 2-1 1-2 0-2-1-1-2-1zM311 178l0 2-1 2 2 2 0 2 2 2 1-2-1-2 0-7-2 0zM348 178l-1 2 1 2 2 1 1-1-1-2 0-2zM304 190l2 1 1-1-1-2-2-1zM279 190l1 1 1-1-1-1zM369 190l1 2 2 1 0-2-2-2zM430 192l4 2 1-2-1-1-2-1zM289 198l-1 2 2 2 2-2-1-2zM305 200l1 1 0-1zM380 200l-2 1 0 1 2 1zM447 202l0 2 2 0 0-2-1-1zM396 204l2 1 1-1-1-1zM421 204l-1 2 0 1 2-1 1-2-1-1zM410 206l-1 2 0 2 1 1 2-1 1-2-1-2zM328 208l0 4-1 2 3 0 0-4zM344 212l1 2 1 1 0-1 1-2-1-1zM343 218l-1 0-2 2-2 0-2-1-2 0-2 2-2 1 1 2 0 2-1 2-2 2 1 2 1 1 2 0 1-1 0-4 5 0 0-1 2-2 0-1 4-2 1-2 0-2-1-1zM375 218l0 2 2 0 0-2zM416 266l-2 2 3 0zM414 278l2 1 1-1-1-1zM192 67l1 1 1 2-1 2-1 1-2-1-1-2 1-2 1 0zM202 71l0 4-2 1-1-2 1-2zM211 74l1 2-2 2-1 2 0 2-1 2 1 2 2 2 0 2-1 2 0 1-2-1-2 0-2-2-2-1-1-1 0-2 1-1 4-2 1-1-2-2-1-2 1-2 1 0 2-2zM298 112l2 0 2 2-2 2-2 0-2 1 0-3zM212 117l2 0 1 1 1 2 0 1 1 1 0 2-1 2 0 2 0-2-1-2-1 0-4-2 0-3zM192 167l0 1-1 0zM424 171l2 0 1 1 1 2 0 3-2-2 0-1-2-1-1-1zM240 179l2-1 0 4-2 1 0-1-1-2zM426 179l2 1-2 1-1-1zM246 194l2-1 2 1-1 2-3 0zM269 200l1 2-2 1-2-1 0-2zM268 210l2 1 2 0 1 1-2 2-1 0-2-2zM284 211l1 1-1 1-1-1zM276 219l1 1-1 0zM293 220l-1 2-1-2zM302 223l2 1 0 1-2 0-1-1zM294 235l1 1 2 4-1 1-2 1-1-2 0-4zM304 235l1 1 0 2 1 2-2 1-2 0-1-1 2-4zM392 271l1 1-2 0zM432 279l0 2-1-1zM338 300l2 1 0 1 6 6 1 0-1 2 0 2 1 2 0 2-2 2 0 2 1 0 2 2 0 4-1 2-1 1-2 1 0 2 1 2 1 1 0 2-1 1 1 2 2 1 4 0 1 1 1 2 0 2-1 2 1 2 0 2 1 2 0 2-1 0-2 1-2 0-1-1-1-2-6-3-2 0-1-1 0-4-1 0-2-1-2-2-2 0-6-3-1 0 1-1 0-1 2-2 0-1 1-1-1-2 0-1-1-1-1-2 0-2 2-2 0-1 1-1-1-1-2 0 0-1-1-2 1-2 0-1 2-1 0-1-2-1 2 0 2-4 2-2 4-2 0-2zM450 319l2 0 1 1 1 2 4 0 0 3-1 1 0 2 1 2 0 6-1-2-1-1-4-2-2 1-2 0-1-2 0-2 1-2 0-6zM452 338l2 1 1 1 1 0 2 1 0 16-1 1 1 1 0 9-1 2 1 1 0 26-1 1 0 2 1 1 0 28-2 1 0 1-3 3 1 2 1 0 1-1 2-1 0 16-4 0 0-2-2-2-2 1-1 1-1 2-12 0 0-1 1-1-1-2-2 0-1-2-1-1-2 1-2 0-2-2 1-2 1 0 2-1 3-3 1 0 4-2 0-1 1-1-1-1 0-3 2-2-2-4 0-2-2-4 0-2-1 0-1 1 0 1-2 2-2 1-2 0-2 1-2-2 4-2 0-3-2-1-2-2-1-2 1-1 2-1 2 0 2 1 2 2 2 1 2-1 2 0 1-1-1-2-2 1-2 0-3-3 0-2 1-2-1-2 0-2 1-2 0-8-2-2 0-1-1-1-2-4 1-2 2 2 2 1 2 0 2-1 3 0-1-2-2-2 0-3 2-2 2-1 0-2 2-2 2-1 2-2 2-1 2-2 0-3-1-1-1-2-2-2 1-2 1-1 2 0 1 1 1 2 1-2-1-2-2-1-2-2 0-1-1-2 1 0 2-2zM455 366l1 1 0-2zM446 380l-1 2 1 1 2 0 1-1 0-2-1-1zM441 388l1 1 0-2zM450 392l-2 2-1 0-1 1-2 0-2 1-2 2-1 2 1 1 2 0 0-1 2-2 0-1 2-1 1 0 1-1 2-1 0-4zM441 428l1 1 1-1-1-1zM360 341l2 0 2 1 0 2-2 2-4 2-2-2 0-2 2-1zM362 351l2 1 2 2-1 2-1 1-2 0-1-1 0-4zM444 354l1 2-1 1-2-1zM379 360l1 2-1 2-1 1-2 1-2-2 1-2 2-2zM354 362l1 2-2 0zM438 361l0 3-1-2zM394 378l2 0 0 1-2 1zM418 396l2 0 4-2 1 2-1 2-2-1-2 2-2 1-2-2zM426 398l2 1 1 1 0 2-1 1-2-1zM430 422l2 1 1 1-1 2 0 2-1 2-1 0-2 1-1-1 1-2 0-2zM410 425l2 1-2 1z" fill="#00A600" fill-rule="evenodd"/></g>
<path d="M133.1,134.4 L135.4,136.7 L138.4,137.3 L143.0,136.1 L146.6,137.9 L150.1,140.2 L153.6,141.4 L158.3,142.0 L161.2,139.6 L165.3,142.6 L171.2,145.5 L177.0,147.3 L184.1,149.6 L188.8,146.7 L192.3,144.3 L197.0,146.1 L201.6,149.0 L205.2,154.3 L208.5,156.7 L208.5,160.2 L213.2,162.0 L216.7,164.9 L217.9,170.2 L220.2,169.0 L223.8,175.5 L227.3,181.3 L229.6,183.1 L235.5,186.0 L241.3,189.0 L248.4,191.9 L251.9,195.4 L253.0,198.9 L256.6,197.2 L261.3,198.3 L265.9,199.5 L271.8,198.9 L274.1,202.4 L278.8,202.4 L281.2,207.1 L287.0,204.8 L291.7,202.4 L294.1,202.4 L299.9,206.5 L305.8,208.3 L312.8,210.6 L318.9,211.7 L323.8,212.7 L328.7,215.6 L333.1,214.6 L335.5,217.6 L336.5,220.5 L339.4,223.4 L341.4,228.3 L346.3,231.3 L345.3,237.1 L348.2,242.0 L352.1,243.0 L355.0,247.9 L358.0,250.8 L360.9,253.2 L363.8,257.1 L367.7,256.6 L371.6,257.6 L373.6,254.7 L376.0,254.2 L376.5,258.6 L375.1,262.5 L377.5,264.5 L373.6,265.4 L370.7,267.4 L367.7,271.3 L365.8,274.2 L365.8,279.1 L362.9,282.0 L359.0,285.9 L357.5,288.9 L358.1,293.5 L359.0,297.0 L360.8,302.3 L363.4,307.6 L366.9,312.9 L368.7,318.1 L371.3,321.6 L374.8,325.2 L376.6,329.5 L377.5,333.9 L376.6,336.6 L379.2,339.2 L381.9,344.5 L382.7,349.8 L382.7,355.0 L384.5,360.3 L388.0,363.8 L389.8,369.1 L391.5,372.6 L395.0,376.1 L396.8,377.9 L393.0,382.0 L388.0,385.5 L381.9,386.7 L379.2,384.9 L376.6,380.5 L373.1,377.0 L369.5,373.5 L365.2,370.9 L360.8,367.3 L356.4,365.6 L349.3,365.1 L345.8,362.9 L341.4,360.3 L337.0,356.8 L334.8,356.1 L330.2,354.4 L326.6,356.7 L325.5,359.6 L320.8,362.0 L316.1,363.8 L312.6,361.4 L306.7,360.8 L300.9,360.2 L295.0,360.8 L290.3,359.1 L285.6,357.3 L280.9,353.8 L277.4,353.2 L273.9,350.9 L272.7,347.3 L269.2,345.0 L264.5,340.3 L259.8,333.3 L258.7,328.6 L255.2,325.1 L254.0,321.6 L254.6,319.2 L253.4,315.7 L252.8,312.2 L249.3,308.7 L243.4,305.2 L237.6,304.0 L231.7,302.8 L227.0,302.2 L222.0,301.2 L218.1,300.2 L218.1,297.3 L216.2,294.3 L212.3,292.4 L208.4,287.5 L204.5,282.6 L203.5,279.2 L199.6,278.2 L195.7,275.8 L192.7,272.9 L187.9,269.9 L183.9,266.0 L179.1,264.1 L174.2,261.1 L169.3,258.7 L166.4,255.3 L163.4,250.4 L159.5,247.5 L154.6,244.5 L150.7,241.6 L147.8,237.7 L143.9,234.8 L140.0,233.3 L136.0,231.6 L133.7,228.1 L130.2,225.8 L123.1,223.4 L121.4,218.8 L122.0,211.7 L124.3,208.8 L122.0,209.4 L118.4,204.7 L113.8,202.3 L112.6,197.7 L109.1,193.0 L106.7,188.3 L104.4,183.6 L104.4,177.7 L106.7,175.4 L108.5,170.7 L112.6,167.2 L118.4,166.6 L123.1,169.5 L128.4,168.4 L129.0,163.7 L128.4,155.5 L130.2,148.4 L134.3,143.8 L134.3,140.2 Z" fill="none" stroke="#000" stroke-width="1.3" stroke-linejoin="round"/>
<polygon points="165.50,74.00 173.80,88.80 157.20,88.80" fill="#000"/>
<polygon points="265.40,127.60 270.60,136.40 260.20,136.40" fill="#000"/>
<polygon points="323.80,152.25 336.30,173.75 311.30,173.75" fill="#000"/>
<polygon points="60.60,237.10 65.80,245.90 55.40,245.90" fill="#000"/>
<polygon points="209.00,254.10 214.20,262.90 203.80,262.90" fill="#000"/>
<polygon points="300.70,253.60 317.30,253.60 309.00,268.40" fill="#000"/>
<polygon points="156.50,296.60 161.70,305.40 151.30,305.40" fill="#000"/>
<polygon points="210.00,309.25 222.50,330.75 197.50,330.75" fill="#000"/>
<polygon points="382.60,308.80 387.80,317.60 377.40,317.60" fill="#000"/>
<polygon points="404.40,333.80 412.70,348.60 396.10,348.60" fill="#000"/>
<polygon points="428.80,357.10 439.20,357.10 434.00,365.90" fill="#000"/>
<polygon points="346.40,381.30 354.70,396.10 338.10,396.10" fill="#000"/>
<polygon points="420.00,404.90 435.90,433.10 404.10,433.10" fill="#000"/>
<text x="170.7" y="69.5" text-anchor="start" class="lab">307.6</text>
<text x="271.3" y="120.4" text-anchor="start" class="lab">509.1</text>
<text x="328.7" y="150.8" text-anchor="start" class="lab">494.9</text>
<text x="65.1" y="229.3" text-anchor="start" class="lab">246.1</text>
<text x="215.6" y="247.3" text-anchor="start" class="lab">363.45</text>
<text x="314.2" y="248.7" text-anchor="start" class="lab">397.05</text>
<text x="155.0" y="288.4" text-anchor="start" class="lab">226.2</text>
<text x="216.7" y="307.5" text-anchor="start" class="lab">206.8</text>
<text x="388.0" y="301.5" text-anchor="start" class="lab">430.7</text>
<text x="392.6" y="350.9" text-anchor="end" class="lab">378.85</text>
<text x="443.9" y="392.7" text-anchor="end" class="lab">537.75</text>
<text x="337.4" y="402.3" text-anchor="end" class="lab">355.85</text>
<text x="406.1" y="433.8" text-anchor="end" class="lab">316</text>
<rect x="41.2" y="43.7" width="412.3" height="412.2" fill="none" stroke="#000" stroke-width="2.3"/>
<line x1="42.8" y1="34" x2="42.8" y2="43.7" stroke="#000" stroke-width="2.2"/>
<line x1="131" y1="34" x2="131" y2="43.7" stroke="#000" stroke-width="2.2"/>
<line x1="219.5" y1="34" x2="219.5" y2="43.7" stroke="#000" stroke-width="2.2"/>
<line x1="307.5" y1="34" x2="307.5" y2="43.7" stroke="#000" stroke-width="2.2"/>
<line x1="396" y1="34" x2="396" y2="43.7" stroke="#000" stroke-width="2.2"/>
<line x1="101.8" y1="455.9" x2="101.8" y2="465.5" stroke="#000" stroke-width="2.2"/>
<line x1="194.8" y1="455.9" x2="194.8" y2="465.5" stroke="#000" stroke-width="2.2"/>
<line x1="286.6" y1="455.9" x2="286.6" y2="465.5" stroke="#000" stroke-width="2.2"/>
<line x1="378.75" y1="455.9" x2="378.75" y2="465.5" stroke="#000" stroke-width="2.2"/>
<line x1="31.5" y1="48" x2="41.2" y2="48" stroke="#000" stroke-width="2.2"/>
<line x1="31.5" y1="165.1" x2="41.2" y2="165.1" stroke="#000" stroke-width="2.2"/>
<line x1="31.5" y1="283.9" x2="41.2" y2="283.9" stroke="#000" stroke-width="2.2"/>
<line x1="31.5" y1="400.9" x2="41.2" y2="400.9" stroke="#000" stroke-width="2.2"/>
<line x1="453.5" y1="72.1" x2="462.7" y2="72.1" stroke="#000" stroke-width="2.2"/>
<line x1="453.5" y1="188.9" x2="462.7" y2="188.9" stroke="#000" stroke-width="2.2"/>
<line x1="453.5" y1="306.6" x2="462.7" y2="306.6" stroke="#000" stroke-width="2.2"/>
<line x1="453.5" y1="423.8" x2="462.7" y2="423.8" stroke="#000" stroke-width="2.2"/>
<text x="42.8" y="26.9" text-anchor="middle" class="ax">97°E</text>
<text x="131" y="26.9" text-anchor="middle" class="ax">98°E</text>
<text x="219.5" y="26.9" text-anchor="middle" class="ax">99°E</text>
<text x="307.5" y="26.9" text-anchor="middle" class="ax">100°E</text>
<text x="396" y="26.9" text-anchor="middle" class="ax">101°E</text>
<text x="101.8" y="488" text-anchor="middle" class="ax">98°E</text>
<text x="194.8" y="488" text-anchor="middle" class="ax">99°E</text>
<text x="286.6" y="488" text-anchor="middle" class="ax">100°E</text>
<text x="378.75" y="488" text-anchor="middle" class="ax">101°E</text>
<text transform="translate(24.1,165.1) rotate(-90)" text-anchor="middle" class="ax">38°N</text>
<text transform="translate(24.1,283.9) rotate(-90)" text-anchor="middle" class="ax">37°N</text>
<text transform="translate(24.1,400.9) rotate(-90)" text-anchor="middle" class="ax">36°N</text>
<text transform="translate(485.3,72.1) rotate(-90)" text-anchor="middle" class="ax">39°N</text>
<text transform="translate(485.3,188.9) rotate(-90)" text-anchor="middle" class="ax">38°N</text>
<text transform="translate(485.3,306.6) rotate(-90)" text-anchor="middle" class="ax">37°N</text>
<text transform="translate(485.3,423.8) rotate(-90)" text-anchor="middle" class="ax">36°N</text>
<text x="236" y="524.8" text-anchor="middle" class="pl">(c)</text>
</g>
<g transform="translate(527,560.5)">
<g clip-path="url(#rcliph)"><rect x="30" y="42" width="434" height="414" fill="#C20000"/>
<path d="M458 46l0 404-424 0 0-58 2 0-2 0 0-8 1 0 1-2-1-2 1 0 2-1 2 1-2 4 0 4 4 4 0 1 1 1 7 0 2 1 2-1 0-3 1-1 0-2 1-1 0-1 2-1 3-3 1-2 1 2 8 0 1 1 0 2-1 1 8 0-1-1 0-1-2-2 3 0 1 1 2 1 2 0 1-2 2-2 2-4 1 0 2-1 2 0 4-2 2-2 2-1 2 0 2 2 2 0 2 1 0 2-1 1 0 2 1 1 2 1 2-2 4-2 1 0 1-1 4 0 0-1 2-4 0-2 1 0 1 1 4 0 2-1 2 2 0 2 2 1 1-1-1-2 4-8 2 0 2-4 0-4 2-2 5 0 0 2-1 2 2 2 2 1 2 0 4 4 1-1 0-2 1-2 0-1 2 0 1-1 1 0 2-1 3-3 1 0 2-1 2 2 0-1 2-2 2-1 1-1 0-2-1-1-2-1-2 0 1-2 1-1 2 1 1 0 2 2 3 0 4 4 1-2 2-2 0-2 1-1 2-1 4 0 0 4 6 3 2 0 2 1 1 2-1 2 0 1-2 1-1 0 3 0 4 2 2 2 2 4 2 1 1-1 0-4 1-2 0-2 2-1 4 0 2-2 2 2 4 0 2 1-1 2 1 2-2 4-2 2 0 2 2 1 1 1 1 2 0 2-2 2 2 2 4-2 1 0 1 1 2 1 1 2-3 0-1 2 0 2 1 1 2 0 2-1 2 1 1 1 1 2 0 2 2 1 2 0 1-1-1-2 0-1-1-1 1-1 2 1 2-1 4 0 2 1 2-1 1-1 1-2-1-2-1 0-4-2-4 0-2-1-2 1-2-1-1-1 1-2 2-2 2 1 2 2 2 1 4-4 0-2-2-1-1-1 0-2 1-1 4 0 1-1 1-2-1-2-3-3 0-1-1-2-1-1-2-1-1 0 0-4 1-2 6 3 2 0 2-1 2-2 0-2-2-4-2-1-2 1-4 0-2-1-1-1 0-2 1-2 0-2 1-2 4-4-3-3-4 4-2 0-1-1 1-1 0-3 1-2-1-1-4 2-1-1-3 0 0 3 1 1-1 2-2 1-1-1-1 0-2-1-2 1 1 2-1 1-2 0-4-2-1-1 1-2-2-2-2 2 0 1-1-1-1-2 0-3 1-1-1-1-4 0-2-1-2-2-3 0-1 2-2 1-2-1 2-4-2-2-6 0-1 2 2 4-1 2-2 1-4 0-2-1 0-4-4-4-8 0-2-1-2 0-2-1-2 0-1-2 0-2-1-1-16 0-2-1 0-2 2-1 2 0 2-1 0-2-2-2-5 0-1 1-2 1-1-2-1 0-2-1-2-2-2-1-2 1-2 0-1-1-2 0-1 1-2 0-1-1 0-2 1-1 0-1-2-1-1-1 0-2 1-2-2-2-2-4-2-2-3 0-1-2 0-1 0 3-4 4-2-1-1 1-1 0-2 2-2-1-2 0-1-1 0-2 1-1 2-1 0-1-2 0-1-1-1-2 2-2 2 1 2 0 2-1-4-2-2 1-2-1-1-2-1 0-4-2-2 2-2 0-2-4-1 0-1 1-1-1 0-4-3-3-4 2-1 1 0 4-3 0-4-2-6-6 1-2 1 0 2-2-2-2-2 0-2 1-2 2-2 0-1-1-1-2 0-2 2-2-1-2 1-2 2-2-2-4-1 0-1-2 0-1-2 0-4 2-1 1-1 2-2 0-2-4-2-2-2 1-2-1 0-2 1-2 0-2-1-2 0-1-1-1 1-2 0-5 0 1-1 2-2 2-1 0-2 1-4 0-2 1-2 2 0 1 0-1-2 0 0-12 2 1 1 1 1 0 2 1 2 0 1-1-1-2-2 0-2-1-1-1 0-2 1-2-2-1-2 1 0-152zM61 184l1 1 0-2zM43 192l0 2 1 1 2-1 0-2zM54 196l0 2-1 2 1 2 3 0 1-2 0-2-2-4zM63 204l0 2 1 1 2 1 0 5 2 0 1-1 0-2-1-1-2-1 1-2 0-2-1-1-2 0zM74 234l-2 4-1 0 1 1 0 1 2 1 0-1 1-2 0-2 1-1 0-1zM115 256l-1 2 2 4 2-1 2 1 2-2-1-2-1-1-2 0-1-1zM149 284l1 1 0-1zM280 344l-1 2 1 1 2 1 0-2 1-2-1-1zM273 354l1 1 1-1-1-2zM208 360l2 2 1-2-1-1zM148 362l-1 2 0 2 1 1 1-1 1-2 0-3zM273 366l1 2 1-2-1-1zM283 366l1 2 1-2-1-1zM221 372l1 2 2-2-2-2zM273 380l3 0 0-1-2 0zM252 395l1-1-1-1zM38 217l0 1 1 2 0 2-1 1-1-1 0-4zM46 222l1 2-1 1-2-1zM62 232l2-2 2 1 1 1 0 6-1 2-2 0 0-2-2-4zM50 234l2 0 1 2-1 1-1-1zM36 248l0 2-1 2 0 2-1 2 0-7zM52 247l2 0 1 1-1 2-2 1-2 0-1-1zM66 250l2-1 1 1-1 2zM42 266l1 0-1 1zM70 267l2 0 2 1-1 2-3 0-2-2zM83 272l-1 1-1-1zM79 276l-1 1-1-1zM126 276l2-1 2 1 2 0 2 1 1 1 0 2-2 4-1 1-2 0 0-1-1-2-1-1-2-1-2-2zM36 284l2 2-2 0zM126 287l2 0 1 1 0 2-1 2 0 1-2 2-2-1-5 0 0-2 1-1 2-1 0-1 2 0zM138 295l2 0 1 1-4 4-4 0zM134 312l-2 1-1-1zM184 312l2-1 4 0 0 1 1 2-1 1-2-1-1 0-1-1zM90 314l2-2 1 2 2 2-1 1-2 1-2 0-1-2zM108 315l1 1 0 2-2 0-1-2zM174 316l2 0 2 1 1 1 1 0 2 2-2 2-2 1-1 1-2 0 0-2 1 0 1-2 0-2-1-2zM60 317l2 0 1 1 0 2-1 1-2-1-1-2zM157 318l0 2-1 1-1-1 0-2zM228 319l1 1-1 1-1-1zM232 323l1 1-1 1-2-1zM182 328l-2 1-1-1zM194 327l0 2-1-1zM62 330l1 2-1 2-1-2zM102 333l2 1 0 1-2-1zM84 336l2 2 0 1-2 0-1-1zM154 335l2 1 0 3-2 1-2-4zM179 336l0 2-1 1-1-1-1-2zM120 339l1 1-1 1-1-1zM168 340l2 1 1 1 0 2-1 1-2 1-2-4zM252 340l1 0 1 2-2 2-1-2zM156 342l4 0 0 2-2 2zM176 347l1 1-1 1zM220 349l2 1 1 2-1 1-2 0-1-1 0-2zM162 351l2 1-2 4-1-2 0-2zM40 353l2 1-2 1-1-1zM104 352l1 2-1 1-1-1zM128 353l1 1-1 1-1-1zM94 357l2 1-2 0zM267 358l-1 2 0 1-2 0-1-1 2-2zM256 362l1 0-1 2zM244 365l2 1 0 1 2-1 2 1 0 2-6 0-1-1 0-2zM72 368l2 0 2 2 1 0 1 2 1 0-1 1-2 1-2-1-3-3zM115 372l-1 1-1-1zM48 373l2 0 1 1-2 2 0 6-1 1-2 1 0 1-1 1 1 1 2 0 1 1-1 2-2-2-3 0 0-2 1-2 1 0 0-2-1-2 0-2-1-2 1-1 2 0zM60 378l1 2-1 0z" fill="#DD4412" fill-rule="evenodd"/>
<path d="M458 46l0 404-424 0 0-48 2-2 4 0 2-2 2-1 4 0 1 1 0 2-1 2 4 2 0 1-1 1-3 0-2-2 0-1-2 0-2 1-1 2 1 2 4 4 1 0 1 1 2 1 1-2 1-1 2 1 2-1 0-3-2-2 1-2 3-3 3 3 1 0 2 1 1-1 1-2-2-2 1-2 6 0 1-2-1-2 0-2 1-1 0-1 2-1 2 0 1 1 0 2-1 2 1 2 1 0 2 1 1-1 1-2 0-2 2-1 4 0 1 1 0 6 1 1 2-1 1-2 1-1 2 0 1-1 1 0 2-1 1 1 1 0 2 1 2-2 4-2 2 1 2-1 2-2 2 0 2-1 1-2 3-3 2 0 2 1 0 2-1 2 1 1 2-1 0-2 2-1 4 0 2 1 3 0 1-2 0-6-2 1-1-1 3 0 2 1 2-1 1 0 2-2 1-2 1 0 3-3 2-1 6 0-1 2 2 0-1-2 1-2 1-1 1 1 0 2 1 1 2-1 2-2 2 1 3-3-2-2 3 0 0-2 2-2 4 0 2 1 2 2 2-2 2 0 2 1 3 0-1 1 0 3 2 1 2-1 2 0 2-4 2 0 2 4 2 2 0 2-2 2-2 0-2 1-2 2-2 0-2 1 2 1 2 0 0 1 1 2 0 6 1 1 2 1 2 0 2 2-1 2 0 2 1 2 2 2 4 0 2-1 2-2 2 0 2 1 1 2 1 1 0 1 1 2 1 1 3-3 6 0 2-2 1-2 1 2 0 4 1 2 2 0 2-1 1-1 0-2 1 0 2-1 1 1-2 4 3 0 2-2 2 0 1-2 0-2 1-1 2-1 2 2 2 1 1 1-4 4 1 1 2 1 2-2 0-2 4-4 0-2 2-4 1 0 1-1 2 1 2 0 1-2 1-1 2-1 2 1 1-1 0-4 1-1 0-3 1-2 2-2 1 0 4-2 1-2-1-1-2 0-2-1 1-2 0-4-2-2 1-2 2 1 2-1 2-2 0-1 2-2 0-1 1-2-1-2-2-2-1-2 0-2 1-2-1-2 1-2-1-2 0-2 1-2-2-1-2 0-2-1-2-2 0-3-4 0-1-1 0-2 2-4 0-2-1-2-2-2 0-3 2-2 0-7 6-6 0-3-4 0-4 2-1-1 1-2-1-2 0-2-1-2-2 2-1-2 1-1 2 1 0-4-2-2-1 2-1 0-2 1-3 3-1 2-1 0-1 1-2 0-1 1-1 2 1 2-1 2-4 0-2 1-1 1 1 1 0 1 2 2 0 4-2 1-1 1 0 4-4 4-2 0 0-8-1-2 0-1-2 0-2 1-2-1-2 0-1 1-1 0-4 2-1 0-1 1 0 1-1 2-2 0-2-2 1-2 0-2-1-2-1-1-2-1-2 0-1-2-1 0-2-1-2 0-1-1-1-2-2-2-2 0 0 1 1 1 1 2 0 2-1 2-1 1-2 0-2-1-6 0-4-2-2-2 0-1-1-1-1 0-2-1-2 0-1-1-1 0-4 2-2 0-2-1-2 0-2 1-1-2 0-4 1-1 0-1 1-2-1-2-2 2-3 0 2 2-1 2-2-1 0-1-1-2-1-1-4 0-2 1-2 0-1-2 0-2 1-1 0-1 2-2-4-2-1-2 1-2 0-3-2-1-2 2-2 1-5-5 0-4-3-3-2 2-2 1-1-2-1-1 0-1-2-1-2-2-2-1-2 2-2 1-1-1-1-2 0-3 1-1-1-1-2 0-2 1 0-4 1-2-1-2-2 0-4 4-8 0-1-2 0-6-2-4-2-2-2-4 0-2-1-2-2 2-2-4-2-1-1-1 0-2 2-2 0-2-1-1 0-1 2-4 0-2-2-2-2 4-2 2-2-1-2 0-2 1-2 0-1-2 2-2 1-2 0-1-1-1-1-2 0-2-2-2-2 0-2-2 2-1 4 2 2-2 4 0 2 1-4 2 0 2 6 6 1-2-2-2 0-4-1-2 0-6-2 0-2-1-2 0-2 2-1-1 1-2-4-4 2-4-1-2 0-4-1-2-2-2-1 0 0-2 1-2-1-2-1 0-4 4-2-1-1-1 0-6-1-1 0-1 6-3 1-1-1-2-2 0-4 2-3 0-4-4 0-2-1-1-2 1-2 0-1-2-1-1-2 0-3-3-1-2 0-1 4 0 1 1 2 0 2-2 0-2-1-1-2 2-2 1-1-2-1-1-1 1-1 2-2 0-2-1-2 1-1 0-1 1-2-2 0-43 1-2 0-2-1-1 0-39zM440 53l2-1 2-2-2-2-2 1zM448 64l1 2 1 0 2-2-2-2zM436 90l-1 2 1 1 2 0 0-1zM447 94l0 2 1 2 5 0 0-2-1-2zM58 130l4 2 2-1 1-1-3 0-2-1zM81 142l1 0 0-1zM90 147l-2 1 2 2 2 0 1-2 2-2-1-2-2 1zM76 150l-2 2-1 0 1 2 6 0 2-1 1-1-1-1-2-1zM81 168l0 2 1 2 2 0 1-2-1-2-2-1zM150 193l2 0 0-2-2 0zM155 194l0 2 1 1 2-1 0-1-1-1zM138 196l1 2 1 1 2 1 1-2 0-2-1-1-2 0zM97 202l1 1 1-1zM140 204l-1 2-2 2 5 0 1-2 0-2-1-1zM98 218l-2 2 2 2 4-2 1 0-1-2zM138 218l-2 4 1 2 1 1 1-1 1-2 0-2 1-2-1-1zM144 218l2 4 2 2 2 1 1-1-1-2 1-2 0-2-1-2-2 1-2 0zM152 228l-1 2 1 1 1-1zM160 234l1 0-1-1zM146 240l-2 2-1 0 1 1 2 0 1-1zM141 248l0 2 1 0 2 1 2 0 2 2 0 1 2 1 1-1 0-2-5-5-4 0zM149 260l0 2 4 0-1 0-1-2-1-1zM292 263l-2 0-2 2-2 1-2 2-2-1-2-2-4 0-1 1-1 2 0 8 2 2 2-1 2-2 2 1 2 2 0 2-1 2 1 1 2 0 6-3 2 0 2 2 1-2 0-2-2-2 2-4 1-1 2 1 1 2 4 0 1-2 1 2 1 1 0 1 2 2 1 2 1 1 2-1 1-2-1-2 0-2 2-1 2 0 1 1 1 2-1 2 0 2 1 1 2-1 2 1 2-2 4-2 1-1 1 0 2-1 2 0 2 1 0 2 0-2 2-4 0-2-4-2-1-2 0-2-3-3-4 2-6 0-2 2-2 1-2-2-1-2-1 0-2-1-2 1 0 2-2 2-2 0-2-1-4-4-2-1zM162 274l0 1-1 1 1 0 2 1 1-1 0-2-1-1zM361 276l1 0 0-1zM283 302l3 3 2 0 0-1-2-1-2-2zM286 310l2 1 1-1 0-2-1-1-2 0zM125 390l1 2 1-2-1-1zM140 392l-1 2 1 0 2 1 2 0 2-1-2-2-2-1-2 0zM216 400l-1 2 1 1 2-1-1-2zM108 404l1 0-1-1zM216 411l1 1 3 0 0-2-2-1-2 0zM206 412l0 1 2 0 0-1zM38 141l2 1 1 2-1 1-2-2zM60 159l1 1 0 2-1 1 0-1-1-2zM40 164l2-1 2 1 0 3-2 1-2-1-1-1zM56 165l2 1-2 1-1-1zM66 169l1 1-2 0zM52 176l2 0 1 2-1 2-3 0 1-2zM92 228l4 2 0 1 1 1-1 2-4 0-2-1-1 1 1 2-1 2-1 1-1-1 1-2 0-4 2-1 1-1zM90 243l2 1-3 0zM298 265l2 0 1 1 0 2-1 1-2 0 0-1-1-2zM142 273l1 1 1 0 2 1 2 0 2 1 1 0 0 2-1 2-2-2-2 1-2 0-3-3 0-2zM268 288l2 2-2 1-1-1zM204 303l1 1 1 2-2 1-2-1 0-2zM272 306l2 0 2 2 0 2-2 1-3-3zM242 308l2-2 1 2-1 1zM240 309l1 1-2 0zM194 353l1 1-1 1-1-1zM170 363l2 1-2 2-1-2zM216 372l0 2-1-2zM284 372l1 2-1 1zM132 375l2 0 0 2-2 0-1-1zM232 378l2 0 0 1-2 2zM210 386l2-1 1 1 0 2-1 1-2 0-1-1z" fill="#EE9330" fill-rule="evenodd"/>
<path d="M36 48l1-2 20 0 3 3 2 1 2-1 1-1 0-2 29 0 0 2 1 2 1 1 2-1 0-4 314 0 0 3 2 1 1 0-1 2 0 2 2 4 0 1 2-1 2 4 4 2 1 0 1 2-2 1-2 0-2-1-2 1-1 1 1 2 0 5 1 1 0 8 2 2-1 2 0 2 2 4 2-2 2 0 2 2-2 4 0 2-2 1-2 2-2 1-1-2-1-1-1 1 1 2 2 0 2 1 0 1 2 2 8 4 2-1 2 1 1 0 0 4 1 1 2 1 1 0-1 2 0 2 1 2 1 1 2 1 1-2 2-2 0-2 2-2 3 0 0 2-2 2 0 2 4-2 4 4 0 324-210 0 0-1-2 0 0 1-33 0 1-2 2-2-2-1-2 0-1 1-1 2-2-2-1-2-1-1-1 1 0 2-2 2-1 2-40 0-2-1 0 1-8 0-2-1-2 1-114 0 0-24 4 0-1-2-1-1-2-1 0-2 2-1 1 1 1 0 2 2-2 4 2 1 1-1 2-4 2 0 1 1 2 1 4-4 0-1 0 1 1 2 1 1 4-2 2 0 2-1 0-2 0 2 1 2 1 0 2 1 2-1 0-2-1-2 2-2 1-2-2-2-1-2 1-1 2 1 1 0 1 1 2 1 1-2 2-2 1-2 0-2 4 0 2 1 2 2 2 1 0 2 2 2 2-4 2 2-1 2-2 2 1 1 0 1 2 2 2 0 2-1 2 1 2-2 0-4 4-2 1 2 0 2 3 3 2 0 2 2 2 1 2-2 1 0 1-1 4 0 4-2 2-2 2-1 2 1 2-1 1-2 0-2-1-2 0-2 2-2 4 0-1 2 1 2 2 0 2 2 1 0 1 1 2 0 4 2 2 0 2-1 1-2 0-2-1-2 0-2 2-2 1-2-4-4 0-2 1-2-2-2 4-4 1-2 1-1 2-1 6 3 1-1 1 0 2-4 2 0 4 2 2 0 1 2 0 2-1 1-2 1-2 4 0 2 2 1 4 0 2 1 2 4-2 4 0 2 4 4 2 0 2 1 4 0 1 1 0 2-2 0-1-1 0 1-2 1 0 1-1 2 2 2 1 2 2 1 1 1 1 2 0 4-2 1-4-2-2 1-3 0-1-2 1-2-1-1-2 0-3-3 0-2-1 0-2 4 4 4 0 2 2 1 1 1 1 2 0 1 3 3 2 4 1 1 1-1 0-2-1-2 1-2 3 0 4 4 2 0 4 2 2-1 2 0 1-1 1 0 1-2 3-3 0 1 4 2 2-1 2 2 0 1 2 2 4-2 0-2-1-2-2-2-2-4-2-2-1-2 1-2 1-1 2-1 4 4 0 2 2 1 1-1 0-2-1-2 2-2 0-1 2 0 1 1 0 2 1 1 2 0 1-1 1-2 2-1 2 0 0 4-1 1 1 1 2 0 1-1 2-4 0-2 1-2 2-1 1 1 1 0 2 2 4-4 0-2-1-2 5-5 0 1 2 2 2 1 2-1 2-4 0-1 10 0 1-1 1-2 0-4 2-2 0-1 1-1 1-2 0-3 1 1 1 2 4 0 2-2 0-2-1-2 1-1 2 0 2-1 1-2 0-4 1-2 2-1 1-1-1-2 0-1-1-1 1 0 2-2 1-2 0-4 1-2-1-2-1-1 0-1-1-2 0-2 2-2-1-1-4 0-1-1-1-2-2-2 0-1-1-1-1-2 0-2 2-1 4 0 1-1 1-2-2-2-2 1-1-1-1 0-4-4 0-2-1-2 0-2-2-2 0-4 1-2 2 0 2 2-2 4 0 1 2 2 2 0 0-1 1-2 0-4 1-1 1 1 1 0 2 1 2 2 2-1 1-2 1 0 2-1 1 1 0 2-1 2 2 1 2-1 1-2-1-2 0-1-2-1-1-2 1-2 0-2 2 1 0 1 2 1 2 0 1-1 1-2 0-3 2-1 4 0 4 2 3 0 0-2-2-2 1-2 0-1 1-1 0-2 2-2 0-2-1 0-2-2 0-1-1-1 1-1 2 0 4-2 2 2 2 1-2 1-3 3 2 4-2 2 0 2 2 2 1 0 2 1 1-1 2-4 4-4 0-6 2-4 2-2 1 0 4-2 2-2-2-4-1 0-1-2-4-2 0-2 1-2-1-1-2 1-3 0-1-1-4 0-2 1-2-1-1-1-5 0-2-1-2-2-2-1-2 0-2-1-4 0-2-1-2 0-4 2-2 0-4-2-5 0-1 1-2 1-4-2-2 0-2 1-2 0-1 1-1 0-2 2-2 0-2-2-2-1-2 1-1 0 0 2-1 2-1-2 0-2-3 0-2 2-1 0-1-1-2 0-2 1-2 2 0 1 1 1-1 1 0 1-1 2-1 1-2-1-1 0-1-1-2 1-2 2-1 2 0 2-2 2 0 6-1 0-4-2-2-4 2-2-1-2-1-1-1 1 0 2 1 2-2 4-2 2-2-2-2-1-2 0-3 3 0 2-1 1-4 2-2-1-6 0-2 1 0 1-2 2-2-1-2-2-2 0-2-1-4 4-2 0-2 1-2 0-2-1-2 0-2-1-1-1 0-2-1-2 0-1-2 1-1-2 1-2 0-2-2-2-2 1-2 0-1-1 0-4-1 0-2-2-1-2 1 0 1-2-1-2-2 2-1-2 0-2 2-2 1-2 0-2-2-2 0-4 2-2 2-1 2 1-1 2 0 2 1 2 2-1 2 0 0 1 2 2 2 1 2 0 1-1 1-2 2-2 1 0 0-2 1 0 2-2 1-2-3-6-2 1-1 1-1 2-1 0 1 0 1 2-1 1-4 0-2-1-1-2-1-1 0-1-1-2 1-1 4-2 1-1-1-1-4 0-1-1 0-2 1-2-2-2-2-1-1-1-1-2 2-1 2 2 4 0 1-1-1-2 2-2 0-2-2-1-2 2-4 2 0-1-2-4-2-1-2-2-2-1-2 2-2-1-1-1 0-2 1-2 2 0 2 2 0 1 2 1 2 0 2-1 1-1-2-2 0-4-2-4-1-1-2-1 0-4-4-4-3 0-1-1-2-1-1 0-2-2-1 0-2-1-1-1 0-2 1-2-2-4 0-2-2-4 0-2-2-1-2 0-1-1-3 0-4 2-1-2 0-2 1 0 2-4-2-1-4 0-1-1 0-2 1-2 0-2-2-2 0-2 1-2 0-2-1-1-1 1-1 2-2 2-2-4 0-2 2-4 2-2 1-2-1-1-1 1-1 0-2 1-1 1 0 2-3 3-3-3-2-4 1-2 0-2-2-4-2-1-2 0-1-1 1-2 0-2-2-4-2 2-2 1-2-1 2-4 0-1 2 0 2 2 0-1 1-2 2-2 0-2-1-1-2-1-4 0 1-2 0-2-1-1-2 1 2 4-2 1-4 4-1-1-1 0-1-2-2-2-1 0-4-4 1-2-2-2-2 0-1 2-2 2-2-2 1-2-1-1-2-1-2 2-2-1-12 0-2 1-2 0 1 2-1 1-1-1 1-2-1-2-1-1-2 0-2-1 1-2 1-1 2 0 2 1 3 0 1-2-1-2 2-2-1-2-2-1-4 0-2-1-2-2-1 0 0-4-3-3-2 1-2-1-1-1 0-2-1-1-3 3 1 2-1 2 0 2 1 1 2 0 2 1 2 0 2 2 1 2-1 2 0 1-1 1-1 2-1 0-1 1-2-2-2-1 2-2-1-2-3-3-2-1-2 0-2-1 0-1-2-1 0-17 2 0-2-1 0-12zM39 48l0 2 1 1 0 1-1 2-1 1 0 1 2 2 6 0 2-1 2 0 2 1 2 2 0 1 0-1 2-1 2-2 2 0 1-1-1-1-2 0-2 1-4-2 0-2 1-2-1-1-2 1-1 0-1 1-2 0 0-1-4-4-2 1zM73 52l1 2 1-2zM377 52l1 2 2 0 1-2-1-1-2 0zM401 54l1 2 3 0 1-2-4-2zM63 56l0 4 1 2 2 1 2-1 0-2-2-4-2-1zM73 62l1 2 2 0 1-2 0-2-1-1zM394 62l1 0-1-1zM55 64l1 2 2 0-1-2zM47 66l1 2 2-2zM411 66l2 0-1-1zM66 70l0 2 2 1 2-1-1-2zM92 70l0 2 1-2zM146 78l0 1 1 1 1 0 1-2-1-1zM90 86l-2 2-2 1-1 1 1 2 2 0 2 1 3-3 0-2-1-2zM68 90l-1 2 2 0 0-2zM126 102l2 0-2-1zM431 120l1 1 2 0 1-1-1 0-2-1zM161 182l-1 2 2 2 2-1 1-1 0-2-1-1-2 0zM194 228l-1 2-1 1 0 1-1 2 1 0 4 2 2-4zM182 264l-1 2 1 2 4-2 1-2-1-1-2-1-2 1zM188 276l0 2 1 2 1 1 2-2 4 2 2 0 1-1 0-2 1-1 0-2-4 0-2 1-2 0-2-1zM197 286l1 1 2 0 1-1-1-1-2 0zM303 324l1 2 1 0 1 1 2 1 0-4-2-1-2 0zM309 374l2 0-1-1zM175 402l1 2 0 1 4 0 2-1 1 0 1-2-2-1-2 0-2-1-2 1zM341 404l0 2 1 2 2 1 1 1 3 0 1-2-3-3 0-1-2-1-2 0zM332 406l-2 1-1 1 0 2 2 2 0 2-1 0-1 2-2 2-1 2 0 2 1 2 0 2-1 2-2-2-2-1-2 1 3 6 3 3 4 0 2-2 2 1 2 2 0 2 1 0 0-2 1-2 2 1 2 2 1-1 0-4-1-2 1-2 0-8 1-1 0-3-2-2-2-1-2 1-2-2-2-4 0-1-1-1zM82 410l-2 0-2 2-4 0-1 2 0 4 1 1 2 1 2 2 2-4 1 0 1-1 2 2 2 1 2-1 1-1-1-1-2 0-1-1 0-2-1-2zM180 414l1 0-1-2 0-1zM146 414l-2 1 0 2 2 0 1-1zM310 418l0 2 2 0 0-3zM94 422l-1 2 1 2 0 2 2-1 1-1 0-2-2-2zM58 426l0 1-2-1-2 2 2 2 2-1 2 2 2-1 2-2-1-2-1-1-2 0zM245 426l1 1 1-1-1-1zM48 428l-2 1-1 1 1 2 2-1 1-1zM39 430l1 2 0 1 2-1 1 0-1 0-1-2-1-1zM83 430l1 2 0-2zM314 431l2-1 0-2-2 0zM49 436l0 2 1 1 2 0 1-1-3-3zM238 436l1 0-1-1zM78 444l0 1 1-1zM41 446l0 2 1 1 0-3zM220 446l2 1 2 0 2-1-4-2zM458 46l-1 2 1 1 0 2-2-1 0-2-1-2zM422 55l2 1-2 1zM432 72l0 3-1-1zM38 83l1 1 0 2-1 1 0-1-1-2zM43 88l-1 1-2-1zM36 91l2 0 0 1-1 2-1 1-2 0 0-2zM74 106l1 2 0 4-2 0 0-4zM444 113l1 1-1 2 0 1-2-1 1-2zM96 115l2 0 1 1-1 2-2 1-1-1 0-2zM80 117l2 1-1 2-1 1-1-1 0-2zM36 120l0 3-2 2 0-6zM80 126l2 0 1 2-1 2-2-1-1-1zM114 135l2 1-2 1-1-1zM120 145l1 1-1 2 0 1zM126 149l2 0 2 1 0 2-1 2 0 2-4 4 1 1 2 1 2 0 2 2-1 2 0 2 1 2 2 2 4 2 0 2-2 1-2 2-1-1 2-4-1-2-4 0-2 2 0 2-1 2-1 0-4 2-1 2 0 4 1 2-1 2-1 1-2 1-1 2 0 4-1 1-2 1-1-2 0-2 1-2-1-2-2-2 1-2-1-2 0-2 3 0 2-1 1-1 0-2-1-2 0-2 2-2 2 0 2 1 1-1 0-2-1-1-2 1-1-2 1-1 0-1 2-1 1-1 0-2-1-2-4 4-2-1-1-1 0-2-1-1 0-1-1-2 4-4 0-2 1-2 2 0 2 2 2-2zM122 158l0 1 1-1zM104 156l2-1 2 1 0 2-4 0-2 1 0 1-7 0 1-2 2 1 1-1 3 0zM104 168l2-1 2 1 2 2 1 2 2 2-1 2-2 2-3 0-1-1 0-1-1-2 0-4zM140 168l2 2-2 1-1-1zM146 169l2 0 0 2-2 0-1-1zM102 185l3 3 0 2-4 0-1-2 0-2zM146 192l1 2-1 2-1-2zM160 203l2 0 1 1 0 2-1 2-4-4zM148 208l2-1 2 0 2 1-2 1-2 0zM146 210l0 2-2 0zM160 219l1 1 0 2-2 2-2 0 1-2 0-1zM144 229l1 1-1 1-1-1zM164 249l2 0 2 1 1 0-1 1-4 0-1-1zM158 251l2 0 1 1-1 0-2 1-1-1zM166 256l2-1 2 1 1 2 0 2-1 1-2 0-3-3zM356 270l2-1 0 1-2 4-1 0 0-2zM266 273l1 1-1 2-2-2zM238 282l2 0 1 2 0 2 1 2-2 4 0 3-2 0-1-1 0-2-1-1 0-1-2-2 0-4zM330 289l2 0 2 1-4 4-2 4-2-1 0-2 1-1 1-2 0-1zM292 293l1 1-1 1zM308 308l2 2-2 1-2-1zM292 323l0 2-1-1zM302 358l2-1 2 1 1 0 2 2-3 0-2 1-2-1-1 0zM188 380l2 0 1 2-1 2 0 2-2 1 0-1-1-2 0-2zM190 388l0 2-1 0zM152 395l1 1 1 2-2 4-2-2 2-4zM126 407l2 1 0 2-1 2-1 1-2 0-2-1 1-2zM116 410l2 0 2 2 2 0-2 1-2 2-2 0-2-1zM232 411l2-1 1 2 0 2-1 2 0 1-2 0-1-1-1-2 1-2zM216 428l2-1 2 0 3 3-1 1-2 0-2-1-2 0-1-2z" fill="#F8DA55" fill-rule="evenodd"/>
<path d="M91 46l-1 1-2 1-1-2zM104 46l6 0 0 1-1 1 1 0 1 2 0 2-2 4-3 0-1-2 1-1 2-1-2-2-2 1-1-1 0-2zM120 46l-2 2-2-1-1-1zM140 46l-1 2 1 2 2 2 2 1 2 2 2 1-2 2-2 1-2 0-2-1-3 0-1-2 0-2 1-2-1-2-2 0-1 2 0 4-1 0-2-1-2-2 0-1-1-2 2-2 0-2zM150 47l1 1 0 2 3 0 2-2 0-2 138 0-2 1 0 1-1 2 1 2 2 0 2-1 2 2 0 1 3 6 1 0 2 1 4 0 1 1 1 2 1 0-1 0-2 1-2 0-3 3 0 2 1 1 2 0 2 2 2 1 1 2 0 2 1 2 2 1 2-2 2-1 0-1 2 0 2 2 2 1 2-1 2 1 3 0 0-4 1-2 0-2 2-1 4 0 1 1 0 2 2 2 1 0 2 1 2 0 4-2 2-2 2 0 1 1 1 0 1 2 4 4 0 2 1 2 2 1 2-1 2 2-1 2 2 2 1 0 1 2 0 2 1 2 0 1 2 0 0-1 1-2 0-2-1-1-2-1-2-4-1 0 1-1 0-2-2 1-2-1 0-1-2-2 0-2 2-1 2 1 1 0 1 1 2 0 2 2 4 2 2 0 2 1 1 2 0 2-2 2-1 0-2 2 0 1-1 1 1 1 4 0 1 1 0 2-1 1 0 1-2 4 0 4 2 2 0 1 2-1 2-2 0-1 4 0 2 1 0 1 2 2 2 1 2 0-1-2-2-2 2-2 2 0 1 1 2 1 2 0 2 1 0 1 1 2-1 1-2 1-2-1-1 1 1 2 0 3 0-1 4-2 4 2 2-2 2-1 2 2 0 1 2 2 4 2 2 2 1 0 2 4-1 1-2 1 2 1 4 0 1 1 1 2 1 0 1 2 0 2 1 2 0 2 1 1 6 0 1-1 0-2-1-2 0-3 2-1 0-2 2-1 2 0 1 1 1 2-2 1-1 1-1 2 1 2 4 4-1 2 2 1 1-1 0-2 1 0 2-1 0-1 2-2 0 5-1 1 0 2 1 2 0 300-103 0 1-2 0-2-2-1-1-1 2-2 1-2 0-5-1-1 1-2-2-4-1 0-2-2 1-2 2-2 1-2 1-1 4 0 2-1 1 0 1-2 0-2-4 0-1-2 1-2 0-2-1-2 1-2 0-2 1-2-1-2-2-2-2-1-2 0-1-1-1-2 2-2 0-2-2-1-2 1-4 0-4-2 0-1-2 1-1 0 1-2-2 0-1-2 0-2 1-1 2-1 0-4-2-1-5 5 0 2-1 2-2 2-2-1-1 1 1 1 0 1 1 2-1 2 2 4 1-2 1 0 2-2 1 0 2-2 1-2 1 2 0 2 1 2 4 2 0 2-2 1-2 0-2-1 0-2-2 1-2 0-2 1-2 2-2-4-1 0-1-2 0-1-2 0-2 2-2-1-1 0-1-2-2-1-1-1 3 0 2-1 3-3 0-2 4-4 2-4 2-2 0-4-1-1-2 0-4 4 0-1-2-2 1-2 2-2 1-2 0-2-2-4 1-2-4-4-1-2 0-2 2-2 1-2-1 0-2-1-1-1-2-4 0-2 2-2 1-2 0-4-1 2-1 0 0-3 2-2 2 1 0 1 2-2 0-1 2-2 0-1 4 0 2-1 0-2 2-2 2-1 2 0 4 2 6 0 2-2 1 1 0 2 1 0 2 1 2 0 2-2 2-1-1-2-1-1-1 1-4 0 1-2 2-2 2 2 2 0 1-2-2-2 0-2 1-2 2-1 0 1 2 2 2 1 4-2 0-3-2-2-2 1-2-1 2-2 2-1 1-1 1-2 1 0 2-4 0-2 2-2 1-2 4-2 1-2-2-4 1-2-1-2-1-1-4 0-1-1-1-2-2-1-2 0-1-1-1 0-4-4-2-1-4 0-2-1-2 0-2-1-4 0-4-2-2 0-2 1-2 0-4-2-2 1-2-1-6 0-2-1-4 0-2 1-2-1-6 0-2-1-4 2-2-2-2-1-2 0-2 2-2 1-1-2-1 0-2 1-2 0-2 1-4 0-2-2-2-4-2 0-2 2 0 2-2 2-2 0-2-1 0-1-2-2-2 0-2 1-1 1-1 2 0 2-3 0-3-6 0-2 1-2 0-2 2-2-1-1-2 1-4 0-4-2 0-5-1-1-3 0-1-2 0-2-5 0-2-2 0-1-2-1-2 1-2 0-2 1-2-4 0-1-1-1-1-2-2 0-2 1-2 0-2-1 0-2-1-2 1-1 0-1 1-2-1-2 0-1-2 1-2 2-1 2-1 1-2-1-2-2-8 0-1-2-1-1-2 0-1-1 0-2 1-1 2 0 2 1 2 2 2 1 2 0 1-1 0-2-3-6 0-1-2-1-2 1-2-1-1 0-1-2-2 0-2-4-2-2 0-2-2-4-2 0-2 1-1-1-1-2 0-2-2-1-1-1 0-2-1-1 0-1-1-2-1-1-2 0-4 2-1-1 0-2-1-2 0-2-1-2 0-2-1-1 0-1-2-2 0-1-2-2-2 0-2 2-1-1 0-2 2-4-1-2 0-6 2-2 2 0 2-1 2-2 2-1 4 0 1-2-1-1-4 0 0-2 1-1-1-2 0-2-2-2-2-1-2 2-2-1-2 0-2-1-4 0-1-1 1-2 0-2 2-4 2 1 2 0 2 2 2 0 1-1-1-2 2-2 2 1 2-1 0-5-2-1-4 2-1-2 1-2-2 0-2 2-1 2-1 1-2 0 0-1-1-2 0-2 1-2 0-2 1-2 1-1 2 0 2-2 2 0 1 1 2 4 1 0 2 2 0 1 0-1 4-2 1 0 0-2-1-2 0-3 2-1 4 0 2-1 1-1 3-6 0-2-2-1-1-1-2 0-1 1-4 0-2 2-2-1 0-4-2-2-2-1-3-3 1-1 0-1 1-2-1-2 0-4 2-1 2 0 1-1 0-4 1-2 0-3-1-1-1-2-1 0-2 2-3 6-1 0-1 1-2-1-2-2 1-2 0-4zM165 62l1 1 0-2zM162 69l0 3 4 2 1 0 0-2-1-2-2-2 0-1zM353 80l1 2 2 0 1-2zM163 114l-1 2 1 2 1 1 2-1 1-2-1-2 0-1-2 0zM164 122l2 2 1-2-1-1zM421 128l1 1 0-2zM427 136l2 0-1-2zM222 210l1 2 1 1 2-1 0-2-2-2zM327 350l0 2 1 1 2 0 2-1-1-2-1-1-2 0zM363 408l-1 2 2 2 2-2-1-2zM392 416l-1 2 1 2 2 1 1-1-1-2zM296 46l7 0 2 2 0 2-1 2 0 2-2 2-1-2 0-2-1-2 0-2-2 1-2-1zM308 46l4 0 0 1-2 1zM328 46l1 0-1 2zM346 46l5 0-4 4 0 2-1 1-2-1 2-4zM371 50l-1 1-1-1zM116 51l2 1 1 0 1 1 6 3 1 0 3 3 0 1 6 3 1 1-2 4 0 2 1 1 4-2 2 0 1 1 4 0 0 2-1 1-2 1-1 2-1 1-4-2-4 0-6-3-2 1-1 1 0 4-2 4-2 0-2-2 0-2 2-2-1-2 0-2-4-2-4 2-2-1-1-1-1-2-3 0 0-2 1-1 2 0 2-1 1 2 3 0 6-3 1-1-2-2-1-2-2-1-1-1 0-4zM129 66l2 0-1-1zM354 56l2-1 1 1 0 2-5 0 1-2zM328 57l2 2 2 1 1 0-1 0-2 1-2 0-1-1 0-2zM338 62l2 2-1 2-1 1-2 0-1-1 0-2 2-2zM142 64l2-1 1 1-1 2-2 1-2-1zM314 64l2 2-2 1-1-1 0-2zM316 67l2 0 2-1 2 1 0 1 2 4-2 0-2 1-2 2 0-1-1-2 0-2-1-2zM60 73l2 1-2 0zM136 79l2 0 2 1-1 2-2 2 0 2 1 1 2 0 1 1 0 4 1 0 4 2-2 2-2 1-2-2-2-1 0-1-3-3 0-2-1-1-2-1-1 0-1-2 1-2 1-1zM112 82l2-1 0 1-2 2 0 1zM412 81l2 0 1 1-1 2-1 0-1-1zM388 84l2-1 1 1-1 1-2 1zM108 88l2-2 2 2 0 3 2 1 0 2-2 2-2-4-2-2zM126 89l1 1-1 1zM394 88l2 4 2 0 2 2 2-1 2 1 1 0-1 1-2 0-2 2-4-4 0 1-2 1-2 0-2-1 1-2 2-2zM132 97l1 1-1 2-2-2zM392 99l2 0 2 1 1 0 0 2-1 1-2 0-2-1-1-2zM154 128l1 2-1 2-2-2zM144 131l0 1 1 2-1 1-1-1 0-2zM458 132l0 4-1-2zM146 146l4 2-1 2-1 1-2 0-4-2-1-1 1 0zM212 225l1 1 1 0 2 4 2 2 1 2-1 1-2-1-2-2-4-2 0-2 1-2zM228 232l2 1 1 1 1 0 2 1 2 0 0 2-2 0-4 2-2 2-1-1 2-2-1-2 0-1-1-1zM220 237l2-1 2 1 1 1 1 2-2 2-4 0-1-2 1-2zM210 240l1 0-1 1zM216 246l2-1 1 1-1 1zM226 246l2-1 1 1-1 1zM234 245l0 1 1 2-1 2-2 1 0-1-1-2 1-2 1 0zM222 247l2-1 1 2-1 2-2-1-1-1zM364 287l2 1 0 1-2 1-1-2zM320 374l2-1 1 1-3 3-1-1 0-2zM168 389l2 1 1 0-4 0zM318 394l2 2 0 1 1 1-1 0-2 1-2-1zM310 397l2 0 4 2 0 1-1 2-3 0-2-1-1-1 0-2zM304 399l1 1-2 0zM296 401l2 0 0 1 2 2-2 4 1 2 1 0 2 1 3-3 1 0 1 2-1 1-2 0-1 1-1 0-2 4 0 4-1 2-1 1-2 1 0 3 1 1 0 2 1 1 2 1 2 0 1-2 1-1 2 1 2-1 0 3 2 2 4 2-1 2 0 2 1 2 2 1 2 0 0 1 1 2-2 2 0 2-31 0-2-1-1 1-30 0 0-2-1-2 1-2 1-1 4-2 0-1 2-1 4 0 2 2 2 1 2-1 1-1 1-2 0-2-2-1-2 1-2 2-2-4 0-2-1-2 1-1 2 1 3 0 0-2-2-2 0-2 5-5 2 2 4 0 1 1 1 2-4 2-1 0 0 2 3 3 2-1 0-6 4-2 1 0 2-2 0-4 1-1 0-1 2-2 2 0 2 2 1 0 1-1 0-3-1-2 0-4 1-2zM302 442l-1 2 1 2 1-2zM130 422l1 2-1 1-2-1 1-2zM169 424l1 2-2 4-2-1-1-1 0-2 2-2zM78 426l1 2-1 2-1-2zM134 427l1 1-1 1-1-1zM116 429l2 0 2 1 2 0 2 2 6 3 2 0 0-1 2-1 2-2 2 0 1 1 1 2-2 2-2 1-2 0-1 1 0 4 1 2 1 0-1 1-2 1-2-2 0-2-2-2 0-1-1-1 0-2-1-1-2-1-1 2 0 2 2 4-1 2 1 2 0 2 1 2-4 0-2-1-1 1-12 0 2-2 1-2-1-2 1-2 4-2 2 2 1 2 1 1 2-1 1-2-2-4-1-1-2-1 1-2-2-2 0-2zM350 432l2 1 1 1-1 2-1 0-2-2 0-2zM94 436l4 0 1 2 0 2-1 0-4-2zM102 435l2 1-2 1-1-1zM112 435l1 1-2 0zM116 437l0 1-1 0zM142 436l1 2-1 1-1-1zM252 437l2 0 2 1-1 2-1 1-2 1-2-2 1-2zM320 438l1 2-1 2-2-1 0-1-1-2zM36 438l2 2-1 2-1 1-2 0 0-5zM138 444l2-1 1 1-1 1-2 1-1-2zM188 443l1 1-1 2-2 0 0-2zM98 446l1 2 1 1 2 1-4 0-1-2 0-2zM70 450l2-2 2 1 1 1-8 0zM230 449l2 0 2 1-4 0z" fill="#E3F056" fill-rule="evenodd"/>
<path d="M174 46l110 0 0 3-1 1-1 2 2 2 2-1 2 1 0 2-2 1-2-1-2 1-1 1-1 2 0 3 2 1 1 0 0 2-1 1 0 3 2 1 2 0 1 1 0 2 1 2 2 0 1-2 0-2 1-1 4 0 1 1 1 2 0 3-2 1-2 2 2 1 2-2 2 0 2 1 4 4 0 2 4 2 5 0 1 2-2 2 0 2 2 1 2 2 2-1 2-2 2 1 2 0 1-1 1-2 0-1 0 1 1 2 2 2 1 2 2-2 1-2 1-1 2 2 2 0 2-1-1-2 1-2 2-2 2 2 1 2-1 2 1 2 1 0 1-2 0-2 1-1 1 1 1 2 0 2 2 2 0 2-1 2 0 4 1 2 2 0 2 1 1 1 1 0 2 1 2 2 2 1 2-2 0-4 1 2 4 4 1 0 2 1 3 3 3 0 1 2-1 2 0 2 1 2 1 1 2-1 2 0 2-1 2 0 2 1 2 0 4 2 0 1 2 1 2-1 1-1-1-2 0-2 2-1 1 1 0 2 1 2 1 0 1 1 2 1 2 0 0 1-2-1-2 0-4 2 0 2 2 1 2 0 4-2 1-1 1 0 2 1 2 0 1 1 1 2 2 2 4 2 0 1 1 1-1 1-2-1-2 1-2 0 0-1-2-1-1 1 1 2 2 0 4 4 2 0 2-2 0-1 0 1 2 2-1 2 0 2 1 1 2 1 1 2 1 1 0 1 1 2 1 1 2 1 2 0 0-2 2 0 2 2-1 2 1 1 0 1 2 1 0 1 2 2 2-1 2 0 2 1 2 0 0 280-35 0 0-2 1-2 2-1 0-2-1-1-5 0-2-2-1 2 0 2 1 2-1 2 0 2-12 0 0-2 1-2 2-2 1 2 1 1 1-1-1-2 1-2 1-1 0-3 2-4 0-2-1-2-1-1 0-1-1-2-1-1-2-1 0-3 1-1 1 0 2 1 2 0 1-1-1-2-2-2-2 0-2-2-1-2-1-1-2 0-3 3-1 2-1-2 0-2-1-2 0-1-2 0-2 2-1-1-1 0-2-2 0-2 2-1 3-3-1-2 0-2-2-2-2 0-2 1-2-1-1-2-1-1-4 0-1 1 1 2 2 2-2 2-2-4-2-1-4 0-1-1 0-2 1-2 1 2 1 1 2 0 4-2 0-1 2-2-2-1-2 0-2-1 0-3-4 0-2-1 0-2-2-1-4 2-2-1-2 1-2 0-1-1 0-2-1-1-4 0-1-1 0-2 1-2 2 0 0-3-1 1-1 2-2-2 2-1 1-1 1-2-2-2 2-2 2-4 2-1 2 0 1 1 0 2-2 2 1 1 2 0 2-1 1 0-1-2 0-2 1-2 0-2-1 0-2-2 0-2 2-2 2-1 3 3 1 2 2-1 2 2 4 2 3 3 0 2 1 2 0 1 2 2 2 0 0-1 1-2 1-1 2-1 2 2 0 2-2 2 0 8 2 2 2 0 2-1 0-3 2-1 2 1 2-4 2 0 4-2 1-2 0-2-1-1-2 0-4 4-2 1-2 0-1-2 0-2 1-2-4-2-2 0-2-2 0-2-4-2-2 0 2-2 2-1 2 0 2 2 2 0 2 1 2-1 2 1 4 0 1 2-1 2 4 0 1-2-1-2-2 0-1-2 2-2 0-4 1-2 2 0 2-2-1-2-1 0-4-2-2 1 0 1-1 2 1 2-1 2-1 1-1-1-1 0-2-1-2 0-1 1-3 0-2 1-2 0-1-1 0-2-1-2-1 0-1-1 0-1-1-2-1-1-2-1 1-2 1 0 2-1 2 0 1-1 0-2-1-2-2-2-4 2-2-2-1 0-2-2 1-2 1 0 1-1 0-1 1-2 2-2 3-6-2-2-2 0-2-2-1 0 2-2 0-2 1-1 2-1 2 0 1-2 3-3 4 0 1 1 0 2-1 1-4 0-1 1-1 2-2 1 0 1-1 2 1 1 2 1-1 2 1 0 0 2 1 2-1 2-4 4 2 2 2 0 2-2 1 0 2-2 1-2 0-2 1-2 0-2-1-2-1 0 0-4 3-3 2 0 2-2 0-3-4-2 0-6-2-1-2 0 0-3-2 0-2-1-1-1 0-2 3-3 4 2 1-1 0-4-1-1-4 0-1-1 0-4-1-2-2-1-2 0-2 1-2-1 0-1-2-2-1 0-1-1-4-2-2 1-2-2-2-1-4 0-2 1-2 0-6-3-2 0-4-2-4 0-2 2-2 0-2-2-2-1-12 0-2-1-2 0-2 1-4 0-2-1-1-1-5 0-2 1-2-1-2 0-2-2-6 0-2 1-4 0-4-4-4 0-1 1-1 0-4 2-2 0-2-2 0-1-1-1-1-2 2-4 0-2 1-2 0-2 1-1 0-1 1-2-1-1-2 1-1 2-1 1-5-5-1-2-2 0 0-2-2-2-2-1-1-1 0-2 1-2 0-2-2-1-2 2-2 1-2-2-1-2-1-1-2-1-2 2-2 0 0-3 2-2 0-5 4-2 2 0 2 2 1-2 0-4-1-1-2 1-2-1-5-5 0-2 1-1 4-2 0-1 2-2-1-2-2 0-1 1-2 1-3 0-1 2 0 1-1 1-1 0-6-3-2 0-2-1-1-2 1-1 0-3-4 0-2-2 2-2 4 2 0 2 2-2 2 0-2 0-2-2 0-2-2 0-2 1-2 0-2-1 0-4 1-2-1-2-2 0-2 1-1 1 0 6 1 2-2 2-2-4 0-2-1-2-1-1-2-1-2 1-2 0-2-1-1 0-1-1-2 0-2 1 1 2 0 2-1 2 1 2 0 2-1 0-1-2 1-2-2-1-2-2-2-1 0-2-1-2 0-2-1-1 0-1-2-1-2 0 0 3 1 2 1 0 2 2 0 1 1 1-1 0-2 2-2 0-2-2-2 2 0 1-2 1-4-2-2-2-1 0-1-1 0-1-2-2 0-2 2-2 0-2 2-1 1-1 4 0 1 1 2-1 4 2 1-2 1-1 0-1-2-4-4 0-2-1-2 0-2 1-2 0-1-2 1-1 4 0 4-4 2-1 2 2 0 1 2-2 4 2 2 0 4-4 2-1 6 0 2-2 1-2 2-2 0-2 2-2 1-2-2-1-2 0-4 2-2-1-1-2 1-1 2-1 1 0 1-2 0-2-1 0-1 1-2 1-2-1-2 0-2-1 0-2-2-2 0-4-1-2-4-4 0-2 1-1 2-1 0-2 2-1 2-2 0-5 1-2 0-2-1-1 0-1-1-2-1-1-2 1-2 0-2 2-2-1-1-1 1-2 0-1 2 0 2 1 2-2-1-2-1 0-2-1-2 0-1-1 0-2-1-1 0-1-6-6 0-2 1-2 4-4-1-2zM278 52l1 2 2 0 0-2zM191 74l1 1 0-2zM194 106l2 0 2 2 1 0 1 1 1-1-1-1 0-1-2-2-2 2-2-1zM210 132l-4 2-1 2 5 5 2 1 1 0-3 3 0 3 1 2 0 2 1 2 4 0 2-1 1-1 1-2 0-2-2-4-2-2-1 0 1 0 2-4 0-2-2-1-2 0-3-3zM193 142l1 1 2 0 0-2-2 0zM203 150l0 2-1 2-2 2-1 0 1 1 4 0 2-1 1-2 0-4-1-1-2 0zM167 154l0 4 1 2 2-2 1-2 0-2-1-2-2 1zM215 160l1 1 2 0 1-1-1-1-2-1zM250 204l-1 2 1 1 2 0 1-1-1-2zM400 292l2 1 0-1zM427 292l1 1 1-1-1-1zM402 298l0 3 2 0 1-1 1-2-2-1zM433 300l0 2 1 1 1-1-1-2 0-1zM424 308l2 0 0-2-2-1zM436 322l0 2 2-1 0-1zM395 330l1 2 2 1 2 0 0-1-2-1-1-1-1-2zM414 332l-1 2 0 2 1 1 2 0 2-1-1-2-2-2zM425 332l-1 2 1 2 1 0 2-4-2-1zM386 334l-1 2 1 2 2 0 2-2 0-3-2-1zM414 346l-1 2 1 2 2 2 2-2 1 2-1 1-2 1 2 4 4 0 2-1 1-1-1-2-2-2-1-2-1-1-2-1 0-2-2-1zM384 374l-2 2 2 0zM378 380l-2 2 2 1 1-1-1-2 0-1zM409 382l0 2 2 0 0-2zM422 416l1 2 1 1 1-1 1-2 4 0-4 0-2-1zM421 424l-4 4 2 2 1 0 2 1 1-1 1 0 2 1 2-1 1-2 0-2-1-1-2 0-2-2-2-1zM328 85l2 1-2 2 0 1-1-1 0-2zM358 85l2 1 1 2-1 1-2-1-2-2zM358 102l1 2-1 2 0 1-1-1-1-2zM180 108l1 2-1 2 0 1-2-1-2-2 0-2zM182 118l2 0-2 1zM176 128l2 1 1 1 0 2-1 2-2 0 0-2-1-2zM172 167l1 1 1 0 1 2-1 2-2 0-1-2 1-2zM192 169l1 1-2 0zM180 174l2-1 1 1-1 2 0 1-1-1zM216 179l1 1 0 2-1 1-2-1 2-2zM190 182l1 2-1 2-2-1 0-2 1-1zM228 188l2 1 1 1 0 2-1 1-2 1-2-4zM216 207l2-1 1 2-1 1-2 0-1-1zM234 220l-2 2-1-2zM261 240l-1 1-1-1zM362 318l2-1 1 1-1 1-2 1-2 0 1-2zM332 323l2 1 0 2-2 1-1-1-1-2zM355 340l2 2 0 2-1 2-2-2-1-2 0-2zM374 342l2 2-2 1-2-1 0-1 1-1zM346 354l2-1 2 2 4 0 2 1 0 1-2 1-2-1-2 0 0 1-2 2-2 1-1-1-1-2 0-2zM393 370l-1 2-2-2zM368 397l2-1 1 2 2 2-1 2-2 0-2-2zM380 402l2-2 2 1 1 1 1 0 1 2 0 2-1 0-2 2-6 0 0-2zM402 424l4 2 2-1 0 1 1 2-1 2 3 6-1 1-2 1-2 0-2-1 0-3 2-2-2-4-2 0-2-1-1-1 1 0zM397 426l2 2 0 2-1 1-2-2 0-1-1-2zM278 436l0 1-1-1zM286 440l2-1 2 1 2 0 2-1 2 0 1 1 0 2-1 1-2 1-2-1-2 0-2 1-2 0-1-2zM376 443l2 0 2 1-2 2-2 0-2-2zM394 446l2 1 1 1-1 2-2-2zM276 450l2-1 2 1zM294 449l1 1-2 0z" fill="#9FDB17" fill-rule="evenodd"/>
<path d="M190 48l2-1 0-1 10 0 2 2 2-1 0-1 8 0-1 2 2 2 2 0 0-2-1-2 3 0 1 1 1-1 46 0 0 6 1 1 2 1 0 6-2 4 1 2 6 6 0 2 1 2 4 0 1 2 0 4 1 2 2 1 1 1 0 2-1 1-2 1 0 2 4 4 0 1 2 2 2-1 0-1 2-1 2 2 1 2-1 1-2 0-1 1 0 2 1 2 4 2 2-1 2 0 1 1 1 0 2 2 1 0-1 2-2 0-1 2 1 0 2 2 2-2-2-2 2-1 4 0 1 1 1 2 0 1 2 2 1-1 1 0 2-1 2 0 0-6-1-1 1-2 0-1 2-1 4 4 0 4 1 2 1 1 2 1 2 0 4-2 2 0 2 1 2-2 2-1 2 4 2 0 2 1 1 1 0 2-1 1-2 1-2-1-1-1-2 0 1 2 0 1 2 0 2-1 2 1 1 1 1 2 4 2 2 2 2 1 2 0 1-1 1-2 2-1 1-1 1-2 0-1 2 1 2 2 1 0-1 2 1 2-5 0-2 2-1 0 1 1 0 1 2 2 2 0 2 1 0-1 2-1 2 0 1 1 1 2 0 2 4 4 4 0 2-1 1 1 1 0 2 1 4 0 1-1 0-2 1-2 0-2 2-1 1 1 2 4 0 4 1 2 0 2 4 4 0 5 2-1 1 0 1-1 1 1 0 2 1 2 2 2 1 0 1-2-2-4 0-2 2-4 2 0 1 2-2 2 1 2 0 3-1 1-1 2 4 2 4 0 2-1 2 1 0 2-2 4 1 2 1 0 2 1 2 0 2 2 2 1 0 1 1 1 1 2 4 2 1 2 0 2 1 1 1-1-1-2 2-1 2 1 2-2 2 2 4 0 0 147-2 2 0-1-1-2-1-1-2-1-1 0-2-2 1-1 0-1 1-2 1-1 2-1 0-2-1-2 0-2-1-1-2 0-2-1-4 0 0 2 2 4 1 0-1 1-2 0 0-1-1-2-2-2 1-2 1 0-1-2 2-2 2-1 1-1 1-2-2-2-1-2 1-2 0-2-2-1-2 0-3-3-1-2-2-1-2 0-3-3-1-2 0-2-1-2-1-1-2-1-1 0-1-1 0-5-2-1-2 0-2-1-1 2 1 2 0 2-2 1-1-1-2-4 0-2 1-2 1 0-1-2-4-2-1 0-1-1-2 0-2 1-6 0-2-4 0-2-2 1-2 2-2-1 0-2-2-1-4-4-2 0-1-1-1 0-2-1-1-1-19 0-2-1-1-1-5 0-2-2-6 0-2-1-2 0-1-1-7 0-2 1-2 0-2-1-6 0-2-2-2-1-2 0-2 2-4 0-2-1 2-2 0-3-4 0-2 1-2 0 0-6-2-2-1 0-5-5-2-1 1-2 1-1 2-1 2 0 2-2-2-2-2 1-2 0-2 2-1-1 0-2-2-2-1 0-2-2 2-4 1 0 2-4-1-1-6 3-2 2-1 0-1 1 0-1-4-2-3 0-2-2 0-4-1-2-2-1-4 2-2 0-1-1-1 0 0-2-1-2 0-2-1-2 0-2 2-1 2 2 2 0 0-1 1-2 2-2-1-2-2 1-2 2-2 0-2-2-2 1-2-2-4 0-1-2 0-2 1-2-1-2 0-2-1-2 1-2 2-2 0-2-1-1-2 0-2 1 0 4-2 1-2 0-1-1 0-4-1-1 0-1-2-2 1-2 1-1 2 0 1-1-1-1-2-1-2-2 1-2-1-2-2-2 0-4 2-1 2 2 2 0 2-1-1-2-1-1-2-1-1 0 0-2-2-2 0-2 1-1 0-2-1-1 0-4-1-1-1 1-1 2-2 0-2-2-1-2 0-2 1-1 6 0 2-1 0-2-2-1-4 0-2 1-2 0-1-2 1-2-4 0-2-1-1-1 0-2-1-1 0-1-4-2 2-2 2-1 2 0 0 1 2 2 2-1 0-3-1-2 0-4-3 0-4-2-5 0 0-4-1-1 0-3-2-2-2-1-1-1 2-2 0-8 1-2-1-2 0-4-1-1 0-1-2-2 0-2-2-1-2 1-1 2-4 4-1 2-1-2 0-2-1-1-2 0-1-1 1-2 4-2 0-3-2-1-2 0-2-2 2-1 1-1zM196 50l2 2 0 1 4 0 1-1-1-1-2-1-1 0-1-1zM272 88l0 1 1-1zM225 98l1 1 0-2zM310 120l0 2 2 1 1-1 0-2-1-2zM333 122l0 2 2 0 0-2zM319 124l1 1 1-1-1-1zM240 134l-1 2 3 3 2 0 0-5-2-1zM396 149l1-1-1-1zM452 188l-1 2 1 2 1 0 0-2-1-2 0-2zM294 208l0 2 2 1 1-1 0-2-1-1zM298 226l-1 2 0 2 1 0 2-2 0-2zM435 274l1 2 0 1 0-1 1-2zM434 280l1 2 0 2-1 2 0 2 2 1 0-1 1-2 0-6-1-2zM453 292l-1 2 2 1 1-1 1-2zM196 66l2-1 2 0 2 1 0 2-1 2-1 1 0 1-1 2 1 2-1 2-1 1-1-1 0-2-2-4-2-2 0-2 1-2zM200 93l0 1 2 2-2 1-1-1 0-2zM308 94l2 0 0 3-2-2zM211 98l1 2-1 2-1 1-2-1-3 0 0-2 1-1 2-1zM206 107l2 1-1 2-1 1zM362 118l2-1 1 1 1 2 0 1-2 1-2-2zM356 118l2 1 1 1-1 1-4 2-1-1 1 0zM230 129l0 3 1 2-1 1-2-1 2-2zM228 140l2 2-3 0 0-2zM408 148l2-1 1 1zM226 162l2 0 2 2 1 0-1 1-2 1-2-1-1-1zM278 211l0 1 2 2 1 0-1 0-2 1-1-1 0-2zM274 223l2 1-2 1-1-1zM404 270l2-1 0 2zM396 315l0 1 1 2-1 0-1-2zM407 318l2 4-1 0-2 1-2 0-1-1 0-2 1-2zM432 333l1 1 1 2-2 1-2 0-1-1 1-2 1 0zM452 342l2 0 1 2 0 2 1 1 2 1 0 102-9 0-1-1-2 0-1-1 0-6-2-2 4-4 1-2 0-4-2-1-3-3-1 0-1-2-1-1-2-1 2-1 3-3-1-2 0-1-2-2 0-1-2-4-2-2-2-1-2 0-2 1-3 0-1-2 0-2 2-1 1-1 0-2-2-2 1-2 2-2 1-2-1-1-2 0-2 2-2-1-1 0-1-1-2-1-2 2-1 0 0-2 1-2 0-5 4 0 2-1 0-5 1-1 1 0 2-1 1-1 0-2-1-1-2 0-2-1 2-2 2 0 2 2 2 1 2-1-1-2 1-1 2-1 2-2 1-2 1-1 2-1 2 0 2-2 1-2 1-1 0-3 1-2 0-2 1-2zM372 363l6 3-2 1-4-2-1-1zM416 400l1 2-1 0zM436 429l2 0 1 1 0 2 2 2 1 2 1 0-1 1-2 1-2 0-4-2 0-2 1-2 0-2zM434 445l2 0 1 1-1 2-2 0-2-2zM440 450l2-1 2 0 0 1z" fill="#31BF00" fill-rule="evenodd"/>
<path d="M211 46l-1 2-1-2zM226 46l3 0 0 2-1 1-2-1zM234 47l2-1 25 0-2 2 0 4-3 0-2 1-1 1 1 1 6 3 2 0 1 2 0 2-2 2-1 0-2 2 2 2 1 2-6 6 0 2 1 2 8 0 2 1 1 1 1 2 0 2 1 2 0 2 1 2 4 2-1 2 0 2-3 3 0 1-1 2 1 1 2-2 2-1 4 0 2 1 1 1 1 2 0 2-8 0-2 1-1 1 0 2 1 1 2 0 2-1 2 2 4 0 4 2 0 4-2 4 0 2 2 1 3-3 0-2 2-4 0-2 1 0 4 8 0 2-2 1-1 1 0 2 1 2 2-1 1-1 1-2 0-2 2 1 4 0 2 1 6 0 2 4 4 0 2 1 1 1 1 0 2 2 8 4 2-1 2-2 4-2 2 0 2 1 0 2-2 1 0 2 2-1 2 1 1 1 1 2 2-1 2 1 0 4 2 1 2 2 2 0 0-1 2-2 4 0 4 2 1 0-1 0 0 4 2 4 2 1 2-2 2 0 2-2 2-1 1 2 0 2 1 2 0 7 4-4 2 0 2-2 0-1 1-2 1-1 1 1 1 0 2 4-2 4-4 0-2 4-2 2-2 0-2-2-2 2-1 2 1 1 2 1 4-2 2 0 2-1 2 0 2 1 2-4 0-1 2-2 4-2 1 1 0 4-1 2 0 3 1 1 1 0 2-2 2 0 2 2 2 1 2 0 1-1 1-2 2-1 2 0 0 1 2 4 1 0 2 2 0 4 1 1 0 1 1 2 0 2 1 1 2-2 2-1 2 0 2 1 0 2-1 1 1 0 2 1 4 0 2 1 1 0-1 1-2 0-1 1 0 8 1 2 1 0 0 2 1 1 2 0 6-6 2-1 2 4 0 1 2 1 0 54-2-1-3-3 2-2 1-2-2-1-1-1-4 0 2 4-4 4 0 4 1 1 0 2-1 1-1 0-2 1-2 2-2 1-2-1-2-2-2 0-2-1-2-2 2-4-2-2-1 0-1-1-2-1 0-1-2 1-2-1-1-1 0-2 1-1 2-1 4 2 2 0 4-2 0-1 1-1-3-3-1 1-1 0-1 2-1 1-2 1-2-1 0-1-2-2-4 0-1 2 1 2-2 2-2-1-2 0-2 1-8 0-2-1-1-1-3 0-2 1-2 0-4-2-2-2-2 0-2 1-4-2-4 0-2-1-2 1-4 0-2-1-2 1-4-4-2-1-2 0-2 1-2 0-2-1-2 0-2-1-2 0-2 1-2-1-1 0-1-2-2 1-1 1-3 0-2-1-2 1 0-2 1-2 0-4 1 0 2-2 2-1 2 1 2-1 1-1-1-1-4 0-2-1-1 0 0-2 2-2-3-6 1-2-1-1-4 2-2-2 0-1-2-2-6-3 0-3 2-1 2-2 2-1 2-2 1 0-1-2-2-1-1 1-2 0-1-1-2 1-1 0-1 2 0 2-1 0-1 1-2-2-2 0-2-2-2-1-2 0-2-1-2 0-1-1 2-4-1-1-2 0-2-1-1 0 0-4 1-2 1 0 2-2 0-2 1-1 2 1 0 2 1-2 1-1 2-1-2-1-2 0-3-3-2-4-1-1-2 1-1 2 1 2 2 2 0 2-1 2 0 2-3 3-2 0-1-1 2-2 0-2-1-2-2 0-4 2-1 0 0 4-1 1-4 0-2 2-2-1-2-2 0-2-4-8 1-2 0-2-1-2-2 1-2 0-3-3-1-2 0-2-2-2 0-4 1-2 1-1 0-1 2-2 2 1 4 0 2-1 1-2-1-1-4-2 0-2 2-2 2 0 2-1 0-2-2-2-2 0-2-1-1-1 1-1 2-1 0-3-1-1 1-1 2-1 2 0 1-2-1-1-4 0-2-1-2 0-2 2-2-1-1-1-3-6-1 0-1-1-4 2-1-1 0-6-1-2-2-2-4-2-1-2 1-2 4-2 1 2 1 1 1-1 3 0 2-2 0-2-2-2-3 0-1 2-2 2-1-2-1-1-4 0-4 2-2 0-1-1-1-2 0-2 2-1 1-1 0-2 1-2-2-1-1-1-1 0-2-2 2-4-2-2-2-1-2-2 0-1-1-2 1-1 2-1 1 0 1-1 2 1 1 0 1 2 0 1 1 1 1 0 2 1 1 1 1 2 2 1 1 1-1 2 1 2 1 0 2 2 1-2 0-2-2-4-2-2 0-2-1-2 0-4-1-2-3 0-1 2-1 1-2-1 0-10 1-2 0-4zM237 48l-1 2-2 2 2 1 2 0 1 1 0 2 1 1 2-1 0-3-1-1 0-2-3-3zM233 58l1 2 1-2zM244 66l-2 2 1 2 1 1 2-1 1-2 0-2-1-1zM232 86l2 0 0-1zM239 86l0 2 2 2 0 2 1 1 2 0 0-3 2-4-2-2-2 0-2 2zM266 106l-2 2 2 1 0-1 1-2zM259 116l1 2 0 1 2 0 1-1-1-2-2-1zM275 118l0 2 1 2 0 1 1 1-4 4 3 0 2 2 0-4 2-4-2-4 0-1-2 0zM305 130l2 0-1-1zM275 136l2 0 1-1 0-2zM291 136l1 1 2-1-2-1zM281 140l-1 2 2 1 2-1 0-1 1-1-1 0-2-1zM333 148l1 1 0-2zM353 156l1 1 2 0 2-1 0-2-2-1zM290 156l2 1 1-1-1-2zM305 158l1 1 2 1 0 2 0-2 2-1 2 0 1-1-1-1-4 0-2-1zM262 160l-1 2 0 2 1 1 2-1 1-2-1-2zM308 164l-1 2-1 1-2 1 0 2 6 0 1-2-1-1-2-1 0-4zM327 172l-2 2 1 0 2 2 2 1 1-1 1-2-1-2zM396 178l2 1 1-1-1-1zM352 180l-1 2 1 1 1-1zM410 184l0 1 2-1zM418 186l2 1 2-1 1 0-2-2-1 0-2-1zM313 186l1 2 2 1 1-1 0-2zM300 188l2 2 1-2-1-1zM308 196l2 1 2-1-2-1zM331 198l1 2 1-2zM373 200l0 4 2 2-1 2-4 2-3 0-1-1-1 1 0 4 1 2 2 1 2-2 2 0 1 1 0 2-1 2 1 2 0 4 1 2 2 2 2-1 2 1 4 0 2-1 2 0 1-1 0-2 1-1 2-1 1-2-2-2 1-2-2-1 0-1-1-2-2-2-1-2-1 2-2 2 0 6-1 1-2 0-1-1 0-2 2-2 0-4-1-2 0-1-1-1-1-2 0-1-3-3 0-2-1-1zM344 206l-2 2-2 0 0 2 2-2 2 1 2-1zM442 210l1 0-1-1zM408 214l0 1 2-1zM340 218l-2 4 1 2 3 3 2-1 0-4 1-2 0-2-1-1-2 0zM403 220l0 2 1 0 4-2 0-3-2 0zM426 218l1 2 1 1 2 0 0-2-2-2zM362 224l0 2 2 1 2-1 2-2-4-2zM425 226l0 2-1 2 0 4 2 0 2-2 0-5-2-2zM441 238l1 0 0-1zM409 244l1 2 1 0-1-2 0-1zM433 258l1 2 1-2-1-1zM212 52l2 2 1 2 2 2 0 2-3 0-2-2 0-2-1-2zM220 58l2-1 2 1 0 3-1 1-4 0-1-2 1-2zM212 67l2 0 0 3-1 2-1 1-1-1 0-4zM270 77l0 1-1 0zM332 127l1 1 1 2-4 0 0-2zM370 148l3 0-1 1-2 0zM380 149l2 1-2 1-1-1zM260 172l1 2 0 2-1 1-2 0-1-1-1-2zM286 193l1 1-1 2-1-2zM376 211l1 1-1 1-1-1zM318 232l2-1 4 0 1 1-1 2-2 1-2 0-4 4-2-1-1-2 1-2 0-1 2-1zM450 270l2 0 1 2-1 1-2 0-1-1zM458 275l0 4-1-1 0-2zM456 299l1 1-1 0zM452 370l2 0 2 2 1 2-1 2-2 2-3-6zM437 376l1 2-2 1-2-1 1-2zM446 380l2-1 4 0 1 1-1 2 0 2 2 1 2 0 2-1 0 5-2 1-1 0-1 2-2 2 0 1-2 0-3-3-1 0-2-1 0-1-1-2-1-1-2-1 3 0 1 1 2 1 2 0 4 2 2-2-2-1-2 0-4-4zM444 392l1 2-2 0zM448 397l1 1 0 2 1 0 1-2 1-1 6 0 0 13-2 0-2-4 0-3-1 1 0 2-1 1-2 0-2-1-1 0-1-2-1 0-1-2 2-1 1-1 0-2zM456 445l2 0 0 2-2 0-1-1z" fill="#00A600" fill-rule="evenodd"/></g>
<path d="M133.1,134.4 L135.4,136.7 L138.4,137.3 L143.0,136.1 L146.6,137.9 L150.1,140.2 L153.6,141.4 L158.3,142.0 L161.2,139.6 L165.3,142.6 L171.2,145.5 L177.0,147.3 L184.1,149.6 L188.8,146.7 L192.3,144.3 L197.0,146.1 L201.6,149.0 L205.2,154.3 L208.5,156.7 L208.5,160.2 L213.2,162.0 L216.7,164.9 L217.9,170.2 L220.2,169.0 L223.8,175.5 L227.3,181.3 L229.6,183.1 L235.5,186.0 L241.3,189.0 L248.4,191.9 L251.9,195.4 L253.0,198.9 L256.6,197.2 L261.3,198.3 L265.9,199.5 L271.8,198.9 L274.1,202.4 L278.8,202.4 L281.2,207.1 L287.0,204.8 L291.7,202.4 L294.1,202.4 L299.9,206.5 L305.8,208.3 L312.8,210.6 L318.9,211.7 L323.8,212.7 L328.7,215.6 L333.1,214.6 L335.5,217.6 L336.5,220.5 L339.4,223.4 L341.4,228.3 L346.3,231.3 L345.3,237.1 L348.2,242.0 L352.1,243.0 L355.0,247.9 L358.0,250.8 L360.9,253.2 L363.8,257.1 L367.7,256.6 L371.6,257.6 L373.6,254.7 L376.0,254.2 L376.5,258.6 L375.1,262.5 L377.5,264.5 L373.6,265.4 L370.7,267.4 L367.7,271.3 L365.8,274.2 L365.8,279.1 L362.9,282.0 L359.0,285.9 L357.5,288.9 L358.1,293.5 L359.0,297.0 L360.8,302.3 L363.4,307.6 L366.9,312.9 L368.7,318.1 L371.3,321.6 L374.8,325.2 L376.6,329.5 L377.5,333.9 L376.6,336.6 L379.2,339.2 L381.9,344.5 L382.7,349.8 L382.7,355.0 L384.5,360.3 L388.0,363.8 L389.8,369.1 L391.5,372.6 L395.0,376.1 L396.8,377.9 L393.0,382.0 L388.0,385.5 L381.9,386.7 L379.2,384.9 L376.6,380.5 L373.1,377.0 L369.5,373.5 L365.2,370.9 L360.8,367.3 L356.4,365.6 L349.3,365.1 L345.8,362.9 L341.4,360.3 L337.0,356.8 L334.8,356.1 L330.2,354.4 L326.6,356.7 L325.5,359.6 L320.8,362.0 L316.1,363.8 L312.6,361.4 L306.7,360.8 L300.9,360.2 L295.0,360.8 L290.3,359.1 L285.6,357.3 L280.9,353.8 L277.4,353.2 L273.9,350.9 L272.7,347.3 L269.2,345.0 L264.5,340.3 L259.8,333.3 L258.7,328.6 L255.2,325.1 L254.0,321.6 L254.6,319.2 L253.4,315.7 L252.8,312.2 L249.3,308.7 L243.4,305.2 L237.6,304.0 L231.7,302.8 L227.0,302.2 L222.0,301.2 L218.1,300.2 L218.1,297.3 L216.2,294.3 L212.3,292.4 L208.4,287.5 L204.5,282.6 L203.5,279.2 L199.6,278.2 L195.7,275.8 L192.7,272.9 L187.9,269.9 L183.9,266.0 L179.1,264.1 L174.2,261.1 L169.3,258.7 L166.4,255.3 L163.4,250.4 L159.5,247.5 L154.6,244.5 L150.7,241.6 L147.8,237.7 L143.9,234.8 L140.0,233.3 L136.0,231.6 L133.7,228.1 L130.2,225.8 L123.1,223.4 L121.4,218.8 L122.0,211.7 L124.3,208.8 L122.0,209.4 L118.4,204.7 L113.8,202.3 L112.6,197.7 L109.1,193.0 L106.7,188.3 L104.4,183.6 L104.4,177.7 L106.7,175.4 L108.5,170.7 L112.6,167.2 L118.4,166.6 L123.1,169.5 L128.4,168.4 L129.0,163.7 L128.4,155.5 L130.2,148.4 L134.3,143.8 L134.3,140.2 Z" fill="none" stroke="#000" stroke-width="1.3" stroke-linejoin="round"/>
<polygon points="165.50,77.00 170.70,85.80 160.30,85.80" fill="#000"/>
<polygon points="260.20,127.60 270.60,127.60 265.40,136.40" fill="#000"/>
<polygon points="323.80,155.60 332.10,170.40 315.50,170.40" fill="#000"/>
<polygon points="48.10,230.75 73.10,230.75 60.60,252.25" fill="#000"/>
<polygon points="200.70,251.10 217.30,251.10 209.00,265.90" fill="#000"/>
<polygon points="296.50,250.25 321.50,250.25 309.00,271.75" fill="#000"/>
<polygon points="144.00,290.25 169.00,290.25 156.50,311.75" fill="#000"/>
<polygon points="197.50,309.25 222.50,309.25 210.00,330.75" fill="#000"/>
<polygon points="377.40,308.80 387.80,308.80 382.60,317.60" fill="#000"/>
<polygon points="404.40,336.80 409.60,345.60 399.20,345.60" fill="#000"/>
<polygon points="425.70,354.10 442.30,354.10 434.00,368.90" fill="#000"/>
<polygon points="341.20,384.30 351.60,384.30 346.40,393.10" fill="#000"/>
<polygon points="420.00,411.60 428.30,426.40 411.70,426.40" fill="#000"/>
<text x="170.7" y="69.5" text-anchor="start" class="lab">307.6</text>
<text x="271.3" y="120.4" text-anchor="start" class="lab">509.1</text>
<text x="328.7" y="150.8" text-anchor="start" class="lab">494.9</text>
<text x="65.1" y="229.3" text-anchor="start" class="lab">246.1</text>
<text x="215.6" y="247.3" text-anchor="start" class="lab">363.45</text>
<text x="314.2" y="248.7" text-anchor="start" class="lab">397.05</text>
<text x="155.0" y="288.4" text-anchor="start" class="lab">226.2</text>
<text x="216.7" y="307.5" text-anchor="start" class="lab">206.8</text>
<text x="388.0" y="301.5" text-anchor="start" class="lab">430.7</text>
<text x="390.8" y="349.8" text-anchor="end" class="lab">378.85</text>
<text x="445.5" y="392.2" text-anchor="end" class="lab">537.75</text>
<text x="335.2" y="398.6" text-anchor="end" class="lab">355.85</text>
<text x="405.8" y="434.6" text-anchor="end" class="lab">316</text>
<rect x="41.2" y="43.7" width="412.3" height="412.2" fill="none" stroke="#000" stroke-width="2.3"/>
<line x1="42.8" y1="34" x2="42.8" y2="43.7" stroke="#000" stroke-width="2.2"/>
<line x1="131" y1="34" x2="131" y2="43.7" stroke="#000" stroke-width="2.2"/>
<line x1="219.5" y1="34" x2="219.5" y2="43.7" stroke="#000" stroke-width="2.2"/>
<line x1="307.5" y1="34" x2="307.5" y2="43.7" stroke="#000" stroke-width="2.2"/>
<line x1="396" y1="34" x2="396" y2="43.7" stroke="#000" stroke-width="2.2"/>
<line x1="101.8" y1="455.9" x2="101.8" y2="465.5" stroke="#000" stroke-width="2.2"/>
<line x1="194.8" y1="455.9" x2="194.8" y2="465.5" stroke="#000" stroke-width="2.2"/>
<line x1="286.6" y1="455.9" x2="286.6" y2="465.5" stroke="#000" stroke-width="2.2"/>
<line x1="378.75" y1="455.9" x2="378.75" y2="465.5" stroke="#000" stroke-width="2.2"/>
<line x1="31.5" y1="48" x2="41.2" y2="48" stroke="#000" stroke-width="2.2"/>
<line x1="31.5" y1="165.1" x2="41.2" y2="165.1" stroke="#000" stroke-width="2.2"/>
<line x1="31.5" y1="283.9" x2="41.2" y2="283.9" stroke="#000" stroke-width="2.2"/>
<line x1="31.5" y1="400.9" x2="41.2" y2="400.9" stroke="#000" stroke-width="2.2"/>
<line x1="453.5" y1="72.1" x2="462.7" y2="72.1" stroke="#000" stroke-width="2.2"/>
<line x1="453.5" y1="188.9" x2="462.7" y2="188.9" stroke="#000" stroke-width="2.2"/>
<line x1="453.5" y1="306.6" x2="462.7" y2="306.6" stroke="#000" stroke-width="2.2"/>
<line x1="453.5" y1="423.8" x2="462.7" y2="423.8" stroke="#000" stroke-width="2.2"/>
<text x="42.8" y="26.9" text-anchor="middle" class="ax">97°E</text>
<text x="131" y="26.9" text-anchor="middle" class="ax">98°E</text>
<text x="219.5" y="26.9" text-anchor="middle" class="ax">99°E</text>
<text x="307.5" y="26.9" text-anchor="middle" class="ax">100°E</text>
<text x="396" y="26.9" text-anchor="middle" class="ax">101°E</text>
<text x="101.8" y="488" text-anchor="middle" class="ax">98°E</text>
<text x="194.8" y="488" text-anchor="middle" class="ax">99°E</text>
<text x="286.6" y="488" text-anchor="middle" class="ax">100°E</text>
<text x="378.75" y="488" text-anchor="middle" class="ax">101°E</text>
<text transform="translate(24.1,165.1) rotate(-90)" text-anchor="middle" class="ax">38°N</text>
<text transform="translate(24.1,283.9) rotate(-90)" text-anchor="middle" class="ax">37°N</text>
<text transform="translate(24.1,400.9) rotate(-90)" text-anchor="middle" class="ax">36°N</text>
<text transform="translate(485.3,72.1) rotate(-90)" text-anchor="middle" class="ax">39°N</text>
<text transform="translate(485.3,188.9) rotate(-90)" text-anchor="middle" class="ax">38°N</text>
<text transform="translate(485.3,306.6) rotate(-90)" text-anchor="middle" class="ax">37°N</text>
<text transform="translate(485.3,423.8) rotate(-90)" text-anchor="middle" class="ax">36°N</text>
<text x="262.8" y="524.8" text-anchor="middle" class="pl">(d)</text>
</g>
<text x="67.6" y="1151.3" class="lh">PREC</text>
<rect x="67.2" y="1169.6" width="51.8" height="24.4" fill="#C20000" stroke="#6b6b6b" stroke-width="2.6"/>
<text x="127.3" y="1192.7" class="lt">&lt; 200</text>
<rect x="67.2" y="1211.2" width="51.8" height="24.4" fill="#DD4412" stroke="#6b6b6b" stroke-width="2.6"/>
<text x="127.3" y="1234.3" class="lt">200 - 250</text>
<rect x="67.2" y="1252.8" width="51.8" height="24.4" fill="#EE9330" stroke="#6b6b6b" stroke-width="2.6"/>
<text x="127.3" y="1275.9" class="lt">250 - 300</text>
<rect x="67.2" y="1294.4" width="51.8" height="24.4" fill="#F8DA55" stroke="#6b6b6b" stroke-width="2.6"/>
<text x="127.3" y="1317.5" class="lt">300 - 350</text>
<rect x="67.2" y="1336.0" width="51.8" height="24.4" fill="#E3F056" stroke="#6b6b6b" stroke-width="2.6"/>
<text x="127.3" y="1359.1" class="lt">350 - 400</text>
<rect x="67.2" y="1377.6" width="51.8" height="24.4" fill="#9FDB17" stroke="#6b6b6b" stroke-width="2.6"/>
<text x="127.3" y="1400.7" class="lt">400 - 450</text>
<rect x="67.2" y="1419.2" width="51.8" height="24.4" fill="#31BF00" stroke="#6b6b6b" stroke-width="2.6"/>
<text x="127.3" y="1442.3" class="lt">450 - 500</text>
<rect x="67.2" y="1460.8" width="51.8" height="24.4" fill="#00A600" stroke="#6b6b6b" stroke-width="2.6"/>
<text x="127.3" y="1483.9" class="lt">&gt; 500</text>
<text x="321" y="1150.8" class="lh">PBIAS</text>
<polygon points="331.10,1167.10 362.90,1167.10 347.00,1195.30" fill="#000"/>
<text x="381.5" y="1192.7" class="lt">&lt; -30%</text>
<polygon points="334.50,1212.05 359.50,1212.05 347.00,1233.55" fill="#000"/>
<text x="381.5" y="1234.3" class="lt">-30% - -20%</text>
<polygon points="338.70,1257.00 355.30,1257.00 347.00,1271.80" fill="#000"/>
<text x="381.5" y="1275.9" class="lt">-20% - -10%</text>
<polygon points="341.80,1301.60 352.20,1301.60 347.00,1310.40" fill="#000"/>
<text x="381.5" y="1317.5" class="lt">-10% - 0</text>
<polygon points="347.00,1343.20 352.20,1352.00 341.80,1352.00" fill="#000"/>
<text x="381.5" y="1359.1" class="lt">0 - 10%</text>
<polygon points="347.00,1381.80 355.30,1396.60 338.70,1396.60" fill="#000"/>
<text x="381.5" y="1400.7" class="lt">10% - 20%</text>
<polygon points="347.00,1420.05 359.50,1441.55 334.50,1441.55" fill="#000"/>
<text x="381.5" y="1442.3" class="lt">20% - 30%</text>
<polygon points="347.00,1458.30 362.90,1486.50 331.10,1486.50" fill="#000"/>
<text x="381.5" y="1483.9" class="lt">&gt; 30%</text>
<polygon points="789.5,1179.0 803.5,1232.3 789.5,1246.3" fill="#fff" stroke="#000" stroke-width="1.4" stroke-linejoin="miter"/>
<polygon points="789.5,1179.0 775.5,1232.3 789.5,1246.3" fill="#000" stroke="#000" stroke-width="1.4" stroke-linejoin="miter"/>
<polygon points="856.8,1246.3 803.5,1260.3 789.5,1246.3" fill="#fff" stroke="#000" stroke-width="1.4" stroke-linejoin="miter"/>
<polygon points="856.8,1246.3 803.5,1232.3 789.5,1246.3" fill="#000" stroke="#000" stroke-width="1.4" stroke-linejoin="miter"/>
<polygon points="789.5,1313.6 775.5,1260.3 789.5,1246.3" fill="#fff" stroke="#000" stroke-width="1.4" stroke-linejoin="miter"/>
<polygon points="789.5,1313.6 803.5,1260.3 789.5,1246.3" fill="#000" stroke="#000" stroke-width="1.4" stroke-linejoin="miter"/>
<polygon points="721.2,1246.3 775.5,1232.3 789.5,1246.3" fill="#fff" stroke="#000" stroke-width="1.4" stroke-linejoin="miter"/>
<polygon points="721.2,1246.3 775.5,1260.3 789.5,1246.3" fill="#000" stroke="#000" stroke-width="1.4" stroke-linejoin="miter"/>
<text x="787" y="1173.2" text-anchor="middle" class="cp">N</text>
<text x="697.5" y="1260.5" text-anchor="middle" class="cp">W</text>
<text x="873.7" y="1260.8" text-anchor="middle" class="cp">E</text>
<text x="787.9" y="1353" text-anchor="middle" class="cp">S</text>
<rect x="621.5" y="1451.7" width="310.3" height="14.6" fill="#000" stroke="#000" stroke-width="2.6"/>
<rect x="674.5" y="1453" width="48.8" height="12.1" fill="#fff"/>
<rect x="829.7" y="1453" width="100.3" height="12.1" fill="#fff"/>
<text x="621.7" y="1438.3" text-anchor="middle" class="lt">0</text>
<text x="673" y="1438.3" text-anchor="middle" class="lt">50</text>
<text x="725.2" y="1438.3" text-anchor="middle" class="lt">100</text>
<text x="827.5" y="1438.3" text-anchor="middle" class="lt">200</text>
<text x="932" y="1438.3" text-anchor="middle" class="lt">300</text>
<text x="939.8" y="1465.6" class="lt">km</text>
</svg>
</body></html>
